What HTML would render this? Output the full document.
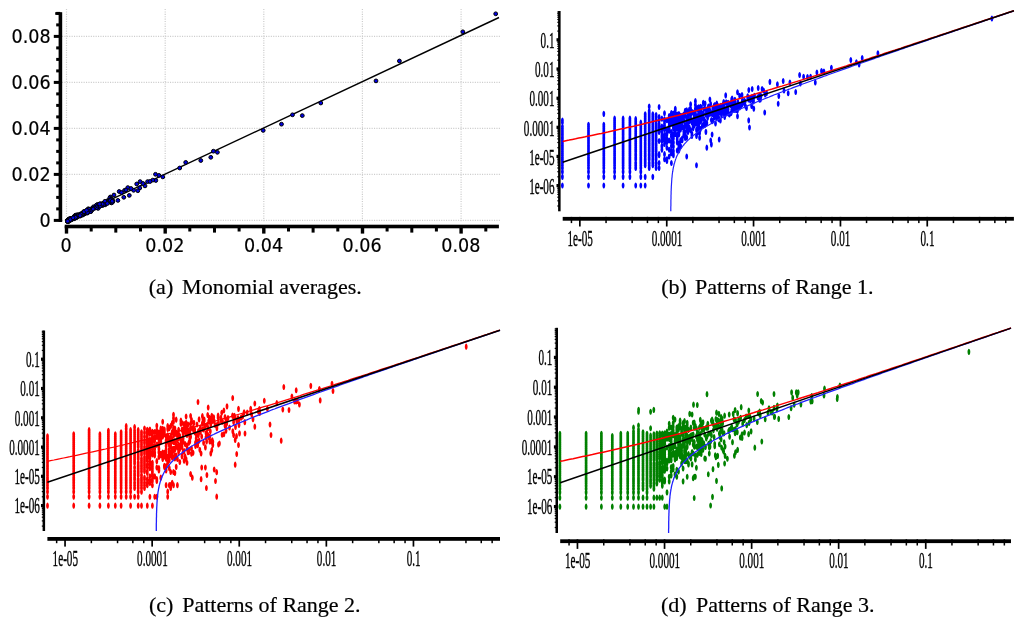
<!DOCTYPE html>
<html lang="en"><head><meta charset="utf-8"><title>Monomial averages and patterns</title>
<style>html,body{margin:0;padding:0;background:#fff}body{width:1024px;height:626px;overflow:hidden}svg{display:block}</style>
</head><body>
<svg width="1024" height="626" viewBox="0 0 1024 626" role="img" aria-label="Four scatter plots">
<rect width="1024" height="626" fill="#fff"/>
<g id="plot-a">
<g stroke="#cdcdcd" stroke-width="1.2" stroke-dasharray="1.1 1.3" fill="none">
<path d="M62 220.4 H500"/>
<path d="M62 174.4 H500"/>
<path d="M62 128.4 H500"/>
<path d="M62 82.4 H500"/>
<path d="M62 36.4 H500"/>
<path d="M66.5 9 V222"/>
<path d="M165.2 9 V222"/>
<path d="M263.8 9 V222"/>
<path d="M362.4 9 V222"/>
<path d="M461.1 9 V222"/>
</g>
<path d="M66.5 220.4 L499 17.5" stroke="#000" stroke-width="1.4" fill="none"/>
<g fill="#0000e0" stroke="#000" stroke-width="1">
<circle cx="495.7" cy="13.8" r="1.9"/>
<circle cx="462.8" cy="31.8" r="1.9"/>
<circle cx="399.4" cy="61" r="1.9"/>
<circle cx="376" cy="80.9" r="1.9"/>
<circle cx="320.8" cy="103" r="1.9"/>
<circle cx="302.3" cy="115.6" r="1.9"/>
<circle cx="292.5" cy="114.8" r="1.9"/>
<circle cx="281.5" cy="124.2" r="1.9"/>
<circle cx="263.2" cy="130.4" r="1.9"/>
<circle cx="213.4" cy="151.2" r="1.9"/>
<circle cx="217.4" cy="152.3" r="1.9"/>
<circle cx="210.8" cy="157.3" r="1.9"/>
<circle cx="200.8" cy="160.5" r="1.9"/>
<circle cx="185.7" cy="162.4" r="1.9"/>
<circle cx="179.7" cy="168" r="1.9"/>
<circle cx="162.8" cy="176.9" r="1.9"/>
<circle cx="158.9" cy="175.4" r="1.9"/>
<circle cx="155.5" cy="174.3" r="1.9"/>
<circle cx="155.8" cy="180.5" r="1.9"/>
<circle cx="152.8" cy="180.1" r="1.9"/>
<circle cx="147.6" cy="181.6" r="1.9"/>
<circle cx="145" cy="185.9" r="1.9"/>
<circle cx="140.1" cy="181.6" r="1.9"/>
<circle cx="136.7" cy="184" r="1.9"/>
<circle cx="139.8" cy="187.9" r="1.9"/>
<circle cx="137.8" cy="190.7" r="1.9"/>
<circle cx="133.6" cy="190.3" r="1.9"/>
<circle cx="127.8" cy="187.6" r="1.9"/>
<circle cx="124.6" cy="190.3" r="1.9"/>
<circle cx="129.3" cy="195.4" r="1.9"/>
<circle cx="123.8" cy="197.3" r="1.9"/>
<circle cx="117.9" cy="200.4" r="1.9"/>
<circle cx="119.2" cy="191.5" r="1.9"/>
<circle cx="114" cy="195" r="1.9"/>
<circle cx="110.4" cy="197" r="1.9"/>
<circle cx="131" cy="188.5" r="1.9"/>
<circle cx="143" cy="183.5" r="1.9"/>
<circle cx="150" cy="181.5" r="1.9"/>
<circle cx="121.5" cy="192.5" r="1.9"/>
<circle cx="126" cy="190" r="1.9"/>
<circle cx="72.9" cy="218.7" r="1.9"/>
<circle cx="67.8" cy="221.2" r="1.9"/>
<circle cx="81.6" cy="214" r="1.9"/>
<circle cx="80.2" cy="215" r="1.9"/>
<circle cx="67.6" cy="220.6" r="1.9"/>
<circle cx="68" cy="220.6" r="1.9"/>
<circle cx="76.5" cy="216.7" r="1.9"/>
<circle cx="70.2" cy="219.3" r="1.9"/>
<circle cx="86.5" cy="213" r="1.9"/>
<circle cx="75.4" cy="216.8" r="1.9"/>
<circle cx="111.4" cy="202.9" r="1.9"/>
<circle cx="71.9" cy="219.1" r="1.9"/>
<circle cx="68.7" cy="220.6" r="1.9"/>
<circle cx="98.8" cy="206.8" r="1.9"/>
<circle cx="69.3" cy="219.4" r="1.9"/>
<circle cx="74.5" cy="217.1" r="1.9"/>
<circle cx="82.2" cy="214.2" r="1.9"/>
<circle cx="69.8" cy="219.8" r="1.9"/>
<circle cx="89.6" cy="209.7" r="1.9"/>
<circle cx="84.1" cy="213.3" r="1.9"/>
<circle cx="77.7" cy="215.6" r="1.9"/>
<circle cx="90.8" cy="211.5" r="1.9"/>
<circle cx="70.7" cy="218.8" r="1.9"/>
<circle cx="103.2" cy="203.4" r="1.9"/>
<circle cx="92.8" cy="208.3" r="1.9"/>
<circle cx="68.3" cy="221.7" r="1.9"/>
<circle cx="76.3" cy="216.7" r="1.9"/>
<circle cx="79.3" cy="214.8" r="1.9"/>
<circle cx="67.6" cy="220.4" r="1.9"/>
<circle cx="83.5" cy="212.1" r="1.9"/>
<circle cx="103.2" cy="203.3" r="1.9"/>
<circle cx="84.6" cy="213.9" r="1.9"/>
<circle cx="83.8" cy="211.6" r="1.9"/>
<circle cx="108.8" cy="202.1" r="1.9"/>
<circle cx="78.6" cy="215.4" r="1.9"/>
<circle cx="91" cy="209.5" r="1.9"/>
<circle cx="87.6" cy="213" r="1.9"/>
<circle cx="71.7" cy="218.8" r="1.9"/>
<circle cx="75" cy="217.2" r="1.9"/>
<circle cx="78.1" cy="215.7" r="1.9"/>
<circle cx="69.1" cy="220.2" r="1.9"/>
<circle cx="95.4" cy="208" r="1.9"/>
<circle cx="68.4" cy="220.4" r="1.9"/>
<circle cx="102.9" cy="205.4" r="1.9"/>
<circle cx="67.9" cy="220.1" r="1.9"/>
<circle cx="103.8" cy="204.2" r="1.9"/>
<circle cx="99" cy="206.6" r="1.9"/>
<circle cx="76.2" cy="216.3" r="1.9"/>
<circle cx="74.1" cy="218.8" r="1.9"/>
<circle cx="68.8" cy="219.4" r="1.9"/>
<circle cx="69.2" cy="220" r="1.9"/>
<circle cx="79.1" cy="215.9" r="1.9"/>
<circle cx="84.3" cy="212.9" r="1.9"/>
<circle cx="76.3" cy="216.7" r="1.9"/>
<circle cx="74.4" cy="216.2" r="1.9"/>
<circle cx="90.3" cy="209.2" r="1.9"/>
<circle cx="80.6" cy="213.9" r="1.9"/>
<circle cx="67.7" cy="220.3" r="1.9"/>
<circle cx="105.1" cy="203.6" r="1.9"/>
<circle cx="97.5" cy="204.5" r="1.9"/>
<circle cx="75.3" cy="216.9" r="1.9"/>
<circle cx="86.9" cy="212" r="1.9"/>
<circle cx="67.7" cy="221" r="1.9"/>
<circle cx="69" cy="220.3" r="1.9"/>
<circle cx="73.4" cy="218" r="1.9"/>
<circle cx="68.8" cy="220.2" r="1.9"/>
<circle cx="68.1" cy="220.5" r="1.9"/>
<circle cx="103.1" cy="204.3" r="1.9"/>
<circle cx="85.7" cy="212.6" r="1.9"/>
<circle cx="73.7" cy="218.3" r="1.9"/>
<circle cx="74.2" cy="218.5" r="1.9"/>
<circle cx="112.9" cy="201.5" r="1.9"/>
<circle cx="78.3" cy="215.4" r="1.9"/>
<circle cx="68.1" cy="220.5" r="1.9"/>
<circle cx="73.5" cy="217.9" r="1.9"/>
<circle cx="68.9" cy="221" r="1.9"/>
<circle cx="67.5" cy="221.3" r="1.9"/>
<circle cx="68.7" cy="220.1" r="1.9"/>
<circle cx="81.9" cy="215" r="1.9"/>
<circle cx="111.6" cy="200.4" r="1.9"/>
<circle cx="102.3" cy="204.2" r="1.9"/>
<circle cx="74.3" cy="217.1" r="1.9"/>
<circle cx="69" cy="220.2" r="1.9"/>
<circle cx="96.1" cy="206" r="1.9"/>
<circle cx="73.1" cy="218.4" r="1.9"/>
<circle cx="112.2" cy="202.4" r="1.9"/>
<circle cx="101.5" cy="205.6" r="1.9"/>
<circle cx="93.5" cy="206.8" r="1.9"/>
<circle cx="70.2" cy="219" r="1.9"/>
<circle cx="67.6" cy="220.7" r="1.9"/>
<circle cx="67.6" cy="220.7" r="1.9"/>
<circle cx="90.4" cy="210.8" r="1.9"/>
<circle cx="109.8" cy="197.9" r="1.9"/>
<circle cx="112.5" cy="200.8" r="1.9"/>
<circle cx="109.6" cy="200.4" r="1.9"/>
<circle cx="70.2" cy="219.8" r="1.9"/>
<circle cx="69.6" cy="220" r="1.9"/>
<circle cx="105.2" cy="204.8" r="1.9"/>
<circle cx="100.6" cy="203.6" r="1.9"/>
<circle cx="97.6" cy="206.9" r="1.9"/>
<circle cx="67.9" cy="220.1" r="1.9"/>
<circle cx="96.4" cy="205.2" r="1.9"/>
<circle cx="94.1" cy="207.7" r="1.9"/>
<circle cx="96.8" cy="207.1" r="1.9"/>
<circle cx="73.2" cy="218.6" r="1.9"/>
<circle cx="75.4" cy="215.5" r="1.9"/>
<circle cx="75.6" cy="217.9" r="1.9"/>
<circle cx="69.1" cy="219.8" r="1.9"/>
<circle cx="68.4" cy="221" r="1.9"/>
<circle cx="98.1" cy="208.4" r="1.9"/>
<circle cx="68.7" cy="220.9" r="1.9"/>
<circle cx="88.2" cy="208.8" r="1.9"/>
<circle cx="73.8" cy="217.6" r="1.9"/>
<circle cx="67.5" cy="220.7" r="1.9"/>
<circle cx="111" cy="199.4" r="1.9"/>
<circle cx="107.9" cy="200.5" r="1.9"/>
<circle cx="76.9" cy="217.2" r="1.9"/>
<circle cx="69.9" cy="219" r="1.9"/>
<circle cx="70.8" cy="219.1" r="1.9"/>
<circle cx="84.2" cy="213.6" r="1.9"/>
<circle cx="71" cy="218.9" r="1.9"/>
<circle cx="106" cy="203.1" r="1.9"/>
<circle cx="73.9" cy="217" r="1.9"/>
<circle cx="105.5" cy="203.4" r="1.9"/>
<circle cx="76.4" cy="217.3" r="1.9"/>
<circle cx="81.4" cy="213.9" r="1.9"/>
<circle cx="80.9" cy="215.3" r="1.9"/>
<circle cx="69.3" cy="220" r="1.9"/>
<circle cx="67.5" cy="220.9" r="1.9"/>
<circle cx="78.6" cy="215.2" r="1.9"/>
<circle cx="92.5" cy="208.2" r="1.9"/>
<circle cx="80.7" cy="214.4" r="1.9"/>
<circle cx="82.6" cy="213.8" r="1.9"/>
<circle cx="82.8" cy="213.3" r="1.9"/>
<circle cx="70.8" cy="219.1" r="1.9"/>
<circle cx="80.2" cy="216.1" r="1.9"/>
<circle cx="82.9" cy="213.7" r="1.9"/>
<circle cx="77.3" cy="214.7" r="1.9"/>
<circle cx="85.6" cy="211.3" r="1.9"/>
<circle cx="90.4" cy="210" r="1.9"/>
<circle cx="77.7" cy="215.3" r="1.9"/>
<circle cx="108.5" cy="201.2" r="1.9"/>
<circle cx="90.8" cy="211.5" r="1.9"/>
<circle cx="71" cy="218.3" r="1.9"/>
<circle cx="82.8" cy="215" r="1.9"/>
<circle cx="68.6" cy="220" r="1.9"/>
<circle cx="68.3" cy="220.2" r="1.9"/>
<circle cx="70.6" cy="219.4" r="1.9"/>
<circle cx="67.8" cy="220.3" r="1.9"/>
<circle cx="104.9" cy="201.3" r="1.9"/>
<circle cx="68.8" cy="220" r="1.9"/>
<circle cx="68.6" cy="219.6" r="1.9"/>
<circle cx="103.8" cy="204.6" r="1.9"/>
<circle cx="109.4" cy="200.9" r="1.9"/>
<circle cx="75.5" cy="215.2" r="1.9"/>
<circle cx="100" cy="205.8" r="1.9"/>
<circle cx="68.9" cy="219.6" r="1.9"/>
<circle cx="73.4" cy="218.3" r="1.9"/>
<circle cx="69.6" cy="219.5" r="1.9"/>
<circle cx="67.5" cy="221.4" r="1.9"/>
<circle cx="82.5" cy="213.6" r="1.9"/>
<circle cx="73.1" cy="218.2" r="1.9"/>
<circle cx="86.3" cy="211.7" r="1.9"/>
<circle cx="112.2" cy="199.8" r="1.9"/>
<circle cx="96.8" cy="207.6" r="1.9"/>
<circle cx="71.2" cy="219" r="1.9"/>
<circle cx="67.6" cy="220.8" r="1.9"/>
<circle cx="68.4" cy="220" r="1.9"/>
<circle cx="76.4" cy="217.6" r="1.9"/>
<circle cx="71" cy="218.6" r="1.9"/>
<circle cx="68.7" cy="220.8" r="1.9"/>
<circle cx="90.9" cy="209.2" r="1.9"/>
<circle cx="68" cy="221.2" r="1.9"/>
<circle cx="76.6" cy="216.9" r="1.9"/>
<circle cx="67.8" cy="221.3" r="1.9"/>
<circle cx="97.7" cy="206" r="1.9"/>
<circle cx="67.9" cy="220.7" r="1.9"/>
<circle cx="102.3" cy="204.1" r="1.9"/>
<circle cx="77.8" cy="215.5" r="1.9"/>
<circle cx="107.3" cy="203.5" r="1.9"/>
<circle cx="71.3" cy="219.5" r="1.9"/>
<circle cx="70.5" cy="219.8" r="1.9"/>
<circle cx="68.2" cy="220.6" r="1.9"/>
<circle cx="69.7" cy="219.9" r="1.9"/>
<circle cx="72.5" cy="218.1" r="1.9"/>
<circle cx="71.9" cy="219.6" r="1.9"/>
<circle cx="79.8" cy="215.3" r="1.9"/>
<circle cx="67.5" cy="221.2" r="1.9"/>
<circle cx="70.8" cy="220.1" r="1.9"/>
<circle cx="82.3" cy="214" r="1.9"/>
<circle cx="69.4" cy="218.7" r="1.9"/>
<circle cx="68.2" cy="220.7" r="1.9"/>
<circle cx="99" cy="204.8" r="1.9"/>
<circle cx="100.1" cy="206.1" r="1.9"/>
<circle cx="75.3" cy="216.2" r="1.9"/>
<circle cx="112" cy="199.8" r="1.9"/>
<circle cx="73.5" cy="218.4" r="1.9"/>
<circle cx="87" cy="210.5" r="1.9"/>
<circle cx="75.7" cy="216.8" r="1.9"/>
<circle cx="68.5" cy="220.5" r="1.9"/>
<circle cx="67.8" cy="220.6" r="1.9"/>
<circle cx="69" cy="219.7" r="1.9"/>
<circle cx="67.9" cy="221.1" r="1.9"/>
<circle cx="89" cy="209.1" r="1.9"/>
<circle cx="71.6" cy="218.9" r="1.9"/>
<circle cx="78" cy="216.4" r="1.9"/>
<circle cx="68.9" cy="219.8" r="1.9"/>
<circle cx="110.2" cy="201.1" r="1.9"/>
<circle cx="111.1" cy="199.3" r="1.9"/>
<circle cx="110.5" cy="200.3" r="1.9"/>
<circle cx="72.5" cy="218.5" r="1.9"/>
<circle cx="74.9" cy="217.4" r="1.9"/>
<circle cx="78.7" cy="215.1" r="1.9"/>
<circle cx="80" cy="214.9" r="1.9"/>
<circle cx="67.5" cy="220.8" r="1.9"/>
<circle cx="75.5" cy="217.3" r="1.9"/>
<circle cx="67.6" cy="221.1" r="1.9"/>
<circle cx="70.4" cy="219.5" r="1.9"/>
<circle cx="84.1" cy="211.7" r="1.9"/>
<circle cx="88.2" cy="210.8" r="1.9"/>
<circle cx="91.9" cy="210.1" r="1.9"/>
<circle cx="73" cy="217.8" r="1.9"/>
<circle cx="112.2" cy="201.2" r="1.9"/>
<circle cx="87.4" cy="212.6" r="1.9"/>
<circle cx="67.6" cy="221.2" r="1.9"/>
<circle cx="86.5" cy="210.3" r="1.9"/>
<circle cx="93.1" cy="209" r="1.9"/>
<circle cx="81" cy="214.1" r="1.9"/>
<circle cx="80" cy="215.6" r="1.9"/>
<circle cx="99.5" cy="204" r="1.9"/>
</g>
<g fill="#000">
<rect x="58.6" y="12.2" width="3.6" height="209.8"/>
<rect x="64.7" y="224.7" width="434.2" height="3.6"/>
<rect x="53.8" y="218.9" width="6" height="3"/>
<rect x="56.2" y="207.4" width="4" height="3"/>
<rect x="56.2" y="195.9" width="4" height="3"/>
<rect x="56.2" y="184.4" width="4" height="3"/>
<rect x="53.8" y="172.9" width="6" height="3"/>
<rect x="56.2" y="161.4" width="4" height="3"/>
<rect x="56.2" y="149.9" width="4" height="3"/>
<rect x="56.2" y="138.4" width="4" height="3"/>
<rect x="53.8" y="126.9" width="6" height="3"/>
<rect x="56.2" y="115.4" width="4" height="3"/>
<rect x="56.2" y="103.9" width="4" height="3"/>
<rect x="56.2" y="92.4" width="4" height="3"/>
<rect x="53.8" y="80.9" width="6" height="3"/>
<rect x="56.2" y="69.4" width="4" height="3"/>
<rect x="56.2" y="57.9" width="4" height="3"/>
<rect x="56.2" y="46.4" width="4" height="3"/>
<rect x="53.8" y="34.9" width="6" height="3"/>
<rect x="56.2" y="23.4" width="4" height="3"/>
<rect x="56.2" y="11.9" width="4" height="3"/>
<rect x="55.2" y="12.2" width="5" height="2.6"/>
<rect x="64.8" y="226" width="3.4" height="7.6"/>
<rect x="89.7" y="226" width="3" height="5.5"/>
<rect x="114.3" y="226" width="3" height="6.6"/>
<rect x="139" y="226" width="3" height="5.5"/>
<rect x="163.5" y="226" width="3.4" height="7.6"/>
<rect x="188.3" y="226" width="3" height="5.5"/>
<rect x="213" y="226" width="3" height="6.6"/>
<rect x="237.6" y="226" width="3" height="5.5"/>
<rect x="262.1" y="226" width="3.4" height="7.6"/>
<rect x="287" y="226" width="3" height="5.5"/>
<rect x="311.6" y="226" width="3" height="6.6"/>
<rect x="336.3" y="226" width="3" height="5.5"/>
<rect x="360.8" y="226" width="3.4" height="7.6"/>
<rect x="385.6" y="226" width="3" height="5.5"/>
<rect x="410.3" y="226" width="3" height="6.6"/>
<rect x="434.9" y="226" width="3" height="5.5"/>
<rect x="459.4" y="226" width="3.4" height="7.6"/>
<rect x="484.3" y="226" width="3" height="5.5"/>
</g>
<g font-family="'DejaVu Sans', 'Liberation Sans', sans-serif" font-size="18.6" fill="#000" stroke="#000" stroke-width="0.2">
<text transform="translate(50.6 226.9) scale(0.945 1)" text-anchor="end">0</text>
<text transform="translate(50.6 180.9) scale(0.945 1)" text-anchor="end">0.02</text>
<text transform="translate(50.6 134.9) scale(0.945 1)" text-anchor="end">0.04</text>
<text transform="translate(50.6 88.9) scale(0.945 1)" text-anchor="end">0.06</text>
<text transform="translate(50.6 42.9) scale(0.945 1)" text-anchor="end">0.08</text>
<text transform="translate(66.2 251.7) scale(0.945 1)" text-anchor="middle">0</text>
<text transform="translate(164.8 251.7) scale(0.945 1)" text-anchor="middle">0.02</text>
<text transform="translate(263.5 251.7) scale(0.945 1)" text-anchor="middle">0.04</text>
<text transform="translate(362.1 251.7) scale(0.945 1)" text-anchor="middle">0.06</text>
<text transform="translate(460.8 251.7) scale(0.945 1)" text-anchor="middle">0.08</text>
</g>
</g>
<g id="plot-b">
<path d="M769.9 78.8a1.38 3.05 0 1 0 .01 0zM777.4 81.2a1.38 3.05 0 1 0 .01 0zM783.2 78a1.38 3.05 0 1 0 .01 0zM789.9 79.5a1.38 3.05 0 1 0 .01 0zM799.6 72a1.38 3.05 0 1 0 .01 0zM803.6 73.7a1.38 3.05 0 1 0 .01 0zM807.5 74a1.38 3.05 0 1 0 .01 0zM810.6 73.7a1.38 3.05 0 1 0 .01 0zM816.9 69.4a1.38 3.05 0 1 0 .01 0zM821.5 67.9a1.38 3.05 0 1 0 .01 0zM823.9 68.5a1.38 3.05 0 1 0 .01 0zM831.4 64.7a1.38 3.05 0 1 0 .01 0zM815.3 79.5a1.38 3.05 0 1 0 .01 0zM795.7 89a1.38 3.05 0 1 0 .01 0zM788.2 90.2a1.38 3.05 0 1 0 .01 0zM784 87.4a1.38 3.05 0 1 0 .01 0zM778.8 92.9a1.38 3.05 0 1 0 .01 0zM778.2 100.7a1.38 3.05 0 1 0 .01 0zM764.7 109.5a1.38 3.05 0 1 0 .01 0zM850.8 56.9a1.38 3.05 0 1 0 .01 0zM862.2 55a1.38 3.05 0 1 0 .01 0zM859.1 61.5a1.38 3.05 0 1 0 .01 0zM856.4 59.2a1.38 3.05 0 1 0 .01 0zM877.9 50.2a1.38 3.05 0 1 0 .01 0zM800.4 80.4a1.38 3.05 0 1 0 .01 0zM748.8 87a1.38 3.05 0 1 0 .01 0zM752.2 85.9a1.38 3.05 0 1 0 .01 0zM758.2 85a1.38 3.05 0 1 0 .01 0zM762.1 85.9a1.38 3.05 0 1 0 .01 0zM763.6 87.4a1.38 3.05 0 1 0 .01 0zM991.9 15.4a1.38 3.05 0 1 0 .01 0zM562.4 182.5a1.38 3.05 0 1 0 .01 0zM562.4 173.8a1.38 3.05 0 1 0 .01 0zM562.4 168.6a1.38 3.05 0 1 0 .01 0zM562.4 165a1.38 3.05 0 1 0 .01 0zM562.4 165a1.38 3.05 0 1 0 .01 0zM562.4 162.2a1.38 3.05 0 1 0 .01 0zM562.4 159.9a1.38 3.05 0 1 0 .01 0zM562.4 157.9a1.38 3.05 0 1 0 .01 0zM562.4 156.2a1.38 3.05 0 1 0 .01 0zM562.4 154.7a1.38 3.05 0 1 0 .01 0zM562.4 152.2a1.38 3.05 0 1 0 .01 0zM562.4 150.1a1.38 3.05 0 1 0 .01 0zM562.4 148.3a1.38 3.05 0 1 0 .01 0zM562.4 146a1.38 3.05 0 1 0 .01 0zM562.4 144a1.38 3.05 0 1 0 .01 0zM562.4 142.3a1.38 3.05 0 1 0 .01 0zM562.4 139.9a1.38 3.05 0 1 0 .01 0zM562.4 137.9a1.38 3.05 0 1 0 .01 0zM562.4 135.8a1.38 3.05 0 1 0 .01 0zM562.4 134.1a1.38 3.05 0 1 0 .01 0zM562.4 131.8a1.38 3.05 0 1 0 .01 0zM562.4 129.9a1.38 3.05 0 1 0 .01 0zM562.4 127.9a1.38 3.05 0 1 0 .01 0zM562.4 125.7a1.38 3.05 0 1 0 .01 0zM562.4 123.8a1.38 3.05 0 1 0 .01 0zM562.4 119.1a1.38 3.05 0 1 0 .01 0zM562.4 117.5a1.38 3.05 0 1 0 .01 0zM588.5 182.5a1.38 3.05 0 1 0 .01 0zM588.5 173.8a1.38 3.05 0 1 0 .01 0zM588.5 168.6a1.38 3.05 0 1 0 .01 0zM588.5 165a1.38 3.05 0 1 0 .01 0zM588.5 165a1.38 3.05 0 1 0 .01 0zM588.5 162.2a1.38 3.05 0 1 0 .01 0zM588.5 159.9a1.38 3.05 0 1 0 .01 0zM588.5 157.9a1.38 3.05 0 1 0 .01 0zM588.5 156.2a1.38 3.05 0 1 0 .01 0zM588.5 154.7a1.38 3.05 0 1 0 .01 0zM588.5 152.2a1.38 3.05 0 1 0 .01 0zM588.5 150.1a1.38 3.05 0 1 0 .01 0zM588.5 148.3a1.38 3.05 0 1 0 .01 0zM588.5 146a1.38 3.05 0 1 0 .01 0zM588.5 144a1.38 3.05 0 1 0 .01 0zM588.5 142.3a1.38 3.05 0 1 0 .01 0zM588.5 139.9a1.38 3.05 0 1 0 .01 0zM588.5 137.9a1.38 3.05 0 1 0 .01 0zM588.5 135.8a1.38 3.05 0 1 0 .01 0zM588.5 134.1a1.38 3.05 0 1 0 .01 0zM588.5 131.8a1.38 3.05 0 1 0 .01 0zM588.5 129.9a1.38 3.05 0 1 0 .01 0zM588.5 127.9a1.38 3.05 0 1 0 .01 0zM588.5 125.7a1.38 3.05 0 1 0 .01 0zM588.5 123.8a1.38 3.05 0 1 0 .01 0zM588.5 121.7a1.38 3.05 0 1 0 .01 0zM603.8 182.5a1.38 3.05 0 1 0 .01 0zM603.8 173.8a1.38 3.05 0 1 0 .01 0zM603.8 168.6a1.38 3.05 0 1 0 .01 0zM603.8 165a1.38 3.05 0 1 0 .01 0zM603.8 165a1.38 3.05 0 1 0 .01 0zM603.8 162.2a1.38 3.05 0 1 0 .01 0zM603.8 159.9a1.38 3.05 0 1 0 .01 0zM603.8 157.9a1.38 3.05 0 1 0 .01 0zM603.8 156.2a1.38 3.05 0 1 0 .01 0zM603.8 154.7a1.38 3.05 0 1 0 .01 0zM603.8 152.2a1.38 3.05 0 1 0 .01 0zM603.8 150.1a1.38 3.05 0 1 0 .01 0zM603.8 148.3a1.38 3.05 0 1 0 .01 0zM603.8 146a1.38 3.05 0 1 0 .01 0zM603.8 144a1.38 3.05 0 1 0 .01 0zM603.8 142.3a1.38 3.05 0 1 0 .01 0zM603.8 139.9a1.38 3.05 0 1 0 .01 0zM603.8 137.9a1.38 3.05 0 1 0 .01 0zM603.8 135.8a1.38 3.05 0 1 0 .01 0zM603.8 134.1a1.38 3.05 0 1 0 .01 0zM603.8 131.8a1.38 3.05 0 1 0 .01 0zM603.8 129.9a1.38 3.05 0 1 0 .01 0zM603.8 127.9a1.38 3.05 0 1 0 .01 0zM603.8 125.7a1.38 3.05 0 1 0 .01 0zM603.8 123.8a1.38 3.05 0 1 0 .01 0zM603.8 121.7a1.38 3.05 0 1 0 .01 0zM603.8 110.8a1.38 3.05 0 1 0 .01 0zM614.6 173.8a1.38 3.05 0 1 0 .01 0zM614.6 168.6a1.38 3.05 0 1 0 .01 0zM614.6 165a1.38 3.05 0 1 0 .01 0zM614.6 165a1.38 3.05 0 1 0 .01 0zM614.6 162.2a1.38 3.05 0 1 0 .01 0zM614.6 159.9a1.38 3.05 0 1 0 .01 0zM614.6 157.9a1.38 3.05 0 1 0 .01 0zM614.6 156.2a1.38 3.05 0 1 0 .01 0zM614.6 154.7a1.38 3.05 0 1 0 .01 0zM614.6 152.2a1.38 3.05 0 1 0 .01 0zM614.6 150.1a1.38 3.05 0 1 0 .01 0zM614.6 148.3a1.38 3.05 0 1 0 .01 0zM614.6 146a1.38 3.05 0 1 0 .01 0zM614.6 144a1.38 3.05 0 1 0 .01 0zM614.6 142.3a1.38 3.05 0 1 0 .01 0zM614.6 139.9a1.38 3.05 0 1 0 .01 0zM614.6 137.9a1.38 3.05 0 1 0 .01 0zM614.6 135.8a1.38 3.05 0 1 0 .01 0zM614.6 134.1a1.38 3.05 0 1 0 .01 0zM614.6 131.8a1.38 3.05 0 1 0 .01 0zM614.6 129.9a1.38 3.05 0 1 0 .01 0zM614.6 127.9a1.38 3.05 0 1 0 .01 0zM614.6 125.7a1.38 3.05 0 1 0 .01 0zM614.6 123.8a1.38 3.05 0 1 0 .01 0zM614.6 121.7a1.38 3.05 0 1 0 .01 0zM614.6 119.6a1.38 3.05 0 1 0 .01 0zM614.6 117.6a1.38 3.05 0 1 0 .01 0zM614.6 115.6a1.38 3.05 0 1 0 .01 0zM623.1 182.5a1.38 3.05 0 1 0 .01 0zM623.1 173.8a1.38 3.05 0 1 0 .01 0zM623.1 168.6a1.38 3.05 0 1 0 .01 0zM623.1 165a1.38 3.05 0 1 0 .01 0zM623.1 165a1.38 3.05 0 1 0 .01 0zM623.1 162.2a1.38 3.05 0 1 0 .01 0zM623.1 159.9a1.38 3.05 0 1 0 .01 0zM623.1 157.9a1.38 3.05 0 1 0 .01 0zM623.1 156.2a1.38 3.05 0 1 0 .01 0zM623.1 154.7a1.38 3.05 0 1 0 .01 0zM623.1 152.2a1.38 3.05 0 1 0 .01 0zM623.1 150.1a1.38 3.05 0 1 0 .01 0zM623.1 148.3a1.38 3.05 0 1 0 .01 0zM623.1 146a1.38 3.05 0 1 0 .01 0zM623.1 144a1.38 3.05 0 1 0 .01 0zM623.1 142.3a1.38 3.05 0 1 0 .01 0zM623.1 139.9a1.38 3.05 0 1 0 .01 0zM623.1 137.9a1.38 3.05 0 1 0 .01 0zM623.1 135.8a1.38 3.05 0 1 0 .01 0zM623.1 134.1a1.38 3.05 0 1 0 .01 0zM623.1 131.8a1.38 3.05 0 1 0 .01 0zM623.1 129.9a1.38 3.05 0 1 0 .01 0zM623.1 127.9a1.38 3.05 0 1 0 .01 0zM623.1 125.7a1.38 3.05 0 1 0 .01 0zM623.1 123.8a1.38 3.05 0 1 0 .01 0zM623.1 121.7a1.38 3.05 0 1 0 .01 0zM623.1 119.6a1.38 3.05 0 1 0 .01 0zM623.1 117.6a1.38 3.05 0 1 0 .01 0zM623.1 115.6a1.38 3.05 0 1 0 .01 0zM629.9 173.8a1.38 3.05 0 1 0 .01 0zM629.9 168.6a1.38 3.05 0 1 0 .01 0zM629.9 165a1.38 3.05 0 1 0 .01 0zM629.9 165a1.38 3.05 0 1 0 .01 0zM629.9 162.2a1.38 3.05 0 1 0 .01 0zM629.9 159.9a1.38 3.05 0 1 0 .01 0zM629.9 157.9a1.38 3.05 0 1 0 .01 0zM629.9 156.2a1.38 3.05 0 1 0 .01 0zM629.9 154.7a1.38 3.05 0 1 0 .01 0zM629.9 152.2a1.38 3.05 0 1 0 .01 0zM629.9 150.1a1.38 3.05 0 1 0 .01 0zM629.9 148.3a1.38 3.05 0 1 0 .01 0zM629.9 146a1.38 3.05 0 1 0 .01 0zM629.9 144a1.38 3.05 0 1 0 .01 0zM629.9 142.3a1.38 3.05 0 1 0 .01 0zM629.9 139.9a1.38 3.05 0 1 0 .01 0zM629.9 137.9a1.38 3.05 0 1 0 .01 0zM629.9 135.8a1.38 3.05 0 1 0 .01 0zM629.9 134.1a1.38 3.05 0 1 0 .01 0zM629.9 131.8a1.38 3.05 0 1 0 .01 0zM629.9 129.9a1.38 3.05 0 1 0 .01 0zM629.9 127.9a1.38 3.05 0 1 0 .01 0zM629.9 125.7a1.38 3.05 0 1 0 .01 0zM629.9 123.8a1.38 3.05 0 1 0 .01 0zM629.9 121.7a1.38 3.05 0 1 0 .01 0zM629.9 119.6a1.38 3.05 0 1 0 .01 0zM629.9 117.6a1.38 3.05 0 1 0 .01 0zM629.9 115.6a1.38 3.05 0 1 0 .01 0zM635.7 182.5a1.38 3.05 0 1 0 .01 0zM635.7 165a1.38 3.05 0 1 0 .01 0zM635.7 162.2a1.38 3.05 0 1 0 .01 0zM635.7 159.9a1.38 3.05 0 1 0 .01 0zM635.7 159.9a1.38 3.05 0 1 0 .01 0zM635.7 156.2a1.38 3.05 0 1 0 .01 0zM635.7 154.7a1.38 3.05 0 1 0 .01 0zM635.7 152.2a1.38 3.05 0 1 0 .01 0zM635.7 151.1a1.38 3.05 0 1 0 .01 0zM635.7 148.3a1.38 3.05 0 1 0 .01 0zM635.7 146.7a1.38 3.05 0 1 0 .01 0zM635.7 144.6a1.38 3.05 0 1 0 .01 0zM635.7 142.3a1.38 3.05 0 1 0 .01 0zM635.7 140.4a1.38 3.05 0 1 0 .01 0zM635.7 138.3a1.38 3.05 0 1 0 .01 0zM635.7 136.5a1.38 3.05 0 1 0 .01 0zM635.7 134.4a1.38 3.05 0 1 0 .01 0zM635.7 132.3a1.38 3.05 0 1 0 .01 0zM635.7 130.3a1.38 3.05 0 1 0 .01 0zM635.7 128.2a1.38 3.05 0 1 0 .01 0zM635.7 126.2a1.38 3.05 0 1 0 .01 0zM635.7 124.2a1.38 3.05 0 1 0 .01 0zM635.7 122.2a1.38 3.05 0 1 0 .01 0zM635.7 120.1a1.38 3.05 0 1 0 .01 0zM635.7 118.1a1.38 3.05 0 1 0 .01 0zM635.7 116.1a1.38 3.05 0 1 0 .01 0zM640.8 182.5a1.38 3.05 0 1 0 .01 0zM640.8 173.8a1.38 3.05 0 1 0 .01 0zM640.8 168.6a1.38 3.05 0 1 0 .01 0zM640.8 165a1.38 3.05 0 1 0 .01 0zM640.8 165a1.38 3.05 0 1 0 .01 0zM640.8 162.2a1.38 3.05 0 1 0 .01 0zM640.8 159.9a1.38 3.05 0 1 0 .01 0zM640.8 157.9a1.38 3.05 0 1 0 .01 0zM640.8 156.2a1.38 3.05 0 1 0 .01 0zM640.8 154.7a1.38 3.05 0 1 0 .01 0zM640.8 152.2a1.38 3.05 0 1 0 .01 0zM640.8 150.1a1.38 3.05 0 1 0 .01 0zM640.8 148.3a1.38 3.05 0 1 0 .01 0zM640.8 146a1.38 3.05 0 1 0 .01 0zM640.8 144a1.38 3.05 0 1 0 .01 0zM640.8 142.3a1.38 3.05 0 1 0 .01 0zM640.8 139.9a1.38 3.05 0 1 0 .01 0zM640.8 137.9a1.38 3.05 0 1 0 .01 0zM640.8 135.8a1.38 3.05 0 1 0 .01 0zM640.8 134.1a1.38 3.05 0 1 0 .01 0zM640.8 131.8a1.38 3.05 0 1 0 .01 0zM640.8 129.9a1.38 3.05 0 1 0 .01 0zM640.8 127.9a1.38 3.05 0 1 0 .01 0zM640.8 125.7a1.38 3.05 0 1 0 .01 0zM640.8 123.8a1.38 3.05 0 1 0 .01 0zM640.8 121.7a1.38 3.05 0 1 0 .01 0zM640.8 119.6a1.38 3.05 0 1 0 .01 0zM645.2 182.5a1.38 3.05 0 1 0 .01 0zM645.2 173.8a1.38 3.05 0 1 0 .01 0zM645.2 162.2a1.38 3.05 0 1 0 .01 0zM645.2 159.9a1.38 3.05 0 1 0 .01 0zM645.2 157.9a1.38 3.05 0 1 0 .01 0zM645.2 156.2a1.38 3.05 0 1 0 .01 0zM645.2 153.4a1.38 3.05 0 1 0 .01 0zM645.2 152.2a1.38 3.05 0 1 0 .01 0zM645.2 150.1a1.38 3.05 0 1 0 .01 0zM645.2 148.3a1.38 3.05 0 1 0 .01 0zM645.2 146a1.38 3.05 0 1 0 .01 0zM645.2 144a1.38 3.05 0 1 0 .01 0zM645.2 141.8a1.38 3.05 0 1 0 .01 0zM645.2 139.9a1.38 3.05 0 1 0 .01 0zM645.2 137.5a1.38 3.05 0 1 0 .01 0zM645.2 135.5a1.38 3.05 0 1 0 .01 0zM645.2 133.5a1.38 3.05 0 1 0 .01 0zM645.2 131.6a1.38 3.05 0 1 0 .01 0zM645.2 129.5a1.38 3.05 0 1 0 .01 0zM645.2 127.6a1.38 3.05 0 1 0 .01 0zM645.2 125.4a1.38 3.05 0 1 0 .01 0zM645.2 123.4a1.38 3.05 0 1 0 .01 0zM645.2 121.3a1.38 3.05 0 1 0 .01 0zM645.2 119.3a1.38 3.05 0 1 0 .01 0zM645.2 117.3a1.38 3.05 0 1 0 .01 0zM645.2 115.2a1.38 3.05 0 1 0 .01 0zM645.2 113.2a1.38 3.05 0 1 0 .01 0zM645.2 111.2a1.38 3.05 0 1 0 .01 0zM649.2 165a1.38 3.05 0 1 0 .01 0zM649.2 162.2a1.38 3.05 0 1 0 .01 0zM649.2 159.9a1.38 3.05 0 1 0 .01 0zM649.2 159.9a1.38 3.05 0 1 0 .01 0zM649.2 156.2a1.38 3.05 0 1 0 .01 0zM649.2 154.7a1.38 3.05 0 1 0 .01 0zM649.2 152.2a1.38 3.05 0 1 0 .01 0zM649.2 151.1a1.38 3.05 0 1 0 .01 0zM649.2 148.3a1.38 3.05 0 1 0 .01 0zM649.2 146.7a1.38 3.05 0 1 0 .01 0zM649.2 144.6a1.38 3.05 0 1 0 .01 0zM649.2 142.3a1.38 3.05 0 1 0 .01 0zM649.2 140.4a1.38 3.05 0 1 0 .01 0zM649.2 138.3a1.38 3.05 0 1 0 .01 0zM649.2 136.5a1.38 3.05 0 1 0 .01 0zM649.2 134.4a1.38 3.05 0 1 0 .01 0zM649.2 132.3a1.38 3.05 0 1 0 .01 0zM649.2 130.3a1.38 3.05 0 1 0 .01 0zM649.2 128.2a1.38 3.05 0 1 0 .01 0zM649.2 126.2a1.38 3.05 0 1 0 .01 0zM649.2 124.2a1.38 3.05 0 1 0 .01 0zM649.2 122.2a1.38 3.05 0 1 0 .01 0zM649.2 120.1a1.38 3.05 0 1 0 .01 0zM649.2 118.1a1.38 3.05 0 1 0 .01 0zM649.2 116.1a1.38 3.05 0 1 0 .01 0zM649.2 114a1.38 3.05 0 1 0 .01 0zM649.2 112a1.38 3.05 0 1 0 .01 0zM649.2 109.9a1.38 3.05 0 1 0 .01 0zM649.2 107.9a1.38 3.05 0 1 0 .01 0zM649.2 103.4a1.38 3.05 0 1 0 .01 0zM652.8 173.8a1.38 3.05 0 1 0 .01 0zM652.8 162.2a1.38 3.05 0 1 0 .01 0zM652.8 159.9a1.38 3.05 0 1 0 .01 0zM652.8 157.9a1.38 3.05 0 1 0 .01 0zM652.8 156.2a1.38 3.05 0 1 0 .01 0zM652.8 153.4a1.38 3.05 0 1 0 .01 0zM652.8 152.2a1.38 3.05 0 1 0 .01 0zM652.8 150.1a1.38 3.05 0 1 0 .01 0zM652.8 148.3a1.38 3.05 0 1 0 .01 0zM652.8 146a1.38 3.05 0 1 0 .01 0zM652.8 144a1.38 3.05 0 1 0 .01 0zM652.8 141.8a1.38 3.05 0 1 0 .01 0zM652.8 139.9a1.38 3.05 0 1 0 .01 0zM652.8 137.5a1.38 3.05 0 1 0 .01 0zM652.8 135.5a1.38 3.05 0 1 0 .01 0zM652.8 133.5a1.38 3.05 0 1 0 .01 0zM652.8 131.6a1.38 3.05 0 1 0 .01 0zM652.8 129.5a1.38 3.05 0 1 0 .01 0zM652.8 127.6a1.38 3.05 0 1 0 .01 0zM652.8 125.4a1.38 3.05 0 1 0 .01 0zM652.8 123.4a1.38 3.05 0 1 0 .01 0zM652.8 121.3a1.38 3.05 0 1 0 .01 0zM652.8 119.3a1.38 3.05 0 1 0 .01 0zM652.8 117.3a1.38 3.05 0 1 0 .01 0zM652.8 115.2a1.38 3.05 0 1 0 .01 0zM652.8 113.2a1.38 3.05 0 1 0 .01 0zM652.8 111.2a1.38 3.05 0 1 0 .01 0zM656.1 165a1.38 3.05 0 1 0 .01 0zM656.1 162.2a1.38 3.05 0 1 0 .01 0zM656.1 159.9a1.38 3.05 0 1 0 .01 0zM656.1 159.9a1.38 3.05 0 1 0 .01 0zM656.1 156.2a1.38 3.05 0 1 0 .01 0zM656.1 154.7a1.38 3.05 0 1 0 .01 0zM656.1 152.2a1.38 3.05 0 1 0 .01 0zM656.1 151.1a1.38 3.05 0 1 0 .01 0zM656.1 148.3a1.38 3.05 0 1 0 .01 0zM656.1 146.7a1.38 3.05 0 1 0 .01 0zM656.1 144.6a1.38 3.05 0 1 0 .01 0zM656.1 142.3a1.38 3.05 0 1 0 .01 0zM656.1 140.4a1.38 3.05 0 1 0 .01 0zM656.1 138.3a1.38 3.05 0 1 0 .01 0zM656.1 136.5a1.38 3.05 0 1 0 .01 0zM656.1 134.4a1.38 3.05 0 1 0 .01 0zM656.1 132.3a1.38 3.05 0 1 0 .01 0zM656.1 130.3a1.38 3.05 0 1 0 .01 0zM656.1 128.2a1.38 3.05 0 1 0 .01 0zM656.1 126.2a1.38 3.05 0 1 0 .01 0zM656.1 124.2a1.38 3.05 0 1 0 .01 0zM656.1 122.2a1.38 3.05 0 1 0 .01 0zM656.1 120.1a1.38 3.05 0 1 0 .01 0zM656.1 118.1a1.38 3.05 0 1 0 .01 0zM656.1 116.1a1.38 3.05 0 1 0 .01 0zM656.1 114a1.38 3.05 0 1 0 .01 0zM656.1 112a1.38 3.05 0 1 0 .01 0zM659.1 152.2a1.38 3.05 0 1 0 .01 0zM659.1 128.8a1.38 3.05 0 1 0 .01 0zM659.1 124.2a1.38 3.05 0 1 0 .01 0zM659.1 121.1a1.38 3.05 0 1 0 .01 0zM659.1 114a1.38 3.05 0 1 0 .01 0zM659.1 159.9a1.38 3.05 0 1 0 .01 0zM659.1 123.3a1.38 3.05 0 1 0 .01 0zM659.1 125.6a1.38 3.05 0 1 0 .01 0zM659.1 151.1a1.38 3.05 0 1 0 .01 0zM659.1 103.9a1.38 3.05 0 1 0 .01 0zM659.1 137.9a1.38 3.05 0 1 0 .01 0zM659.1 128.4a1.38 3.05 0 1 0 .01 0zM659.1 117.3a1.38 3.05 0 1 0 .01 0zM659.1 152.2a1.38 3.05 0 1 0 .01 0zM659.1 165a1.38 3.05 0 1 0 .01 0zM661.9 132.1a1.38 3.05 0 1 0 .01 0zM661.9 128.4a1.38 3.05 0 1 0 .01 0zM661.9 128.1a1.38 3.05 0 1 0 .01 0zM661.9 143.4a1.38 3.05 0 1 0 .01 0zM661.9 115.6a1.38 3.05 0 1 0 .01 0zM661.9 126a1.38 3.05 0 1 0 .01 0zM661.9 137.9a1.38 3.05 0 1 0 .01 0zM661.9 134.9a1.38 3.05 0 1 0 .01 0zM661.9 123.8a1.38 3.05 0 1 0 .01 0zM661.9 133.3a1.38 3.05 0 1 0 .01 0zM661.9 142.9a1.38 3.05 0 1 0 .01 0zM661.9 123.5a1.38 3.05 0 1 0 .01 0zM661.9 136.2a1.38 3.05 0 1 0 .01 0zM661.9 128.1a1.38 3.05 0 1 0 .01 0zM661.9 146.7a1.38 3.05 0 1 0 .01 0zM664.5 135.2a1.38 3.05 0 1 0 .01 0zM664.5 110.2a1.38 3.05 0 1 0 .01 0zM664.5 137.5a1.38 3.05 0 1 0 .01 0zM664.5 126.2a1.38 3.05 0 1 0 .01 0zM664.5 151.1a1.38 3.05 0 1 0 .01 0zM664.5 122.7a1.38 3.05 0 1 0 .01 0zM664.5 124.1a1.38 3.05 0 1 0 .01 0zM664.5 133a1.38 3.05 0 1 0 .01 0zM664.5 156.2a1.38 3.05 0 1 0 .01 0zM664.5 131.4a1.38 3.05 0 1 0 .01 0zM664.5 120.7a1.38 3.05 0 1 0 .01 0zM664.5 116.2a1.38 3.05 0 1 0 .01 0zM664.5 140.8a1.38 3.05 0 1 0 .01 0zM664.5 135.8a1.38 3.05 0 1 0 .01 0zM664.5 118.3a1.38 3.05 0 1 0 .01 0zM666.9 144.6a1.38 3.05 0 1 0 .01 0zM666.9 126.9a1.38 3.05 0 1 0 .01 0zM666.9 131.1a1.38 3.05 0 1 0 .01 0zM666.9 157.9a1.38 3.05 0 1 0 .01 0zM666.9 136.5a1.38 3.05 0 1 0 .01 0zM666.9 139.1a1.38 3.05 0 1 0 .01 0zM666.9 138.3a1.38 3.05 0 1 0 .01 0zM666.9 126.8a1.38 3.05 0 1 0 .01 0zM666.9 156.2a1.38 3.05 0 1 0 .01 0zM666.9 137.2a1.38 3.05 0 1 0 .01 0zM666.9 117.2a1.38 3.05 0 1 0 .01 0zM666.9 136.8a1.38 3.05 0 1 0 .01 0zM666.9 129.9a1.38 3.05 0 1 0 .01 0zM666.9 127.1a1.38 3.05 0 1 0 .01 0zM666.9 135.5a1.38 3.05 0 1 0 .01 0zM669.2 119.3a1.38 3.05 0 1 0 .01 0zM669.2 122.6a1.38 3.05 0 1 0 .01 0zM669.2 126.3a1.38 3.05 0 1 0 .01 0zM669.2 127.6a1.38 3.05 0 1 0 .01 0zM669.2 118.5a1.38 3.05 0 1 0 .01 0zM669.2 125a1.38 3.05 0 1 0 .01 0zM669.2 113a1.38 3.05 0 1 0 .01 0zM669.2 116.7a1.38 3.05 0 1 0 .01 0zM669.2 153.4a1.38 3.05 0 1 0 .01 0zM669.2 113.6a1.38 3.05 0 1 0 .01 0zM669.2 125.7a1.38 3.05 0 1 0 .01 0zM669.2 137.5a1.38 3.05 0 1 0 .01 0zM669.2 153.4a1.38 3.05 0 1 0 .01 0zM669.2 146.7a1.38 3.05 0 1 0 .01 0zM669.2 118.8a1.38 3.05 0 1 0 .01 0zM671.4 131.8a1.38 3.05 0 1 0 .01 0zM671.4 114.7a1.38 3.05 0 1 0 .01 0zM671.4 159.9a1.38 3.05 0 1 0 .01 0zM671.4 139.1a1.38 3.05 0 1 0 .01 0zM671.4 119.5a1.38 3.05 0 1 0 .01 0zM671.4 120.3a1.38 3.05 0 1 0 .01 0zM671.4 138.7a1.38 3.05 0 1 0 .01 0zM671.4 113a1.38 3.05 0 1 0 .01 0zM671.4 133.5a1.38 3.05 0 1 0 .01 0zM671.4 148.3a1.38 3.05 0 1 0 .01 0zM671.4 150.1a1.38 3.05 0 1 0 .01 0zM671.4 110.8a1.38 3.05 0 1 0 .01 0zM671.4 110a1.38 3.05 0 1 0 .01 0zM671.4 142.9a1.38 3.05 0 1 0 .01 0zM671.4 128.9a1.38 3.05 0 1 0 .01 0zM673.4 143.4a1.38 3.05 0 1 0 .01 0zM673.4 135.2a1.38 3.05 0 1 0 .01 0zM673.4 119.5a1.38 3.05 0 1 0 .01 0zM673.4 122.8a1.38 3.05 0 1 0 .01 0zM673.4 151.1a1.38 3.05 0 1 0 .01 0zM673.4 148.3a1.38 3.05 0 1 0 .01 0zM673.4 125a1.38 3.05 0 1 0 .01 0zM673.4 110.6a1.38 3.05 0 1 0 .01 0zM673.4 116.1a1.38 3.05 0 1 0 .01 0zM673.4 118a1.38 3.05 0 1 0 .01 0zM673.4 152.2a1.38 3.05 0 1 0 .01 0zM673.4 115.5a1.38 3.05 0 1 0 .01 0zM673.4 114.6a1.38 3.05 0 1 0 .01 0zM673.4 139.5a1.38 3.05 0 1 0 .01 0zM673.4 131.1a1.38 3.05 0 1 0 .01 0zM675.3 105.8a1.38 3.05 0 1 0 .01 0zM675.3 119.3a1.38 3.05 0 1 0 .01 0zM675.3 110.2a1.38 3.05 0 1 0 .01 0zM675.3 117a1.38 3.05 0 1 0 .01 0zM675.3 122.8a1.38 3.05 0 1 0 .01 0zM675.3 124.2a1.38 3.05 0 1 0 .01 0zM675.3 127.2a1.38 3.05 0 1 0 .01 0zM675.3 116.1a1.38 3.05 0 1 0 .01 0zM675.3 121.1a1.38 3.05 0 1 0 .01 0zM675.3 118.4a1.38 3.05 0 1 0 .01 0zM675.3 106.8a1.38 3.05 0 1 0 .01 0zM675.3 117.8a1.38 3.05 0 1 0 .01 0zM675.3 130.9a1.38 3.05 0 1 0 .01 0zM675.3 120.9a1.38 3.05 0 1 0 .01 0zM675.3 124.4a1.38 3.05 0 1 0 .01 0zM677.2 123.8a1.38 3.05 0 1 0 .01 0zM677.2 136.2a1.38 3.05 0 1 0 .01 0zM677.2 111.4a1.38 3.05 0 1 0 .01 0zM677.2 114.9a1.38 3.05 0 1 0 .01 0zM677.2 114.2a1.38 3.05 0 1 0 .01 0zM677.2 133.5a1.38 3.05 0 1 0 .01 0zM677.2 116.3a1.38 3.05 0 1 0 .01 0zM677.2 120.5a1.38 3.05 0 1 0 .01 0zM677.2 121.7a1.38 3.05 0 1 0 .01 0zM677.2 131.8a1.38 3.05 0 1 0 .01 0zM677.2 147.4a1.38 3.05 0 1 0 .01 0zM677.2 139.5a1.38 3.05 0 1 0 .01 0zM677.2 125.3a1.38 3.05 0 1 0 .01 0zM677.2 133a1.38 3.05 0 1 0 .01 0zM677.2 113a1.38 3.05 0 1 0 .01 0zM678.9 128.8a1.38 3.05 0 1 0 .01 0zM678.9 117.5a1.38 3.05 0 1 0 .01 0zM678.9 128.9a1.38 3.05 0 1 0 .01 0zM678.9 147.4a1.38 3.05 0 1 0 .01 0zM678.9 144a1.38 3.05 0 1 0 .01 0zM678.9 117.5a1.38 3.05 0 1 0 .01 0zM678.9 131.1a1.38 3.05 0 1 0 .01 0zM678.9 110.9a1.38 3.05 0 1 0 .01 0zM678.9 118.1a1.38 3.05 0 1 0 .01 0zM678.9 127.6a1.38 3.05 0 1 0 .01 0zM678.9 121.7a1.38 3.05 0 1 0 .01 0zM678.9 131.4a1.38 3.05 0 1 0 .01 0zM678.9 140.4a1.38 3.05 0 1 0 .01 0zM678.9 116.1a1.38 3.05 0 1 0 .01 0zM678.9 127.4a1.38 3.05 0 1 0 .01 0zM680.6 120.5a1.38 3.05 0 1 0 .01 0zM680.6 119.7a1.38 3.05 0 1 0 .01 0zM680.6 117.1a1.38 3.05 0 1 0 .01 0zM680.6 126.3a1.38 3.05 0 1 0 .01 0zM680.6 122.6a1.38 3.05 0 1 0 .01 0zM680.6 114.9a1.38 3.05 0 1 0 .01 0zM680.6 142.9a1.38 3.05 0 1 0 .01 0zM680.6 112.7a1.38 3.05 0 1 0 .01 0zM680.6 121.8a1.38 3.05 0 1 0 .01 0zM680.6 114.2a1.38 3.05 0 1 0 .01 0zM680.6 118.7a1.38 3.05 0 1 0 .01 0zM680.6 137.2a1.38 3.05 0 1 0 .01 0zM680.6 115a1.38 3.05 0 1 0 .01 0zM680.6 119.7a1.38 3.05 0 1 0 .01 0zM680.6 117a1.38 3.05 0 1 0 .01 0zM682.2 115.3a1.38 3.05 0 1 0 .01 0zM682.2 115.8a1.38 3.05 0 1 0 .01 0zM682.2 122a1.38 3.05 0 1 0 .01 0zM682.2 123.9a1.38 3.05 0 1 0 .01 0zM682.2 135.5a1.38 3.05 0 1 0 .01 0zM682.2 112.8a1.38 3.05 0 1 0 .01 0zM682.2 137.2a1.38 3.05 0 1 0 .01 0zM683.8 117.4a1.38 3.05 0 1 0 .01 0zM683.8 112.2a1.38 3.05 0 1 0 .01 0zM683.8 128.1a1.38 3.05 0 1 0 .01 0zM683.8 131.6a1.38 3.05 0 1 0 .01 0zM683.8 125a1.38 3.05 0 1 0 .01 0zM683.8 131.8a1.38 3.05 0 1 0 .01 0zM683.8 111.5a1.38 3.05 0 1 0 .01 0zM685.2 129.7a1.38 3.05 0 1 0 .01 0zM685.2 107.7a1.38 3.05 0 1 0 .01 0zM685.2 112.5a1.38 3.05 0 1 0 .01 0zM685.2 122.2a1.38 3.05 0 1 0 .01 0zM685.2 122.7a1.38 3.05 0 1 0 .01 0zM685.2 134.9a1.38 3.05 0 1 0 .01 0zM685.2 131.1a1.38 3.05 0 1 0 .01 0zM686.7 107.3a1.38 3.05 0 1 0 .01 0zM686.7 134.4a1.38 3.05 0 1 0 .01 0zM686.7 123.6a1.38 3.05 0 1 0 .01 0zM686.7 118.9a1.38 3.05 0 1 0 .01 0zM686.7 153.4a1.38 3.05 0 1 0 .01 0zM686.7 126.5a1.38 3.05 0 1 0 .01 0zM686.7 115.1a1.38 3.05 0 1 0 .01 0zM688 109.7a1.38 3.05 0 1 0 .01 0zM688 128.8a1.38 3.05 0 1 0 .01 0zM688 117.2a1.38 3.05 0 1 0 .01 0zM688 119.4a1.38 3.05 0 1 0 .01 0zM688 123.2a1.38 3.05 0 1 0 .01 0zM688 110.4a1.38 3.05 0 1 0 .01 0zM688 112.6a1.38 3.05 0 1 0 .01 0zM689.4 109.6a1.38 3.05 0 1 0 .01 0zM689.4 117.3a1.38 3.05 0 1 0 .01 0zM689.4 124.6a1.38 3.05 0 1 0 .01 0zM689.4 107.5a1.38 3.05 0 1 0 .01 0zM689.4 118.2a1.38 3.05 0 1 0 .01 0zM689.4 106.5a1.38 3.05 0 1 0 .01 0zM689.4 107.2a1.38 3.05 0 1 0 .01 0zM690.6 116.5a1.38 3.05 0 1 0 .01 0zM690.6 127.1a1.38 3.05 0 1 0 .01 0zM690.6 101.3a1.38 3.05 0 1 0 .01 0zM690.6 105.8a1.38 3.05 0 1 0 .01 0zM690.6 109.8a1.38 3.05 0 1 0 .01 0zM690.6 115a1.38 3.05 0 1 0 .01 0zM690.6 112.2a1.38 3.05 0 1 0 .01 0zM691.9 119.3a1.38 3.05 0 1 0 .01 0zM691.9 109.3a1.38 3.05 0 1 0 .01 0zM691.9 108.7a1.38 3.05 0 1 0 .01 0zM691.9 119.3a1.38 3.05 0 1 0 .01 0zM691.9 118.5a1.38 3.05 0 1 0 .01 0zM691.9 130.7a1.38 3.05 0 1 0 .01 0zM691.9 132.8a1.38 3.05 0 1 0 .01 0zM693.1 109.4a1.38 3.05 0 1 0 .01 0zM693.1 123.9a1.38 3.05 0 1 0 .01 0zM693.1 125.2a1.38 3.05 0 1 0 .01 0zM693.1 117.2a1.38 3.05 0 1 0 .01 0zM693.1 121.5a1.38 3.05 0 1 0 .01 0zM693.1 117.9a1.38 3.05 0 1 0 .01 0zM693.1 117.2a1.38 3.05 0 1 0 .01 0zM694.2 121.2a1.38 3.05 0 1 0 .01 0zM694.2 114.2a1.38 3.05 0 1 0 .01 0zM694.2 114.3a1.38 3.05 0 1 0 .01 0zM694.2 116.3a1.38 3.05 0 1 0 .01 0zM694.2 116.3a1.38 3.05 0 1 0 .01 0zM694.2 122.3a1.38 3.05 0 1 0 .01 0zM694.2 117.5a1.38 3.05 0 1 0 .01 0zM695.4 105.6a1.38 3.05 0 1 0 .01 0zM695.4 110.4a1.38 3.05 0 1 0 .01 0zM695.4 111.3a1.38 3.05 0 1 0 .01 0zM695.4 120.3a1.38 3.05 0 1 0 .01 0zM695.4 101.8a1.38 3.05 0 1 0 .01 0zM695.4 98.1a1.38 3.05 0 1 0 .01 0zM695.4 105.9a1.38 3.05 0 1 0 .01 0zM696.5 120.2a1.38 3.05 0 1 0 .01 0zM696.5 118.2a1.38 3.05 0 1 0 .01 0zM696.5 132.8a1.38 3.05 0 1 0 .01 0zM696.5 162.2a1.38 3.05 0 1 0 .01 0zM696.5 105.5a1.38 3.05 0 1 0 .01 0zM696.5 126.8a1.38 3.05 0 1 0 .01 0zM696.5 113.3a1.38 3.05 0 1 0 .01 0zM697.5 112.9a1.38 3.05 0 1 0 .01 0zM697.5 126.5a1.38 3.05 0 1 0 .01 0zM697.5 105a1.38 3.05 0 1 0 .01 0zM697.5 106a1.38 3.05 0 1 0 .01 0zM697.5 122.2a1.38 3.05 0 1 0 .01 0zM697.5 129.3a1.38 3.05 0 1 0 .01 0zM697.5 113.5a1.38 3.05 0 1 0 .01 0zM698.6 119.1a1.38 3.05 0 1 0 .01 0zM698.6 121.8a1.38 3.05 0 1 0 .01 0zM698.6 115.3a1.38 3.05 0 1 0 .01 0zM698.6 112.1a1.38 3.05 0 1 0 .01 0zM698.6 124a1.38 3.05 0 1 0 .01 0zM698.6 108.6a1.38 3.05 0 1 0 .01 0zM698.6 104.2a1.38 3.05 0 1 0 .01 0zM699.6 129.9a1.38 3.05 0 1 0 .01 0zM699.6 112a1.38 3.05 0 1 0 .01 0zM699.6 134.6a1.38 3.05 0 1 0 .01 0zM699.6 114.8a1.38 3.05 0 1 0 .01 0zM699.6 125.2a1.38 3.05 0 1 0 .01 0zM699.6 119a1.38 3.05 0 1 0 .01 0zM699.6 114.2a1.38 3.05 0 1 0 .01 0zM700.5 109.6a1.38 3.05 0 1 0 .01 0zM700.5 125.9a1.38 3.05 0 1 0 .01 0zM700.5 118.5a1.38 3.05 0 1 0 .01 0zM700.5 116.1a1.38 3.05 0 1 0 .01 0zM700.5 103.7a1.38 3.05 0 1 0 .01 0zM700.5 107.7a1.38 3.05 0 1 0 .01 0zM700.5 112a1.38 3.05 0 1 0 .01 0zM701.5 104.4a1.38 3.05 0 1 0 .01 0zM701.5 116.9a1.38 3.05 0 1 0 .01 0zM701.5 109.4a1.38 3.05 0 1 0 .01 0zM702.4 114.7a1.38 3.05 0 1 0 .01 0zM702.4 122.7a1.38 3.05 0 1 0 .01 0zM702.4 113.7a1.38 3.05 0 1 0 .01 0zM703.3 110.3a1.38 3.05 0 1 0 .01 0zM703.3 121.9a1.38 3.05 0 1 0 .01 0zM703.3 99.8a1.38 3.05 0 1 0 .01 0zM704.2 116.3a1.38 3.05 0 1 0 .01 0zM704.2 105.7a1.38 3.05 0 1 0 .01 0zM704.2 120.4a1.38 3.05 0 1 0 .01 0zM705.1 121.7a1.38 3.05 0 1 0 .01 0zM705.1 118.5a1.38 3.05 0 1 0 .01 0zM705.1 100.5a1.38 3.05 0 1 0 .01 0zM705.9 111.4a1.38 3.05 0 1 0 .01 0zM705.9 128.8a1.38 3.05 0 1 0 .01 0zM705.9 106.2a1.38 3.05 0 1 0 .01 0zM706.8 144.6a1.38 3.05 0 1 0 .01 0zM706.8 119.9a1.38 3.05 0 1 0 .01 0zM706.8 107.2a1.38 3.05 0 1 0 .01 0zM707.6 111.4a1.38 3.05 0 1 0 .01 0zM707.6 106.6a1.38 3.05 0 1 0 .01 0zM707.6 114.7a1.38 3.05 0 1 0 .01 0zM708.4 104.2a1.38 3.05 0 1 0 .01 0zM708.4 103.4a1.38 3.05 0 1 0 .01 0zM708.4 112a1.38 3.05 0 1 0 .01 0zM709.1 104.8a1.38 3.05 0 1 0 .01 0zM709.1 108.3a1.38 3.05 0 1 0 .01 0zM709.1 110.8a1.38 3.05 0 1 0 .01 0zM709.9 107.6a1.38 3.05 0 1 0 .01 0zM709.9 96.5a1.38 3.05 0 1 0 .01 0zM709.9 110.6a1.38 3.05 0 1 0 .01 0zM710.7 110.3a1.38 3.05 0 1 0 .01 0zM710.7 101a1.38 3.05 0 1 0 .01 0zM710.7 137.5a1.38 3.05 0 1 0 .01 0zM711.4 117a1.38 3.05 0 1 0 .01 0zM711.4 141.3a1.38 3.05 0 1 0 .01 0zM711.4 110.3a1.38 3.05 0 1 0 .01 0zM712.1 118.1a1.38 3.05 0 1 0 .01 0zM712.1 131.4a1.38 3.05 0 1 0 .01 0zM712.1 111a1.38 3.05 0 1 0 .01 0zM712.8 105.6a1.38 3.05 0 1 0 .01 0zM712.8 109.4a1.38 3.05 0 1 0 .01 0zM712.8 117.7a1.38 3.05 0 1 0 .01 0zM713.5 106.4a1.38 3.05 0 1 0 .01 0zM713.5 110.1a1.38 3.05 0 1 0 .01 0zM713.5 111a1.38 3.05 0 1 0 .01 0zM714.2 106.6a1.38 3.05 0 1 0 .01 0zM714.2 114.5a1.38 3.05 0 1 0 .01 0zM714.2 102.6a1.38 3.05 0 1 0 .01 0zM714.9 110.6a1.38 3.05 0 1 0 .01 0zM714.9 102a1.38 3.05 0 1 0 .01 0zM714.9 111.9a1.38 3.05 0 1 0 .01 0zM715.5 106a1.38 3.05 0 1 0 .01 0zM715.5 120.5a1.38 3.05 0 1 0 .01 0zM715.5 112.8a1.38 3.05 0 1 0 .01 0zM716.2 111.3a1.38 3.05 0 1 0 .01 0zM716.2 105.3a1.38 3.05 0 1 0 .01 0zM716.2 114.4a1.38 3.05 0 1 0 .01 0zM716.8 103.7a1.38 3.05 0 1 0 .01 0zM716.8 114.2a1.38 3.05 0 1 0 .01 0zM716.8 100.6a1.38 3.05 0 1 0 .01 0zM717.4 110.7a1.38 3.05 0 1 0 .01 0zM717.4 107.1a1.38 3.05 0 1 0 .01 0zM717.4 105.8a1.38 3.05 0 1 0 .01 0zM718 111.2a1.38 3.05 0 1 0 .01 0zM718 108.6a1.38 3.05 0 1 0 .01 0zM718 106.1a1.38 3.05 0 1 0 .01 0zM718.6 116.1a1.38 3.05 0 1 0 .01 0zM718.6 114.4a1.38 3.05 0 1 0 .01 0zM718.6 103.4a1.38 3.05 0 1 0 .01 0zM719.2 107.1a1.38 3.05 0 1 0 .01 0zM719.2 136.5a1.38 3.05 0 1 0 .01 0zM719.2 109.3a1.38 3.05 0 1 0 .01 0zM719.8 109.1a1.38 3.05 0 1 0 .01 0zM719.8 105.2a1.38 3.05 0 1 0 .01 0zM719.8 107.2a1.38 3.05 0 1 0 .01 0zM720.4 108.2a1.38 3.05 0 1 0 .01 0zM720.4 117.5a1.38 3.05 0 1 0 .01 0zM720.4 105.8a1.38 3.05 0 1 0 .01 0zM720.9 109.4a1.38 3.05 0 1 0 .01 0zM720.9 107.7a1.38 3.05 0 1 0 .01 0zM720.9 102.8a1.38 3.05 0 1 0 .01 0zM721.5 112.1a1.38 3.05 0 1 0 .01 0zM721.5 110.1a1.38 3.05 0 1 0 .01 0zM721.5 108.9a1.38 3.05 0 1 0 .01 0zM722.1 107.3a1.38 3.05 0 1 0 .01 0zM722.1 106.1a1.38 3.05 0 1 0 .01 0zM722.1 107.2a1.38 3.05 0 1 0 .01 0zM728.6 110.7a1.38 3.05 0 1 0 .01 0zM723.1 102.9a1.38 3.05 0 1 0 .01 0zM741 102.4a1.38 3.05 0 1 0 .01 0zM751.8 95.1a1.38 3.05 0 1 0 .01 0zM752.8 97.9a1.38 3.05 0 1 0 .01 0zM726.7 108.5a1.38 3.05 0 1 0 .01 0zM744.2 99.6a1.38 3.05 0 1 0 .01 0zM735.7 102.3a1.38 3.05 0 1 0 .01 0zM742.3 97.7a1.38 3.05 0 1 0 .01 0zM734.9 99.2a1.38 3.05 0 1 0 .01 0zM751.6 103a1.38 3.05 0 1 0 .01 0zM753.5 97.1a1.38 3.05 0 1 0 .01 0zM724.2 101a1.38 3.05 0 1 0 .01 0zM744.8 101.4a1.38 3.05 0 1 0 .01 0zM726.2 109a1.38 3.05 0 1 0 .01 0zM723.7 100.8a1.38 3.05 0 1 0 .01 0zM731.7 96.2a1.38 3.05 0 1 0 .01 0zM745.4 103a1.38 3.05 0 1 0 .01 0zM753.5 98.4a1.38 3.05 0 1 0 .01 0zM726.2 110.4a1.38 3.05 0 1 0 .01 0zM732.9 99.8a1.38 3.05 0 1 0 .01 0zM723.7 107.7a1.38 3.05 0 1 0 .01 0zM739.6 104.3a1.38 3.05 0 1 0 .01 0zM737.5 113.2a1.38 3.05 0 1 0 .01 0zM734.1 104.1a1.38 3.05 0 1 0 .01 0zM732.1 95.4a1.38 3.05 0 1 0 .01 0zM747.7 94.2a1.38 3.05 0 1 0 .01 0zM748.7 117.3a1.38 3.05 0 1 0 .01 0zM731.7 107.3a1.38 3.05 0 1 0 .01 0zM734.9 107a1.38 3.05 0 1 0 .01 0zM742 100.4a1.38 3.05 0 1 0 .01 0zM746.5 104.9a1.38 3.05 0 1 0 .01 0zM753.3 95.8a1.38 3.05 0 1 0 .01 0zM734.9 96.7a1.38 3.05 0 1 0 .01 0zM744.2 97.7a1.38 3.05 0 1 0 .01 0zM739.6 92.7a1.38 3.05 0 1 0 .01 0zM747.7 94.8a1.38 3.05 0 1 0 .01 0zM727.2 109.7a1.38 3.05 0 1 0 .01 0zM728.1 101.9a1.38 3.05 0 1 0 .01 0zM725.7 92.3a1.38 3.05 0 1 0 .01 0zM751.6 94.5a1.38 3.05 0 1 0 .01 0zM730.4 101.8a1.38 3.05 0 1 0 .01 0zM737.9 99.1a1.38 3.05 0 1 0 .01 0zM726.2 107.9a1.38 3.05 0 1 0 .01 0zM732.5 104.2a1.38 3.05 0 1 0 .01 0zM723.1 101.1a1.38 3.05 0 1 0 .01 0zM740.3 101.9a1.38 3.05 0 1 0 .01 0zM727.2 104.3a1.38 3.05 0 1 0 .01 0zM742 91.9a1.38 3.05 0 1 0 .01 0zM731.2 110a1.38 3.05 0 1 0 .01 0zM729.5 111.5a1.38 3.05 0 1 0 .01 0zM737.5 107.5a1.38 3.05 0 1 0 .01 0zM734.1 99.5a1.38 3.05 0 1 0 .01 0zM730.8 100.2a1.38 3.05 0 1 0 .01 0zM724.2 101.4a1.38 3.05 0 1 0 .01 0zM724.7 113.8a1.38 3.05 0 1 0 .01 0zM750.3 97.4a1.38 3.05 0 1 0 .01 0zM732.1 106.9a1.38 3.05 0 1 0 .01 0zM725.2 106.1a1.38 3.05 0 1 0 .01 0zM728.1 106.1a1.38 3.05 0 1 0 .01 0zM737.5 104.7a1.38 3.05 0 1 0 .01 0zM753.8 105.6a1.38 3.05 0 1 0 .01 0zM729 111a1.38 3.05 0 1 0 .01 0zM749.5 124.5a1.38 3.05 0 1 0 .01 0zM737.5 89.2a1.38 3.05 0 1 0 .01 0zM735.7 104.9a1.38 3.05 0 1 0 .01 0zM747.7 93.3a1.38 3.05 0 1 0 .01 0zM734.9 104.2a1.38 3.05 0 1 0 .01 0zM724.2 110.8a1.38 3.05 0 1 0 .01 0zM739.6 103.6a1.38 3.05 0 1 0 .01 0zM742.9 98.9a1.38 3.05 0 1 0 .01 0zM742 101.4a1.38 3.05 0 1 0 .01 0zM731.2 102.4a1.38 3.05 0 1 0 .01 0zM751.8 94.3a1.38 3.05 0 1 0 .01 0zM749.5 95.4a1.38 3.05 0 1 0 .01 0zM753.5 94a1.38 3.05 0 1 0 .01 0zM736.4 106.9a1.38 3.05 0 1 0 .01 0zM748.5 96.4a1.38 3.05 0 1 0 .01 0zM745.1 98.5a1.38 3.05 0 1 0 .01 0zM728.1 99.7a1.38 3.05 0 1 0 .01 0zM723.7 99a1.38 3.05 0 1 0 .01 0zM727.6 102.2a1.38 3.05 0 1 0 .01 0zM726.2 99.2a1.38 3.05 0 1 0 .01 0zM724.7 106.5a1.38 3.05 0 1 0 .01 0zM733.7 106.3a1.38 3.05 0 1 0 .01 0zM765.1 91.4a1.38 3.05 0 1 0 .01 0zM757.8 94.2a1.38 3.05 0 1 0 .01 0zM759.5 96.6a1.38 3.05 0 1 0 .01 0zM760.3 92.8a1.38 3.05 0 1 0 .01 0zM761 92.9a1.38 3.05 0 1 0 .01 0zM759.3 92.6a1.38 3.05 0 1 0 .01 0zM760.5 96.3a1.38 3.05 0 1 0 .01 0zM760.7 93.9a1.38 3.05 0 1 0 .01 0zM754.5 92.7a1.38 3.05 0 1 0 .01 0zM766.6 90.1a1.38 3.05 0 1 0 .01 0z" fill="#0000ff"/>
<path d="M670.8 211.3 L670.8 211.3 L670.8 210.5 L670.8 209.8 L670.8 209 L670.8 208.2 L670.8 207.4 L670.8 206.7 L670.9 205.9 L670.9 205.1 L670.9 204.4 L670.9 203.6 L670.9 202.8 L670.9 202 L670.9 201.3 L670.9 200.5 L670.9 199.7 L671 199 L671 198.2 L671 197.4 L671 196.6 L671 195.9 L671 195.1 L671.1 194.3 L671.1 193.6 L671.1 192.8 L671.1 192 L671.1 191.2 L671.2 190.5 L671.2 189.7 L671.2 188.9 L671.3 188.2 L671.3 187.4 L671.3 186.6 L671.4 185.8 L671.4 185.1 L671.5 184.3 L671.5 183.5 L671.6 182.8 L671.6 182 L671.7 181.2 L671.7 180.5 L671.8 179.7 L671.8 178.9 L671.9 178.1 L672 177.4 L672.1 176.6 L672.1 175.8 L672.2 175.1 L672.3 174.3 L672.4 173.5 L672.5 172.7 L672.6 172 L672.8 171.2 L672.9 170.4 L673 169.7 L673.1 168.9 L673.3 168.1 L673.4 167.3 L673.6 166.6 L673.8 165.8 L674 165 L674.1 164.3 L674.3 163.5 L674.6 162.7 L674.8 161.9 L675 161.2 L675.3 160.4 L675.5 159.6 L675.8 158.9 L676.1 158.1 L676.4 157.3 L676.7 156.5 L677 155.8 L677.4 155 L677.8 154.2 L678.1 153.5 L678.5 152.7 L679 151.9 L679.4 151.1 L679.9 150.4 L680.3 149.6 L680.8 148.8 L681.4 148.1 L681.9 147.3 L682.5 146.5 L683.1 145.7 L683.7 145 L684.3 144.2 L685 143.4 L685.7 142.7 L686.4 141.9 L687.1 141.1 L687.9 140.3 L688.7 139.6 L689.5 138.8 L690.3 138 L691.2 137.3 L692.1 136.5 L693 135.7 L694 134.9 L695 134.2 L696 133.4 L697 132.6 L698.1 131.9 L699.1 131.1 L700.3 130.3 L701.4 129.6 L702.6 128.8 L703.7 128 L705 127.2 L706.2 126.5 L707.5 125.7 L708.8 124.9 L710.1 124.2 L711.4 123.4 L712.8 122.6 L714.2 121.8 L715.6 121.1 L717 120.3 L718.5 119.5 L719.9 118.8 L721.4 118 L723 117.2 L724.5 116.4 L726.1 115.7 L727.7 114.9 L729.3 114.1 L730.9 113.4 L732.5 112.6 L734.2 111.8 L735.8 111 L737.5 110.3 L739.3 109.5 L741 108.7 L742.7 108 L744.5 107.2 L746.2 106.4 L748 105.6 L749.8 104.9 L751.7 104.1 L753.5 103.3 L755.3 102.6 L757.2 101.8 L759.1 101 L760.9 100.2 L762.8 99.5 L764.7 98.7 L766.7 97.9 L768.6 97.2 L770.5 96.4 L772.5 95.6 L774.4 94.8 L776.4 94.1 L778.4 93.3 L780.4 92.5 L782.4 91.8 L784.4 91 L786.4 90.2 L788.4 89.4 L790.5 88.7 L792.5 87.9 L794.5 87.1 L796.6 86.4 L798.7 85.6 L800.7 84.8 L802.8 84 L804.9 83.3 L807 82.5 L809.1 81.7 L811.2 81 L813.3 80.2 L815.4 79.4 L817.5 78.7 L819.6 77.9 L821.8 77.1 L823.9 76.3 L826 75.6 L828.2 74.8 L830.3 74 L832.5 73.3 L834.6 72.5 L836.8 71.7 L839 70.9 L841.1 70.2 L843.3 69.4 L845.5 68.6 L847.7 67.9 L849.8 67.1 L852 66.3 L854.2 65.5 L856.4 64.8 L858.6 64 L860.8 63.2 L863 62.5 L865.2 61.7 L867.4 60.9 L869.6 60.1 L871.9 59.4 L874.1 58.6 L876.3 57.8 L878.5 57.1 L880.7 56.3 L883 55.5 L885.2 54.7 L887.4 54 L889.7 53.2 L891.9 52.4 L894.1 51.7 L896.4 50.9 L898.6 50.1 L900.8 49.3 L903.1 48.6 L905.3 47.8 L907.6 47 L909.8 46.3 L912.1 45.5 L914.3 44.7 L916.6 43.9 L918.8 43.2 L921.1 42.4 L923.3 41.6 L925.6 40.9 L927.9 40.1 L930.1 39.3 L932.4 38.5 L934.6 37.8 L936.9 37 L939.2 36.2 L941.4 35.5 L943.7 34.7 L946 33.9 L948.2 33.1 L950.5 32.4 L952.8 31.6 L955 30.8 L957.3 30.1 L959.6 29.3 L961.9 28.5 L964.1 27.8 L966.4 27 L968.7 26.2 L971 25.4 L973.2 24.7 L975.5 23.9 L977.8 23.1 L980.1 22.4 L982.3 21.6 L984.6 20.8 L986.9 20 L989.2 19.3 L991.5 18.5 L993.7 17.7 L996 17 L998.3 16.2 L1000.6 15.4 L1002.9 14.6 L1005.2 13.9 L1007.4 13.1 L1009.7 12.3 L1012 11.6 L1013.9 10.9" stroke="#2020ff" stroke-width="1.2" fill="none"/>
<path d="M562.7 141.4 L565.9 140.7 L569.1 140.1 L572.4 139.4 L575.6 138.8 L578.8 138.1 L582 137.4 L585.3 136.8 L588.5 136.1 L591.7 135.4 L594.9 134.7 L598.2 134 L601.4 133.4 L604.6 132.7 L607.8 132 L611 131.2 L614.3 130.5 L617.5 129.8 L620.7 129.1 L623.9 128.4 L627.2 127.6 L630.4 126.9 L633.6 126.2 L636.8 125.4 L640 124.7 L643.3 123.9 L646.5 123.1 L649.7 122.4 L652.9 121.6 L656.2 120.8 L659.4 120 L662.6 119.2 L665.8 118.4 L669.1 117.6 L672.3 116.8 L675.5 116 L678.7 115.2 L681.9 114.3 L685.2 113.5 L688.4 112.7 L691.6 111.8 L694.8 111 L698.1 110.1 L701.3 109.2 L704.5 108.4 L707.7 107.5 L711 106.6 L714.2 105.7 L717.4 104.8 L720.6 104 L723.8 103.1 L727.1 102.1 L730.3 101.2 L733.5 100.3 L736.7 99.4 L740 98.5 L743.2 97.5 L746.4 96.6 L749.6 95.7 L752.8 94.7 L756.1 93.8 L759.3 92.8 L762.5 91.9 L765.7 90.9 L769 89.9 L772.2 89 L775.4 88 L778.6 87 L781.9 86.1 L785.1 85.1 L788.3 84.1 L791.5 83.1 L794.7 82.1 L798 81.1 L801.2 80.1 L804.4 79.1 L807.6 78.1 L810.9 77.1 L814.1 76.1 L817.3 75.1 L820.5 74.1 L823.8 73 L827 72 L830.2 71 L833.4 70 L836.6 68.9 L839.9 67.9 L843.1 66.9 L846.3 65.9 L849.5 64.8 L852.8 63.8 L856 62.7 L859.2 61.7 L862.4 60.7 L865.6 59.6 L868.9 58.6 L872.1 57.5 L875.3 56.5 L878.5 55.4 L881.8 54.4 L885 53.3 L888.2 52.3 L891.4 51.2 L894.7 50.2 L897.9 49.1 L901.1 48.1 L904.3 47 L907.5 45.9 L910.8 44.9 L914 43.8 L917.2 42.8 L920.4 41.7 L923.7 40.6 L926.9 39.6 L930.1 38.5 L933.3 37.4 L936.6 36.4 L939.8 35.3 L943 34.2 L946.2 33.2 L949.4 32.1 L952.7 31 L955.9 30 L959.1 28.9 L962.3 27.8 L965.6 26.8 L968.8 25.7 L972 24.6 L975.2 23.5 L978.4 22.5 L981.7 21.4 L984.9 20.3 L988.1 19.3 L991.3 18.2 L994.6 17.1 L997.8 16 L1001 15 L1004.2 13.9 L1007.5 12.8 L1010.7 11.7 L1013.9 10.7" stroke="#ff0000" stroke-width="1.5" fill="none"/>
<path d="M562.7 162.2 L1013.9 10.8" stroke="#000" stroke-width="1.5" fill="none"/>
<g fill="#000">
<rect x="558.1" y="11" width="2.5" height="200.3"/>
<rect x="562.7" y="216.9" width="451.2" height="3.8"/>
<rect x="557.3" y="205.4" width="2" height="1.2"/>
<rect x="557.3" y="200.2" width="2" height="1.2"/>
<rect x="557.3" y="196.6" width="2" height="1.2"/>
<rect x="557.3" y="193.8" width="2" height="1.2"/>
<rect x="557.3" y="191.5" width="2" height="1.2"/>
<rect x="557.3" y="189.5" width="2" height="1.2"/>
<rect x="557.3" y="187.8" width="2" height="1.2"/>
<rect x="557.3" y="186.3" width="2" height="1.2"/>
<rect x="556.5" y="184" width="2.6" height="3.2"/>
<rect x="557.3" y="176.2" width="2" height="1.2"/>
<rect x="557.3" y="171.1" width="2" height="1.2"/>
<rect x="557.3" y="167.4" width="2" height="1.2"/>
<rect x="557.3" y="164.6" width="2" height="1.2"/>
<rect x="557.3" y="162.3" width="2" height="1.2"/>
<rect x="557.3" y="160.4" width="2" height="1.2"/>
<rect x="557.3" y="158.7" width="2" height="1.2"/>
<rect x="557.3" y="157.2" width="2" height="1.2"/>
<rect x="556.5" y="154.8" width="2.6" height="3.2"/>
<rect x="557.3" y="147.1" width="2" height="1.2"/>
<rect x="557.3" y="141.9" width="2" height="1.2"/>
<rect x="557.3" y="138.3" width="2" height="1.2"/>
<rect x="557.3" y="135.5" width="2" height="1.2"/>
<rect x="557.3" y="133.2" width="2" height="1.2"/>
<rect x="557.3" y="131.2" width="2" height="1.2"/>
<rect x="557.3" y="129.5" width="2" height="1.2"/>
<rect x="557.3" y="128" width="2" height="1.2"/>
<rect x="556.5" y="125.7" width="2.6" height="3.2"/>
<rect x="557.3" y="117.9" width="2" height="1.2"/>
<rect x="557.3" y="112.8" width="2" height="1.2"/>
<rect x="557.3" y="109.1" width="2" height="1.2"/>
<rect x="557.3" y="106.3" width="2" height="1.2"/>
<rect x="557.3" y="104" width="2" height="1.2"/>
<rect x="557.3" y="102.1" width="2" height="1.2"/>
<rect x="557.3" y="100.4" width="2" height="1.2"/>
<rect x="557.3" y="98.9" width="2" height="1.2"/>
<rect x="556.5" y="96.6" width="2.6" height="3.2"/>
<rect x="557.3" y="88.8" width="2" height="1.2"/>
<rect x="557.3" y="83.6" width="2" height="1.2"/>
<rect x="557.3" y="80" width="2" height="1.2"/>
<rect x="557.3" y="77.2" width="2" height="1.2"/>
<rect x="557.3" y="74.9" width="2" height="1.2"/>
<rect x="557.3" y="72.9" width="2" height="1.2"/>
<rect x="557.3" y="71.2" width="2" height="1.2"/>
<rect x="557.3" y="69.7" width="2" height="1.2"/>
<rect x="556.5" y="67.4" width="2.6" height="3.2"/>
<rect x="557.3" y="59.6" width="2" height="1.2"/>
<rect x="557.3" y="54.5" width="2" height="1.2"/>
<rect x="557.3" y="50.8" width="2" height="1.2"/>
<rect x="557.3" y="48" width="2" height="1.2"/>
<rect x="557.3" y="45.7" width="2" height="1.2"/>
<rect x="557.3" y="43.8" width="2" height="1.2"/>
<rect x="557.3" y="42.1" width="2" height="1.2"/>
<rect x="557.3" y="40.6" width="2" height="1.2"/>
<rect x="556.5" y="38.2" width="2.6" height="3.2"/>
<rect x="557.3" y="30.5" width="2" height="1.2"/>
<rect x="557.3" y="25.3" width="2" height="1.2"/>
<rect x="557.3" y="21.7" width="2" height="1.2"/>
<rect x="557.3" y="18.9" width="2" height="1.2"/>
<rect x="557.3" y="16.6" width="2" height="1.2"/>
<rect x="557.3" y="14.6" width="2" height="1.2"/>
<rect x="557.3" y="12.9" width="2" height="1.2"/>
<rect x="557.3" y="11.4" width="2" height="1.2"/>
<rect x="570.7" y="216.9" width="1.5" height="6.2"/>
<rect x="579" y="216.9" width="1.7" height="9.6"/>
<rect x="605.3" y="216.9" width="1.5" height="6.2"/>
<rect x="631.4" y="216.9" width="1.5" height="6.2"/>
<rect x="646.7" y="216.9" width="1.5" height="6.2"/>
<rect x="657.6" y="216.9" width="1.5" height="6.2"/>
<rect x="665.9" y="216.9" width="1.7" height="9.6"/>
<rect x="692.1" y="216.9" width="1.5" height="6.2"/>
<rect x="718.3" y="216.9" width="1.5" height="6.2"/>
<rect x="733.6" y="216.9" width="1.5" height="6.2"/>
<rect x="744.4" y="216.9" width="1.5" height="6.2"/>
<rect x="752.7" y="216.9" width="1.7" height="9.6"/>
<rect x="779" y="216.9" width="1.5" height="6.2"/>
<rect x="805.1" y="216.9" width="1.5" height="6.2"/>
<rect x="820.4" y="216.9" width="1.5" height="6.2"/>
<rect x="831.3" y="216.9" width="1.5" height="6.2"/>
<rect x="839.6" y="216.9" width="1.7" height="9.6"/>
<rect x="865.8" y="216.9" width="1.5" height="6.2"/>
<rect x="892" y="216.9" width="1.5" height="6.2"/>
<rect x="907.3" y="216.9" width="1.5" height="6.2"/>
<rect x="918.1" y="216.9" width="1.5" height="6.2"/>
<rect x="926.4" y="216.9" width="1.7" height="9.6"/>
<rect x="952.7" y="216.9" width="1.5" height="6.2"/>
<rect x="978.8" y="216.9" width="1.5" height="6.2"/>
<rect x="994.1" y="216.9" width="1.5" height="6.2"/>
<rect x="1005" y="216.9" width="1.5" height="6.2"/>
</g>
<g font-family="'Liberation Serif', serif" font-size="22.3" fill="#000" stroke="#000" stroke-width="0.4">
<text transform="translate(554.5 48) scale(0.5 1)" text-anchor="end">0.1</text>
<text transform="translate(554.5 77.2) scale(0.5 1)" text-anchor="end">0.01</text>
<text transform="translate(554.5 106.4) scale(0.5 1)" text-anchor="end">0.001</text>
<text transform="translate(554.5 135.5) scale(0.5 1)" text-anchor="end">0.0001</text>
<text transform="translate(554.5 164.6) scale(0.5 1)" text-anchor="end">1e-05</text>
<text transform="translate(554.5 193.8) scale(0.5 1)" text-anchor="end">1e-06</text>
<text transform="translate(580.1 245.5) scale(0.5 1)" text-anchor="middle">1e-05</text>
<text transform="translate(667 245.5) scale(0.5 1)" text-anchor="middle">0.0001</text>
<text transform="translate(753.8 245.5) scale(0.5 1)" text-anchor="middle">0.001</text>
<text transform="translate(840.6 245.5) scale(0.5 1)" text-anchor="middle">0.01</text>
<text transform="translate(927.5 245.5) scale(0.5 1)" text-anchor="middle">0.1</text>
</g>
</g>
<g id="plot-c">
<path d="M216.7 493.6a1.38 3.05 0 1 0 .01 0zM206.4 484.9a1.38 3.05 0 1 0 .01 0zM215.5 477.9a1.38 3.05 0 1 0 .01 0zM216.7 469.1a1.38 3.05 0 1 0 .01 0zM206.9 471.9a1.38 3.05 0 1 0 .01 0zM236.7 450.9a1.38 3.05 0 1 0 .01 0zM238.5 441.9a1.38 3.05 0 1 0 .01 0zM271 431.9a1.38 3.05 0 1 0 .01 0zM270 421.4a1.38 3.05 0 1 0 .01 0zM198 398.9a1.38 3.05 0 1 0 .01 0zM232.7 394.9a1.38 3.05 0 1 0 .01 0zM283.8 383.9a1.38 3.05 0 1 0 .01 0zM310.8 382.8a1.38 3.05 0 1 0 .01 0zM333 387.9a1.38 3.05 0 1 0 .01 0zM289 406.9a1.38 3.05 0 1 0 .01 0zM466.2 343.6a1.38 3.05 0 1 0 .01 0zM47.5 502.6a1.38 3.05 0 1 0 .01 0zM47.5 493.7a1.38 3.05 0 1 0 .01 0zM47.5 488.6a1.38 3.05 0 1 0 .01 0zM47.5 484.9a1.38 3.05 0 1 0 .01 0zM47.5 484.9a1.38 3.05 0 1 0 .01 0zM47.5 482.1a1.38 3.05 0 1 0 .01 0zM47.5 479.8a1.38 3.05 0 1 0 .01 0zM47.5 477.8a1.38 3.05 0 1 0 .01 0zM47.5 476.1a1.38 3.05 0 1 0 .01 0zM47.5 474.6a1.38 3.05 0 1 0 .01 0zM47.5 472.1a1.38 3.05 0 1 0 .01 0zM47.5 469.9a1.38 3.05 0 1 0 .01 0zM47.5 468.1a1.38 3.05 0 1 0 .01 0zM47.5 465.8a1.38 3.05 0 1 0 .01 0zM47.5 463.8a1.38 3.05 0 1 0 .01 0zM47.5 462.2a1.38 3.05 0 1 0 .01 0zM47.5 459.7a1.38 3.05 0 1 0 .01 0zM47.5 457.7a1.38 3.05 0 1 0 .01 0zM47.5 455.7a1.38 3.05 0 1 0 .01 0zM47.5 453.9a1.38 3.05 0 1 0 .01 0zM47.5 451.6a1.38 3.05 0 1 0 .01 0zM47.5 449.7a1.38 3.05 0 1 0 .01 0zM47.5 447.7a1.38 3.05 0 1 0 .01 0zM47.5 445.5a1.38 3.05 0 1 0 .01 0zM47.5 443.5a1.38 3.05 0 1 0 .01 0zM47.5 441.5a1.38 3.05 0 1 0 .01 0zM47.5 439.4a1.38 3.05 0 1 0 .01 0zM47.5 437.3a1.38 3.05 0 1 0 .01 0zM47.5 435.3a1.38 3.05 0 1 0 .01 0zM47.5 433.3a1.38 3.05 0 1 0 .01 0zM73.7 502.6a1.38 3.05 0 1 0 .01 0zM73.7 493.7a1.38 3.05 0 1 0 .01 0zM73.7 488.6a1.38 3.05 0 1 0 .01 0zM73.7 484.9a1.38 3.05 0 1 0 .01 0zM73.7 484.9a1.38 3.05 0 1 0 .01 0zM73.7 482.1a1.38 3.05 0 1 0 .01 0zM73.7 479.8a1.38 3.05 0 1 0 .01 0zM73.7 477.8a1.38 3.05 0 1 0 .01 0zM73.7 476.1a1.38 3.05 0 1 0 .01 0zM73.7 474.6a1.38 3.05 0 1 0 .01 0zM73.7 472.1a1.38 3.05 0 1 0 .01 0zM73.7 469.9a1.38 3.05 0 1 0 .01 0zM73.7 468.1a1.38 3.05 0 1 0 .01 0zM73.7 465.8a1.38 3.05 0 1 0 .01 0zM73.7 463.8a1.38 3.05 0 1 0 .01 0zM73.7 462.2a1.38 3.05 0 1 0 .01 0zM73.7 459.7a1.38 3.05 0 1 0 .01 0zM73.7 457.7a1.38 3.05 0 1 0 .01 0zM73.7 455.7a1.38 3.05 0 1 0 .01 0zM73.7 453.9a1.38 3.05 0 1 0 .01 0zM73.7 451.6a1.38 3.05 0 1 0 .01 0zM73.7 449.7a1.38 3.05 0 1 0 .01 0zM73.7 447.7a1.38 3.05 0 1 0 .01 0zM73.7 445.5a1.38 3.05 0 1 0 .01 0zM73.7 443.5a1.38 3.05 0 1 0 .01 0zM73.7 441.5a1.38 3.05 0 1 0 .01 0zM73.7 439.4a1.38 3.05 0 1 0 .01 0zM73.7 437.3a1.38 3.05 0 1 0 .01 0zM73.7 435.3a1.38 3.05 0 1 0 .01 0zM73.7 433.3a1.38 3.05 0 1 0 .01 0zM73.7 431.2a1.38 3.05 0 1 0 .01 0zM89.1 502.6a1.38 3.05 0 1 0 .01 0zM89.1 493.7a1.38 3.05 0 1 0 .01 0zM89.1 488.6a1.38 3.05 0 1 0 .01 0zM89.1 484.9a1.38 3.05 0 1 0 .01 0zM89.1 484.9a1.38 3.05 0 1 0 .01 0zM89.1 482.1a1.38 3.05 0 1 0 .01 0zM89.1 479.8a1.38 3.05 0 1 0 .01 0zM89.1 477.8a1.38 3.05 0 1 0 .01 0zM89.1 476.1a1.38 3.05 0 1 0 .01 0zM89.1 474.6a1.38 3.05 0 1 0 .01 0zM89.1 472.1a1.38 3.05 0 1 0 .01 0zM89.1 469.9a1.38 3.05 0 1 0 .01 0zM89.1 468.1a1.38 3.05 0 1 0 .01 0zM89.1 465.8a1.38 3.05 0 1 0 .01 0zM89.1 463.8a1.38 3.05 0 1 0 .01 0zM89.1 462.2a1.38 3.05 0 1 0 .01 0zM89.1 459.7a1.38 3.05 0 1 0 .01 0zM89.1 457.7a1.38 3.05 0 1 0 .01 0zM89.1 455.7a1.38 3.05 0 1 0 .01 0zM89.1 453.9a1.38 3.05 0 1 0 .01 0zM89.1 451.6a1.38 3.05 0 1 0 .01 0zM89.1 449.7a1.38 3.05 0 1 0 .01 0zM89.1 447.7a1.38 3.05 0 1 0 .01 0zM89.1 445.5a1.38 3.05 0 1 0 .01 0zM89.1 443.5a1.38 3.05 0 1 0 .01 0zM89.1 441.5a1.38 3.05 0 1 0 .01 0zM89.1 439.4a1.38 3.05 0 1 0 .01 0zM89.1 437.3a1.38 3.05 0 1 0 .01 0zM89.1 435.3a1.38 3.05 0 1 0 .01 0zM89.1 433.3a1.38 3.05 0 1 0 .01 0zM89.1 431.2a1.38 3.05 0 1 0 .01 0zM89.1 429.2a1.38 3.05 0 1 0 .01 0zM89.1 427.1a1.38 3.05 0 1 0 .01 0zM99.9 502.6a1.38 3.05 0 1 0 .01 0zM99.9 493.7a1.38 3.05 0 1 0 .01 0zM99.9 488.6a1.38 3.05 0 1 0 .01 0zM99.9 484.9a1.38 3.05 0 1 0 .01 0zM99.9 484.9a1.38 3.05 0 1 0 .01 0zM99.9 482.1a1.38 3.05 0 1 0 .01 0zM99.9 479.8a1.38 3.05 0 1 0 .01 0zM99.9 477.8a1.38 3.05 0 1 0 .01 0zM99.9 476.1a1.38 3.05 0 1 0 .01 0zM99.9 474.6a1.38 3.05 0 1 0 .01 0zM99.9 472.1a1.38 3.05 0 1 0 .01 0zM99.9 469.9a1.38 3.05 0 1 0 .01 0zM99.9 468.1a1.38 3.05 0 1 0 .01 0zM99.9 465.8a1.38 3.05 0 1 0 .01 0zM99.9 463.8a1.38 3.05 0 1 0 .01 0zM99.9 462.2a1.38 3.05 0 1 0 .01 0zM99.9 459.7a1.38 3.05 0 1 0 .01 0zM99.9 457.7a1.38 3.05 0 1 0 .01 0zM99.9 455.7a1.38 3.05 0 1 0 .01 0zM99.9 453.9a1.38 3.05 0 1 0 .01 0zM99.9 451.6a1.38 3.05 0 1 0 .01 0zM99.9 449.7a1.38 3.05 0 1 0 .01 0zM99.9 447.7a1.38 3.05 0 1 0 .01 0zM99.9 445.5a1.38 3.05 0 1 0 .01 0zM99.9 443.5a1.38 3.05 0 1 0 .01 0zM99.9 441.5a1.38 3.05 0 1 0 .01 0zM99.9 439.4a1.38 3.05 0 1 0 .01 0zM99.9 437.3a1.38 3.05 0 1 0 .01 0zM99.9 435.3a1.38 3.05 0 1 0 .01 0zM99.9 433.3a1.38 3.05 0 1 0 .01 0zM99.9 431.2a1.38 3.05 0 1 0 .01 0zM108.4 502.6a1.38 3.05 0 1 0 .01 0zM108.4 493.7a1.38 3.05 0 1 0 .01 0zM108.4 488.6a1.38 3.05 0 1 0 .01 0zM108.4 484.9a1.38 3.05 0 1 0 .01 0zM108.4 484.9a1.38 3.05 0 1 0 .01 0zM108.4 482.1a1.38 3.05 0 1 0 .01 0zM108.4 479.8a1.38 3.05 0 1 0 .01 0zM108.4 477.8a1.38 3.05 0 1 0 .01 0zM108.4 476.1a1.38 3.05 0 1 0 .01 0zM108.4 474.6a1.38 3.05 0 1 0 .01 0zM108.4 472.1a1.38 3.05 0 1 0 .01 0zM108.4 469.9a1.38 3.05 0 1 0 .01 0zM108.4 468.1a1.38 3.05 0 1 0 .01 0zM108.4 465.8a1.38 3.05 0 1 0 .01 0zM108.4 463.8a1.38 3.05 0 1 0 .01 0zM108.4 462.2a1.38 3.05 0 1 0 .01 0zM108.4 459.7a1.38 3.05 0 1 0 .01 0zM108.4 457.7a1.38 3.05 0 1 0 .01 0zM108.4 455.7a1.38 3.05 0 1 0 .01 0zM108.4 453.9a1.38 3.05 0 1 0 .01 0zM108.4 451.6a1.38 3.05 0 1 0 .01 0zM108.4 449.7a1.38 3.05 0 1 0 .01 0zM108.4 447.7a1.38 3.05 0 1 0 .01 0zM108.4 445.5a1.38 3.05 0 1 0 .01 0zM108.4 443.5a1.38 3.05 0 1 0 .01 0zM108.4 441.5a1.38 3.05 0 1 0 .01 0zM108.4 439.4a1.38 3.05 0 1 0 .01 0zM108.4 437.3a1.38 3.05 0 1 0 .01 0zM108.4 435.3a1.38 3.05 0 1 0 .01 0zM108.4 433.3a1.38 3.05 0 1 0 .01 0zM108.4 431.2a1.38 3.05 0 1 0 .01 0zM108.4 429.2a1.38 3.05 0 1 0 .01 0zM108.4 427.7a1.38 3.05 0 1 0 .01 0zM115.3 502.6a1.38 3.05 0 1 0 .01 0zM115.3 493.7a1.38 3.05 0 1 0 .01 0zM115.3 488.6a1.38 3.05 0 1 0 .01 0zM115.3 484.9a1.38 3.05 0 1 0 .01 0zM115.3 484.9a1.38 3.05 0 1 0 .01 0zM115.3 482.1a1.38 3.05 0 1 0 .01 0zM115.3 479.8a1.38 3.05 0 1 0 .01 0zM115.3 477.8a1.38 3.05 0 1 0 .01 0zM115.3 476.1a1.38 3.05 0 1 0 .01 0zM115.3 474.6a1.38 3.05 0 1 0 .01 0zM115.3 472.1a1.38 3.05 0 1 0 .01 0zM115.3 469.9a1.38 3.05 0 1 0 .01 0zM115.3 468.1a1.38 3.05 0 1 0 .01 0zM115.3 465.8a1.38 3.05 0 1 0 .01 0zM115.3 463.8a1.38 3.05 0 1 0 .01 0zM115.3 462.2a1.38 3.05 0 1 0 .01 0zM115.3 459.7a1.38 3.05 0 1 0 .01 0zM115.3 457.7a1.38 3.05 0 1 0 .01 0zM115.3 455.7a1.38 3.05 0 1 0 .01 0zM115.3 453.9a1.38 3.05 0 1 0 .01 0zM115.3 451.6a1.38 3.05 0 1 0 .01 0zM115.3 449.7a1.38 3.05 0 1 0 .01 0zM115.3 447.7a1.38 3.05 0 1 0 .01 0zM115.3 445.5a1.38 3.05 0 1 0 .01 0zM115.3 443.5a1.38 3.05 0 1 0 .01 0zM115.3 441.5a1.38 3.05 0 1 0 .01 0zM115.3 439.4a1.38 3.05 0 1 0 .01 0zM115.3 437.3a1.38 3.05 0 1 0 .01 0zM115.3 435.3a1.38 3.05 0 1 0 .01 0zM115.3 433.3a1.38 3.05 0 1 0 .01 0zM115.3 431.2a1.38 3.05 0 1 0 .01 0zM121.1 502.6a1.38 3.05 0 1 0 .01 0zM121.1 493.7a1.38 3.05 0 1 0 .01 0zM121.1 488.6a1.38 3.05 0 1 0 .01 0zM121.1 484.9a1.38 3.05 0 1 0 .01 0zM121.1 484.9a1.38 3.05 0 1 0 .01 0zM121.1 482.1a1.38 3.05 0 1 0 .01 0zM121.1 479.8a1.38 3.05 0 1 0 .01 0zM121.1 477.8a1.38 3.05 0 1 0 .01 0zM121.1 476.1a1.38 3.05 0 1 0 .01 0zM121.1 474.6a1.38 3.05 0 1 0 .01 0zM121.1 472.1a1.38 3.05 0 1 0 .01 0zM121.1 469.9a1.38 3.05 0 1 0 .01 0zM121.1 468.1a1.38 3.05 0 1 0 .01 0zM121.1 465.8a1.38 3.05 0 1 0 .01 0zM121.1 463.8a1.38 3.05 0 1 0 .01 0zM121.1 462.2a1.38 3.05 0 1 0 .01 0zM121.1 459.7a1.38 3.05 0 1 0 .01 0zM121.1 457.7a1.38 3.05 0 1 0 .01 0zM121.1 455.7a1.38 3.05 0 1 0 .01 0zM121.1 453.9a1.38 3.05 0 1 0 .01 0zM121.1 451.6a1.38 3.05 0 1 0 .01 0zM121.1 449.7a1.38 3.05 0 1 0 .01 0zM121.1 447.7a1.38 3.05 0 1 0 .01 0zM121.1 445.5a1.38 3.05 0 1 0 .01 0zM121.1 443.5a1.38 3.05 0 1 0 .01 0zM121.1 441.5a1.38 3.05 0 1 0 .01 0zM121.1 439.4a1.38 3.05 0 1 0 .01 0zM121.1 437.3a1.38 3.05 0 1 0 .01 0zM121.1 435.3a1.38 3.05 0 1 0 .01 0zM121.1 433.3a1.38 3.05 0 1 0 .01 0zM121.1 431.2a1.38 3.05 0 1 0 .01 0zM121.1 429.2a1.38 3.05 0 1 0 .01 0zM126.2 493.7a1.38 3.05 0 1 0 .01 0zM126.2 488.6a1.38 3.05 0 1 0 .01 0zM126.2 484.9a1.38 3.05 0 1 0 .01 0zM126.2 484.9a1.38 3.05 0 1 0 .01 0zM126.2 482.1a1.38 3.05 0 1 0 .01 0zM126.2 479.8a1.38 3.05 0 1 0 .01 0zM126.2 477.8a1.38 3.05 0 1 0 .01 0zM126.2 476.1a1.38 3.05 0 1 0 .01 0zM126.2 474.6a1.38 3.05 0 1 0 .01 0zM126.2 472.1a1.38 3.05 0 1 0 .01 0zM126.2 469.9a1.38 3.05 0 1 0 .01 0zM126.2 468.1a1.38 3.05 0 1 0 .01 0zM126.2 465.8a1.38 3.05 0 1 0 .01 0zM126.2 463.8a1.38 3.05 0 1 0 .01 0zM126.2 462.2a1.38 3.05 0 1 0 .01 0zM126.2 459.7a1.38 3.05 0 1 0 .01 0zM126.2 457.7a1.38 3.05 0 1 0 .01 0zM126.2 455.7a1.38 3.05 0 1 0 .01 0zM126.2 453.9a1.38 3.05 0 1 0 .01 0zM126.2 451.6a1.38 3.05 0 1 0 .01 0zM126.2 449.7a1.38 3.05 0 1 0 .01 0zM126.2 447.7a1.38 3.05 0 1 0 .01 0zM126.2 445.5a1.38 3.05 0 1 0 .01 0zM126.2 443.5a1.38 3.05 0 1 0 .01 0zM126.2 441.5a1.38 3.05 0 1 0 .01 0zM126.2 439.4a1.38 3.05 0 1 0 .01 0zM126.2 437.3a1.38 3.05 0 1 0 .01 0zM126.2 435.3a1.38 3.05 0 1 0 .01 0zM126.2 433.3a1.38 3.05 0 1 0 .01 0zM126.2 431.2a1.38 3.05 0 1 0 .01 0zM126.2 429.2a1.38 3.05 0 1 0 .01 0zM126.2 425.8a1.38 3.05 0 1 0 .01 0zM126.2 423.1a1.38 3.05 0 1 0 .01 0zM130.6 502.6a1.38 3.05 0 1 0 .01 0zM130.6 493.7a1.38 3.05 0 1 0 .01 0zM130.6 488.6a1.38 3.05 0 1 0 .01 0zM130.6 484.9a1.38 3.05 0 1 0 .01 0zM130.6 482.1a1.38 3.05 0 1 0 .01 0zM130.6 479.8a1.38 3.05 0 1 0 .01 0zM130.6 477.8a1.38 3.05 0 1 0 .01 0zM130.6 476.1a1.38 3.05 0 1 0 .01 0zM130.6 474.6a1.38 3.05 0 1 0 .01 0zM130.6 472.1a1.38 3.05 0 1 0 .01 0zM130.6 469.9a1.38 3.05 0 1 0 .01 0zM130.6 468.1a1.38 3.05 0 1 0 .01 0zM130.6 465.8a1.38 3.05 0 1 0 .01 0zM130.6 463.8a1.38 3.05 0 1 0 .01 0zM130.6 462.2a1.38 3.05 0 1 0 .01 0zM130.6 459.7a1.38 3.05 0 1 0 .01 0zM130.6 457.7a1.38 3.05 0 1 0 .01 0zM130.6 455.7a1.38 3.05 0 1 0 .01 0zM130.6 453.9a1.38 3.05 0 1 0 .01 0zM130.6 451.6a1.38 3.05 0 1 0 .01 0zM130.6 449.7a1.38 3.05 0 1 0 .01 0zM130.6 447.7a1.38 3.05 0 1 0 .01 0zM130.6 445.5a1.38 3.05 0 1 0 .01 0zM130.6 443.5a1.38 3.05 0 1 0 .01 0zM130.6 441.5a1.38 3.05 0 1 0 .01 0zM130.6 439.4a1.38 3.05 0 1 0 .01 0zM130.6 437.3a1.38 3.05 0 1 0 .01 0zM130.6 435.3a1.38 3.05 0 1 0 .01 0zM130.6 433.3a1.38 3.05 0 1 0 .01 0zM130.6 431.2a1.38 3.05 0 1 0 .01 0zM130.6 429.2a1.38 3.05 0 1 0 .01 0zM130.6 427.1a1.38 3.05 0 1 0 .01 0zM134.6 493.7a1.38 3.05 0 1 0 .01 0zM134.6 484.9a1.38 3.05 0 1 0 .01 0zM134.6 482.1a1.38 3.05 0 1 0 .01 0zM134.6 479.8a1.38 3.05 0 1 0 .01 0zM134.6 479.8a1.38 3.05 0 1 0 .01 0zM134.6 476.1a1.38 3.05 0 1 0 .01 0zM134.6 474.6a1.38 3.05 0 1 0 .01 0zM134.6 472.1a1.38 3.05 0 1 0 .01 0zM134.6 471a1.38 3.05 0 1 0 .01 0zM134.6 468.1a1.38 3.05 0 1 0 .01 0zM134.6 464.5a1.38 3.05 0 1 0 .01 0zM134.6 460.2a1.38 3.05 0 1 0 .01 0zM134.6 458.1a1.38 3.05 0 1 0 .01 0zM134.6 456.3a1.38 3.05 0 1 0 .01 0zM134.6 454.2a1.38 3.05 0 1 0 .01 0zM134.6 452.1a1.38 3.05 0 1 0 .01 0zM134.6 450.1a1.38 3.05 0 1 0 .01 0zM134.6 448a1.38 3.05 0 1 0 .01 0zM134.6 445.9a1.38 3.05 0 1 0 .01 0zM134.6 444a1.38 3.05 0 1 0 .01 0zM134.6 441.9a1.38 3.05 0 1 0 .01 0zM134.6 439.8a1.38 3.05 0 1 0 .01 0zM134.6 437.8a1.38 3.05 0 1 0 .01 0zM134.6 435.8a1.38 3.05 0 1 0 .01 0zM134.6 433.7a1.38 3.05 0 1 0 .01 0zM134.6 431.7a1.38 3.05 0 1 0 .01 0zM134.6 429.6a1.38 3.05 0 1 0 .01 0zM134.6 427.6a1.38 3.05 0 1 0 .01 0zM134.6 424.1a1.38 3.05 0 1 0 .01 0zM138.2 502.6a1.38 3.05 0 1 0 .01 0zM138.2 493.7a1.38 3.05 0 1 0 .01 0zM138.2 488.6a1.38 3.05 0 1 0 .01 0zM138.2 484.9a1.38 3.05 0 1 0 .01 0zM138.2 484.9a1.38 3.05 0 1 0 .01 0zM138.2 482.1a1.38 3.05 0 1 0 .01 0zM138.2 479.8a1.38 3.05 0 1 0 .01 0zM138.2 477.8a1.38 3.05 0 1 0 .01 0zM138.2 476.1a1.38 3.05 0 1 0 .01 0zM138.2 472.1a1.38 3.05 0 1 0 .01 0zM138.2 469.9a1.38 3.05 0 1 0 .01 0zM138.2 468.1a1.38 3.05 0 1 0 .01 0zM138.2 465.8a1.38 3.05 0 1 0 .01 0zM138.2 463.8a1.38 3.05 0 1 0 .01 0zM138.2 462.2a1.38 3.05 0 1 0 .01 0zM138.2 459.7a1.38 3.05 0 1 0 .01 0zM138.2 455.7a1.38 3.05 0 1 0 .01 0zM138.2 453.9a1.38 3.05 0 1 0 .01 0zM138.2 451.6a1.38 3.05 0 1 0 .01 0zM138.2 449.7a1.38 3.05 0 1 0 .01 0zM138.2 447.7a1.38 3.05 0 1 0 .01 0zM138.2 443.5a1.38 3.05 0 1 0 .01 0zM138.2 441.5a1.38 3.05 0 1 0 .01 0zM138.2 439.4a1.38 3.05 0 1 0 .01 0zM138.2 437.3a1.38 3.05 0 1 0 .01 0zM138.2 435.3a1.38 3.05 0 1 0 .01 0zM138.2 433.3a1.38 3.05 0 1 0 .01 0zM138.2 431.2a1.38 3.05 0 1 0 .01 0zM138.2 429.2a1.38 3.05 0 1 0 .01 0zM138.2 427.1a1.38 3.05 0 1 0 .01 0zM141.5 502.6a1.38 3.05 0 1 0 .01 0zM141.5 488.6a1.38 3.05 0 1 0 .01 0zM141.5 484.9a1.38 3.05 0 1 0 .01 0zM141.5 484.9a1.38 3.05 0 1 0 .01 0zM141.5 482.1a1.38 3.05 0 1 0 .01 0zM141.5 479.8a1.38 3.05 0 1 0 .01 0zM141.5 477.8a1.38 3.05 0 1 0 .01 0zM141.5 476.1a1.38 3.05 0 1 0 .01 0zM141.5 474.6a1.38 3.05 0 1 0 .01 0zM141.5 472.1a1.38 3.05 0 1 0 .01 0zM141.5 468.1a1.38 3.05 0 1 0 .01 0zM141.5 465.8a1.38 3.05 0 1 0 .01 0zM141.5 463.8a1.38 3.05 0 1 0 .01 0zM141.5 462.2a1.38 3.05 0 1 0 .01 0zM141.5 459.7a1.38 3.05 0 1 0 .01 0zM141.5 457.7a1.38 3.05 0 1 0 .01 0zM141.5 455.7a1.38 3.05 0 1 0 .01 0zM141.5 451.6a1.38 3.05 0 1 0 .01 0zM141.5 449.7a1.38 3.05 0 1 0 .01 0zM141.5 447.7a1.38 3.05 0 1 0 .01 0zM141.5 445.5a1.38 3.05 0 1 0 .01 0zM141.5 443.5a1.38 3.05 0 1 0 .01 0zM141.5 441.5a1.38 3.05 0 1 0 .01 0zM141.5 439.4a1.38 3.05 0 1 0 .01 0zM141.5 437.3a1.38 3.05 0 1 0 .01 0zM141.5 435.3a1.38 3.05 0 1 0 .01 0zM141.5 433.3a1.38 3.05 0 1 0 .01 0zM141.5 431.2a1.38 3.05 0 1 0 .01 0zM141.5 429.2a1.38 3.05 0 1 0 .01 0zM144.5 484.9a1.38 3.05 0 1 0 .01 0zM144.5 482.1a1.38 3.05 0 1 0 .01 0zM144.5 479.8a1.38 3.05 0 1 0 .01 0zM144.5 476.1a1.38 3.05 0 1 0 .01 0zM144.5 474.6a1.38 3.05 0 1 0 .01 0zM144.5 468.1a1.38 3.05 0 1 0 .01 0zM144.5 466.5a1.38 3.05 0 1 0 .01 0zM144.5 464.5a1.38 3.05 0 1 0 .01 0zM144.5 462.2a1.38 3.05 0 1 0 .01 0zM144.5 460.2a1.38 3.05 0 1 0 .01 0zM144.5 458.1a1.38 3.05 0 1 0 .01 0zM144.5 456.3a1.38 3.05 0 1 0 .01 0zM144.5 454.2a1.38 3.05 0 1 0 .01 0zM144.5 450.1a1.38 3.05 0 1 0 .01 0zM144.5 448a1.38 3.05 0 1 0 .01 0zM144.5 445.9a1.38 3.05 0 1 0 .01 0zM144.5 444a1.38 3.05 0 1 0 .01 0zM144.5 439.8a1.38 3.05 0 1 0 .01 0zM144.5 437.8a1.38 3.05 0 1 0 .01 0zM144.5 433.7a1.38 3.05 0 1 0 .01 0zM144.5 429.6a1.38 3.05 0 1 0 .01 0zM144.5 425.5a1.38 3.05 0 1 0 .01 0zM147.3 502.6a1.38 3.05 0 1 0 .01 0zM147.3 482.1a1.38 3.05 0 1 0 .01 0zM147.3 479.8a1.38 3.05 0 1 0 .01 0zM147.3 476.1a1.38 3.05 0 1 0 .01 0zM147.3 469.9a1.38 3.05 0 1 0 .01 0zM147.3 468.1a1.38 3.05 0 1 0 .01 0zM147.3 463.8a1.38 3.05 0 1 0 .01 0zM147.3 461.6a1.38 3.05 0 1 0 .01 0zM147.3 457.4a1.38 3.05 0 1 0 .01 0zM147.3 455.3a1.38 3.05 0 1 0 .01 0zM147.3 453.3a1.38 3.05 0 1 0 .01 0zM147.3 451.4a1.38 3.05 0 1 0 .01 0zM147.3 449.3a1.38 3.05 0 1 0 .01 0zM147.3 447.3a1.38 3.05 0 1 0 .01 0zM147.3 445.2a1.38 3.05 0 1 0 .01 0zM147.3 443.1a1.38 3.05 0 1 0 .01 0zM147.3 441.1a1.38 3.05 0 1 0 .01 0zM147.3 439a1.38 3.05 0 1 0 .01 0zM147.3 437a1.38 3.05 0 1 0 .01 0zM147.3 434.9a1.38 3.05 0 1 0 .01 0zM147.3 432.9a1.38 3.05 0 1 0 .01 0zM147.3 430.9a1.38 3.05 0 1 0 .01 0zM147.3 428.8a1.38 3.05 0 1 0 .01 0zM147.3 426.8a1.38 3.05 0 1 0 .01 0zM149.9 493.7a1.38 3.05 0 1 0 .01 0zM149.9 479.8a1.38 3.05 0 1 0 .01 0zM149.9 477.8a1.38 3.05 0 1 0 .01 0zM149.9 473.3a1.38 3.05 0 1 0 .01 0zM149.9 465.1a1.38 3.05 0 1 0 .01 0zM149.9 461.1a1.38 3.05 0 1 0 .01 0zM149.9 459.3a1.38 3.05 0 1 0 .01 0zM149.9 455a1.38 3.05 0 1 0 .01 0zM149.9 453.1a1.38 3.05 0 1 0 .01 0zM149.9 451.2a1.38 3.05 0 1 0 .01 0zM149.9 449.1a1.38 3.05 0 1 0 .01 0zM149.9 447a1.38 3.05 0 1 0 .01 0zM149.9 442.9a1.38 3.05 0 1 0 .01 0zM149.9 440.9a1.38 3.05 0 1 0 .01 0zM149.9 438.8a1.38 3.05 0 1 0 .01 0zM149.9 436.8a1.38 3.05 0 1 0 .01 0zM149.9 430.6a1.38 3.05 0 1 0 .01 0zM149.9 428.6a1.38 3.05 0 1 0 .01 0zM149.9 426.5a1.38 3.05 0 1 0 .01 0zM152.4 502.6a1.38 3.05 0 1 0 .01 0zM152.4 482.1a1.38 3.05 0 1 0 .01 0zM152.4 477.8a1.38 3.05 0 1 0 .01 0zM152.4 476.1a1.38 3.05 0 1 0 .01 0zM152.4 472.1a1.38 3.05 0 1 0 .01 0zM152.4 469.9a1.38 3.05 0 1 0 .01 0zM152.4 468.1a1.38 3.05 0 1 0 .01 0zM152.4 465.8a1.38 3.05 0 1 0 .01 0zM152.4 463.8a1.38 3.05 0 1 0 .01 0zM152.4 461.6a1.38 3.05 0 1 0 .01 0zM152.4 459.7a1.38 3.05 0 1 0 .01 0zM152.4 451.4a1.38 3.05 0 1 0 .01 0zM152.4 449.3a1.38 3.05 0 1 0 .01 0zM152.4 445.2a1.38 3.05 0 1 0 .01 0zM152.4 441.1a1.38 3.05 0 1 0 .01 0zM152.4 439a1.38 3.05 0 1 0 .01 0zM152.4 437a1.38 3.05 0 1 0 .01 0zM152.4 434.9a1.38 3.05 0 1 0 .01 0zM152.4 432.9a1.38 3.05 0 1 0 .01 0zM152.4 430.9a1.38 3.05 0 1 0 .01 0zM152.4 428.8a1.38 3.05 0 1 0 .01 0zM154.7 452.3a1.38 3.05 0 1 0 .01 0zM154.7 444.5a1.38 3.05 0 1 0 .01 0zM154.7 445.8a1.38 3.05 0 1 0 .01 0zM154.7 428.9a1.38 3.05 0 1 0 .01 0zM154.7 449.7a1.38 3.05 0 1 0 .01 0zM154.7 442.9a1.38 3.05 0 1 0 .01 0zM154.7 473.3a1.38 3.05 0 1 0 .01 0zM154.7 436.9a1.38 3.05 0 1 0 .01 0zM154.7 437.3a1.38 3.05 0 1 0 .01 0zM154.7 436.1a1.38 3.05 0 1 0 .01 0zM154.7 434.5a1.38 3.05 0 1 0 .01 0zM154.7 493.7a1.38 3.05 0 1 0 .01 0zM156.8 430.3a1.38 3.05 0 1 0 .01 0zM156.8 441.6a1.38 3.05 0 1 0 .01 0zM156.8 493.7a1.38 3.05 0 1 0 .01 0zM156.8 427.3a1.38 3.05 0 1 0 .01 0zM156.8 464.5a1.38 3.05 0 1 0 .01 0zM156.8 433.9a1.38 3.05 0 1 0 .01 0zM156.8 476.1a1.38 3.05 0 1 0 .01 0zM156.8 458.1a1.38 3.05 0 1 0 .01 0zM156.8 422.7a1.38 3.05 0 1 0 .01 0zM156.8 432.5a1.38 3.05 0 1 0 .01 0zM156.8 429.4a1.38 3.05 0 1 0 .01 0zM156.8 477.8a1.38 3.05 0 1 0 .01 0zM158.9 431.2a1.38 3.05 0 1 0 .01 0zM158.9 465.1a1.38 3.05 0 1 0 .01 0zM158.9 467.3a1.38 3.05 0 1 0 .01 0zM158.9 445.6a1.38 3.05 0 1 0 .01 0zM158.9 449.1a1.38 3.05 0 1 0 .01 0zM158.9 439.8a1.38 3.05 0 1 0 .01 0zM158.9 430.3a1.38 3.05 0 1 0 .01 0zM158.9 436.1a1.38 3.05 0 1 0 .01 0zM158.9 435.2a1.38 3.05 0 1 0 .01 0zM158.9 441.7a1.38 3.05 0 1 0 .01 0zM158.9 429.5a1.38 3.05 0 1 0 .01 0zM158.9 453.9a1.38 3.05 0 1 0 .01 0zM160.8 425.6a1.38 3.05 0 1 0 .01 0zM160.8 436.3a1.38 3.05 0 1 0 .01 0zM160.8 435.1a1.38 3.05 0 1 0 .01 0zM160.8 431.4a1.38 3.05 0 1 0 .01 0zM160.8 474.6a1.38 3.05 0 1 0 .01 0zM160.8 450.7a1.38 3.05 0 1 0 .01 0zM160.8 438.4a1.38 3.05 0 1 0 .01 0zM160.8 432.8a1.38 3.05 0 1 0 .01 0zM160.8 430a1.38 3.05 0 1 0 .01 0zM160.8 433.8a1.38 3.05 0 1 0 .01 0zM160.8 429.1a1.38 3.05 0 1 0 .01 0zM160.8 452.1a1.38 3.05 0 1 0 .01 0zM162.7 449.7a1.38 3.05 0 1 0 .01 0zM162.7 427.1a1.38 3.05 0 1 0 .01 0zM162.7 453.6a1.38 3.05 0 1 0 .01 0zM162.7 426a1.38 3.05 0 1 0 .01 0zM162.7 449.5a1.38 3.05 0 1 0 .01 0zM162.7 430.4a1.38 3.05 0 1 0 .01 0zM162.7 433.4a1.38 3.05 0 1 0 .01 0zM162.7 418.7a1.38 3.05 0 1 0 .01 0zM162.7 451.6a1.38 3.05 0 1 0 .01 0zM162.7 425.8a1.38 3.05 0 1 0 .01 0zM162.7 427.8a1.38 3.05 0 1 0 .01 0zM162.7 456a1.38 3.05 0 1 0 .01 0zM164.4 453.3a1.38 3.05 0 1 0 .01 0zM164.4 449.7a1.38 3.05 0 1 0 .01 0zM164.4 453.1a1.38 3.05 0 1 0 .01 0zM164.4 429.8a1.38 3.05 0 1 0 .01 0zM164.4 428a1.38 3.05 0 1 0 .01 0zM164.4 426.5a1.38 3.05 0 1 0 .01 0zM164.4 431.2a1.38 3.05 0 1 0 .01 0zM164.4 450.1a1.38 3.05 0 1 0 .01 0zM164.4 450.3a1.38 3.05 0 1 0 .01 0zM164.4 462.7a1.38 3.05 0 1 0 .01 0zM164.4 463.3a1.38 3.05 0 1 0 .01 0zM164.4 463.8a1.38 3.05 0 1 0 .01 0zM166.1 463.3a1.38 3.05 0 1 0 .01 0zM166.1 446.5a1.38 3.05 0 1 0 .01 0zM166.1 437.7a1.38 3.05 0 1 0 .01 0zM166.1 482.1a1.38 3.05 0 1 0 .01 0zM166.1 448.7a1.38 3.05 0 1 0 .01 0zM166.1 454.4a1.38 3.05 0 1 0 .01 0zM166.1 467.3a1.38 3.05 0 1 0 .01 0zM166.1 454.7a1.38 3.05 0 1 0 .01 0zM166.1 443a1.38 3.05 0 1 0 .01 0zM166.1 455.7a1.38 3.05 0 1 0 .01 0zM166.1 439.1a1.38 3.05 0 1 0 .01 0zM166.1 433.5a1.38 3.05 0 1 0 .01 0zM167.7 432.3a1.38 3.05 0 1 0 .01 0zM167.7 438.3a1.38 3.05 0 1 0 .01 0zM167.7 493.7a1.38 3.05 0 1 0 .01 0zM167.7 488.6a1.38 3.05 0 1 0 .01 0zM167.7 425.9a1.38 3.05 0 1 0 .01 0zM167.7 453.6a1.38 3.05 0 1 0 .01 0zM167.7 423.1a1.38 3.05 0 1 0 .01 0zM167.7 425.8a1.38 3.05 0 1 0 .01 0zM167.7 437.8a1.38 3.05 0 1 0 .01 0zM167.7 433.6a1.38 3.05 0 1 0 .01 0zM167.7 459.7a1.38 3.05 0 1 0 .01 0zM167.7 432.4a1.38 3.05 0 1 0 .01 0zM169.3 449.1a1.38 3.05 0 1 0 .01 0zM169.3 482.1a1.38 3.05 0 1 0 .01 0zM169.3 452.8a1.38 3.05 0 1 0 .01 0zM169.3 439.5a1.38 3.05 0 1 0 .01 0zM169.3 457a1.38 3.05 0 1 0 .01 0zM169.3 442.2a1.38 3.05 0 1 0 .01 0zM169.3 435.4a1.38 3.05 0 1 0 .01 0zM169.3 436.9a1.38 3.05 0 1 0 .01 0zM169.3 425.1a1.38 3.05 0 1 0 .01 0zM169.3 465.1a1.38 3.05 0 1 0 .01 0zM169.3 446.5a1.38 3.05 0 1 0 .01 0zM169.3 453.3a1.38 3.05 0 1 0 .01 0zM170.7 433.4a1.38 3.05 0 1 0 .01 0zM170.7 440.4a1.38 3.05 0 1 0 .01 0zM170.7 484.9a1.38 3.05 0 1 0 .01 0zM170.7 435.2a1.38 3.05 0 1 0 .01 0zM170.7 482.1a1.38 3.05 0 1 0 .01 0zM170.7 443.4a1.38 3.05 0 1 0 .01 0zM170.7 469a1.38 3.05 0 1 0 .01 0zM170.7 449.9a1.38 3.05 0 1 0 .01 0zM170.7 423.1a1.38 3.05 0 1 0 .01 0zM170.7 452.1a1.38 3.05 0 1 0 .01 0zM170.7 423.2a1.38 3.05 0 1 0 .01 0zM170.7 452.1a1.38 3.05 0 1 0 .01 0zM172.2 452.8a1.38 3.05 0 1 0 .01 0zM172.2 450.3a1.38 3.05 0 1 0 .01 0zM172.2 420.1a1.38 3.05 0 1 0 .01 0zM172.2 437.1a1.38 3.05 0 1 0 .01 0zM172.2 436.7a1.38 3.05 0 1 0 .01 0zM172.2 448.2a1.38 3.05 0 1 0 .01 0zM172.2 438.2a1.38 3.05 0 1 0 .01 0zM172.2 479.8a1.38 3.05 0 1 0 .01 0zM172.2 454.4a1.38 3.05 0 1 0 .01 0zM172.2 436.8a1.38 3.05 0 1 0 .01 0zM172.2 446.1a1.38 3.05 0 1 0 .01 0zM172.2 429a1.38 3.05 0 1 0 .01 0zM173.5 432.5a1.38 3.05 0 1 0 .01 0zM173.5 447.5a1.38 3.05 0 1 0 .01 0zM173.5 418.7a1.38 3.05 0 1 0 .01 0zM173.5 425a1.38 3.05 0 1 0 .01 0zM173.5 415.2a1.38 3.05 0 1 0 .01 0zM173.5 469a1.38 3.05 0 1 0 .01 0zM173.5 428.8a1.38 3.05 0 1 0 .01 0zM173.5 445.8a1.38 3.05 0 1 0 .01 0zM173.5 482.1a1.38 3.05 0 1 0 .01 0zM173.5 430.2a1.38 3.05 0 1 0 .01 0zM173.5 438.9a1.38 3.05 0 1 0 .01 0zM173.5 411.8a1.38 3.05 0 1 0 .01 0zM174.9 425.5a1.38 3.05 0 1 0 .01 0zM174.9 452.8a1.38 3.05 0 1 0 .01 0zM174.9 438a1.38 3.05 0 1 0 .01 0zM174.9 439.2a1.38 3.05 0 1 0 .01 0zM174.9 453.9a1.38 3.05 0 1 0 .01 0zM174.9 452.8a1.38 3.05 0 1 0 .01 0zM174.9 446.2a1.38 3.05 0 1 0 .01 0zM174.9 445.6a1.38 3.05 0 1 0 .01 0zM174.9 431.1a1.38 3.05 0 1 0 .01 0zM174.9 469.9a1.38 3.05 0 1 0 .01 0zM174.9 455.3a1.38 3.05 0 1 0 .01 0zM174.9 446.7a1.38 3.05 0 1 0 .01 0zM176.2 429.4a1.38 3.05 0 1 0 .01 0zM176.2 463.8a1.38 3.05 0 1 0 .01 0zM176.2 452.6a1.38 3.05 0 1 0 .01 0zM176.2 416.6a1.38 3.05 0 1 0 .01 0zM176.2 442.1a1.38 3.05 0 1 0 .01 0zM177.4 437a1.38 3.05 0 1 0 .01 0zM177.4 444.4a1.38 3.05 0 1 0 .01 0zM177.4 456a1.38 3.05 0 1 0 .01 0zM177.4 482.1a1.38 3.05 0 1 0 .01 0zM177.4 432.9a1.38 3.05 0 1 0 .01 0zM178.6 448.9a1.38 3.05 0 1 0 .01 0zM178.6 426.7a1.38 3.05 0 1 0 .01 0zM178.6 434.8a1.38 3.05 0 1 0 .01 0zM178.6 441.7a1.38 3.05 0 1 0 .01 0zM178.6 430.9a1.38 3.05 0 1 0 .01 0zM179.8 432.9a1.38 3.05 0 1 0 .01 0zM179.8 445.8a1.38 3.05 0 1 0 .01 0zM179.8 443.6a1.38 3.05 0 1 0 .01 0zM179.8 444.5a1.38 3.05 0 1 0 .01 0zM179.8 458.9a1.38 3.05 0 1 0 .01 0zM180.9 443.4a1.38 3.05 0 1 0 .01 0zM180.9 441.7a1.38 3.05 0 1 0 .01 0zM180.9 437.3a1.38 3.05 0 1 0 .01 0zM180.9 417.6a1.38 3.05 0 1 0 .01 0zM180.9 420.7a1.38 3.05 0 1 0 .01 0zM182 440.8a1.38 3.05 0 1 0 .01 0zM182 426.6a1.38 3.05 0 1 0 .01 0zM182 419.9a1.38 3.05 0 1 0 .01 0zM182 443.9a1.38 3.05 0 1 0 .01 0zM182 453.3a1.38 3.05 0 1 0 .01 0zM183.1 435.2a1.38 3.05 0 1 0 .01 0zM183.1 438.3a1.38 3.05 0 1 0 .01 0zM183.1 430.6a1.38 3.05 0 1 0 .01 0zM183.1 448.7a1.38 3.05 0 1 0 .01 0zM183.1 426.6a1.38 3.05 0 1 0 .01 0zM184.1 457.7a1.38 3.05 0 1 0 .01 0zM184.1 425.6a1.38 3.05 0 1 0 .01 0zM184.1 428.4a1.38 3.05 0 1 0 .01 0zM184.1 421a1.38 3.05 0 1 0 .01 0zM184.1 448a1.38 3.05 0 1 0 .01 0zM185.1 427a1.38 3.05 0 1 0 .01 0zM185.1 453.3a1.38 3.05 0 1 0 .01 0zM185.1 453.9a1.38 3.05 0 1 0 .01 0zM185.1 423.8a1.38 3.05 0 1 0 .01 0zM185.1 441a1.38 3.05 0 1 0 .01 0zM186.1 429.8a1.38 3.05 0 1 0 .01 0zM186.1 456a1.38 3.05 0 1 0 .01 0zM186.1 430.9a1.38 3.05 0 1 0 .01 0zM186.1 419.7a1.38 3.05 0 1 0 .01 0zM186.1 413.4a1.38 3.05 0 1 0 .01 0zM187 442.5a1.38 3.05 0 1 0 .01 0zM187 445.6a1.38 3.05 0 1 0 .01 0zM187 431.9a1.38 3.05 0 1 0 .01 0zM187 424.5a1.38 3.05 0 1 0 .01 0zM187 459.7a1.38 3.05 0 1 0 .01 0zM188 421.5a1.38 3.05 0 1 0 .01 0zM188 448.4a1.38 3.05 0 1 0 .01 0zM188 427.2a1.38 3.05 0 1 0 .01 0zM188 448.9a1.38 3.05 0 1 0 .01 0zM188 449.1a1.38 3.05 0 1 0 .01 0zM188.9 447.3a1.38 3.05 0 1 0 .01 0zM188.9 428.9a1.38 3.05 0 1 0 .01 0zM188.9 439.6a1.38 3.05 0 1 0 .01 0zM188.9 448.9a1.38 3.05 0 1 0 .01 0zM188.9 430.5a1.38 3.05 0 1 0 .01 0zM189.8 433.5a1.38 3.05 0 1 0 .01 0zM189.8 428.9a1.38 3.05 0 1 0 .01 0zM189.8 436.3a1.38 3.05 0 1 0 .01 0zM189.8 435.8a1.38 3.05 0 1 0 .01 0zM189.8 438.4a1.38 3.05 0 1 0 .01 0zM190.6 433.6a1.38 3.05 0 1 0 .01 0zM190.6 420.7a1.38 3.05 0 1 0 .01 0zM190.6 424.8a1.38 3.05 0 1 0 .01 0zM190.6 412.9a1.38 3.05 0 1 0 .01 0zM190.6 471a1.38 3.05 0 1 0 .01 0zM191.5 450.7a1.38 3.05 0 1 0 .01 0zM191.5 418a1.38 3.05 0 1 0 .01 0zM191.5 445.5a1.38 3.05 0 1 0 .01 0zM191.5 419.1a1.38 3.05 0 1 0 .01 0zM191.5 416.7a1.38 3.05 0 1 0 .01 0zM192.3 474.6a1.38 3.05 0 1 0 .01 0zM192.3 425.5a1.38 3.05 0 1 0 .01 0zM193.1 449.7a1.38 3.05 0 1 0 .01 0zM193.1 424.8a1.38 3.05 0 1 0 .01 0zM193.9 419.8a1.38 3.05 0 1 0 .01 0zM193.9 428a1.38 3.05 0 1 0 .01 0zM194.7 429.2a1.38 3.05 0 1 0 .01 0zM194.7 426.6a1.38 3.05 0 1 0 .01 0zM195.5 442.8a1.38 3.05 0 1 0 .01 0zM195.5 439.8a1.38 3.05 0 1 0 .01 0zM196.2 431.8a1.38 3.05 0 1 0 .01 0zM196.2 435.5a1.38 3.05 0 1 0 .01 0zM197 421.4a1.38 3.05 0 1 0 .01 0zM197 438.3a1.38 3.05 0 1 0 .01 0zM197.7 430.8a1.38 3.05 0 1 0 .01 0zM197.7 442.1a1.38 3.05 0 1 0 .01 0zM198.4 432a1.38 3.05 0 1 0 .01 0zM198.4 428.3a1.38 3.05 0 1 0 .01 0zM199.1 416.3a1.38 3.05 0 1 0 .01 0zM199.1 437.6a1.38 3.05 0 1 0 .01 0zM199.8 426.7a1.38 3.05 0 1 0 .01 0zM199.8 446.7a1.38 3.05 0 1 0 .01 0zM200.4 428.6a1.38 3.05 0 1 0 .01 0zM200.4 424.6a1.38 3.05 0 1 0 .01 0zM201.1 450.5a1.38 3.05 0 1 0 .01 0zM201.1 476.1a1.38 3.05 0 1 0 .01 0zM201.7 433.5a1.38 3.05 0 1 0 .01 0zM201.7 464.5a1.38 3.05 0 1 0 .01 0zM202.4 420.3a1.38 3.05 0 1 0 .01 0zM202.4 413.1a1.38 3.05 0 1 0 .01 0zM203 426.2a1.38 3.05 0 1 0 .01 0zM203 416.3a1.38 3.05 0 1 0 .01 0zM203.6 426.4a1.38 3.05 0 1 0 .01 0zM203.6 439.7a1.38 3.05 0 1 0 .01 0zM204.2 417.5a1.38 3.05 0 1 0 .01 0zM204.2 416.5a1.38 3.05 0 1 0 .01 0zM204.8 422.8a1.38 3.05 0 1 0 .01 0zM204.8 423.6a1.38 3.05 0 1 0 .01 0zM205.4 444.3a1.38 3.05 0 1 0 .01 0zM205.4 464.5a1.38 3.05 0 1 0 .01 0zM206 429.9a1.38 3.05 0 1 0 .01 0zM206 434.5a1.38 3.05 0 1 0 .01 0zM206.6 429.3a1.38 3.05 0 1 0 .01 0zM206.6 438.3a1.38 3.05 0 1 0 .01 0zM207.1 430.9a1.38 3.05 0 1 0 .01 0zM207.1 421.9a1.38 3.05 0 1 0 .01 0zM207.7 431.4a1.38 3.05 0 1 0 .01 0zM207.7 411.9a1.38 3.05 0 1 0 .01 0zM208.2 404.4a1.38 3.05 0 1 0 .01 0zM208.2 424.9a1.38 3.05 0 1 0 .01 0zM208.7 433.8a1.38 3.05 0 1 0 .01 0zM208.7 418.3a1.38 3.05 0 1 0 .01 0zM209.3 415.3a1.38 3.05 0 1 0 .01 0zM209.3 414.7a1.38 3.05 0 1 0 .01 0zM209.8 438.3a1.38 3.05 0 1 0 .01 0zM209.8 433.5a1.38 3.05 0 1 0 .01 0zM210.3 428.2a1.38 3.05 0 1 0 .01 0zM210.3 417.5a1.38 3.05 0 1 0 .01 0zM210.8 450.3a1.38 3.05 0 1 0 .01 0zM210.8 421.5a1.38 3.05 0 1 0 .01 0zM211.3 416.9a1.38 3.05 0 1 0 .01 0zM211.3 438.4a1.38 3.05 0 1 0 .01 0zM211.8 412.8a1.38 3.05 0 1 0 .01 0zM211.8 447a1.38 3.05 0 1 0 .01 0zM212.3 417.8a1.38 3.05 0 1 0 .01 0zM212.3 437.3a1.38 3.05 0 1 0 .01 0zM212.8 438.7a1.38 3.05 0 1 0 .01 0zM212.8 441.9a1.38 3.05 0 1 0 .01 0zM232.8 428.3a1.38 3.05 0 1 0 .01 0zM235 414.5a1.38 3.05 0 1 0 .01 0zM238.8 417a1.38 3.05 0 1 0 .01 0zM217.3 421.5a1.38 3.05 0 1 0 .01 0zM226 427.7a1.38 3.05 0 1 0 .01 0zM236.5 433.1a1.38 3.05 0 1 0 .01 0zM221.7 409.7a1.38 3.05 0 1 0 .01 0zM226.7 420.5a1.38 3.05 0 1 0 .01 0zM218.1 414.5a1.38 3.05 0 1 0 .01 0zM215.1 422a1.38 3.05 0 1 0 .01 0zM237 417.5a1.38 3.05 0 1 0 .01 0zM232.5 412.6a1.38 3.05 0 1 0 .01 0zM233.6 418.9a1.38 3.05 0 1 0 .01 0zM236.8 418a1.38 3.05 0 1 0 .01 0zM228 414.9a1.38 3.05 0 1 0 .01 0zM235.2 437a1.38 3.05 0 1 0 .01 0zM233.6 432a1.38 3.05 0 1 0 .01 0zM225.3 420a1.38 3.05 0 1 0 .01 0zM225.6 423.7a1.38 3.05 0 1 0 .01 0zM218.5 441.4a1.38 3.05 0 1 0 .01 0zM225 413.9a1.38 3.05 0 1 0 .01 0zM235.5 423.8a1.38 3.05 0 1 0 .01 0zM214.2 466.5a1.38 3.05 0 1 0 .01 0zM238 414.9a1.38 3.05 0 1 0 .01 0zM218.5 420a1.38 3.05 0 1 0 .01 0zM226.7 417.5a1.38 3.05 0 1 0 .01 0zM220.9 414.8a1.38 3.05 0 1 0 .01 0zM214.2 418.1a1.38 3.05 0 1 0 .01 0zM229.5 424.4a1.38 3.05 0 1 0 .01 0zM218.1 412.6a1.38 3.05 0 1 0 .01 0zM223.9 407.5a1.38 3.05 0 1 0 .01 0zM235.2 461.6a1.38 3.05 0 1 0 .01 0zM225 422.6a1.38 3.05 0 1 0 .01 0zM222.5 418.6a1.38 3.05 0 1 0 .01 0zM216.9 425.2a1.38 3.05 0 1 0 .01 0zM213.7 414.2a1.38 3.05 0 1 0 .01 0zM234.4 412.7a1.38 3.05 0 1 0 .01 0zM226 419.6a1.38 3.05 0 1 0 .01 0zM221.3 418.2a1.38 3.05 0 1 0 .01 0zM233.1 413.5a1.38 3.05 0 1 0 .01 0zM227 403.3a1.38 3.05 0 1 0 .01 0zM219.4 440.5a1.38 3.05 0 1 0 .01 0zM238.5 405.8a1.38 3.05 0 1 0 .01 0zM223.9 431.2a1.38 3.05 0 1 0 .01 0zM222.1 431.7a1.38 3.05 0 1 0 .01 0zM239 422a1.38 3.05 0 1 0 .01 0zM251.7 411.5a1.38 3.05 0 1 0 .01 0zM241.1 414.6a1.38 3.05 0 1 0 .01 0zM251 409.9a1.38 3.05 0 1 0 .01 0zM239.5 430.3a1.38 3.05 0 1 0 .01 0zM259.1 407.4a1.38 3.05 0 1 0 .01 0zM253 416.2a1.38 3.05 0 1 0 .01 0zM244.1 409.3a1.38 3.05 0 1 0 .01 0zM245 430.4a1.38 3.05 0 1 0 .01 0zM254.8 400.4a1.38 3.05 0 1 0 .01 0zM247.2 409.6a1.38 3.05 0 1 0 .01 0zM259.4 405.9a1.38 3.05 0 1 0 .01 0zM254.8 423.6a1.38 3.05 0 1 0 .01 0zM259.7 409.8a1.38 3.05 0 1 0 .01 0zM242.7 413.3a1.38 3.05 0 1 0 .01 0zM244.8 419.1a1.38 3.05 0 1 0 .01 0zM264.3 397.7a1.38 3.05 0 1 0 .01 0zM258.4 408.4a1.38 3.05 0 1 0 .01 0zM250.7 405.7a1.38 3.05 0 1 0 .01 0zM296.2 398.4a1.38 3.05 0 1 0 .01 0zM282.8 406.4a1.38 3.05 0 1 0 .01 0zM281.2 437.6a1.38 3.05 0 1 0 .01 0zM296.2 387.2a1.38 3.05 0 1 0 .01 0zM294.5 398.3a1.38 3.05 0 1 0 .01 0zM267.4 405.7a1.38 3.05 0 1 0 .01 0zM297.4 397.9a1.38 3.05 0 1 0 .01 0zM299.4 401.5a1.38 3.05 0 1 0 .01 0zM276.8 400.1a1.38 3.05 0 1 0 .01 0zM291.9 393.5a1.38 3.05 0 1 0 .01 0zM332 380.8a1.38 3.05 0 1 0 .01 0zM319.4 386a1.38 3.05 0 1 0 .01 0zM320.2 397.3a1.38 3.05 0 1 0 .01 0z" fill="#ff0000"/>
<path d="M156.3 531 L156.3 531 L156.3 530.2 L156.3 529.5 L156.3 528.7 L156.3 527.9 L156.3 527.1 L156.3 526.4 L156.3 525.6 L156.3 524.8 L156.3 524 L156.3 523.3 L156.4 522.5 L156.4 521.7 L156.4 521 L156.4 520.2 L156.4 519.4 L156.4 518.6 L156.4 517.9 L156.5 517.1 L156.5 516.3 L156.5 515.6 L156.5 514.8 L156.5 514 L156.5 513.2 L156.6 512.5 L156.6 511.7 L156.6 510.9 L156.7 510.1 L156.7 509.4 L156.7 508.6 L156.7 507.8 L156.8 507.1 L156.8 506.3 L156.9 505.5 L156.9 504.7 L156.9 504 L157 503.2 L157 502.4 L157.1 501.6 L157.1 500.9 L157.2 500.1 L157.3 499.3 L157.3 498.6 L157.4 497.8 L157.5 497 L157.6 496.2 L157.6 495.5 L157.7 494.7 L157.8 493.9 L157.9 493.2 L158 492.4 L158.1 491.6 L158.3 490.8 L158.4 490.1 L158.5 489.3 L158.7 488.5 L158.8 487.7 L159 487 L159.1 486.2 L159.3 485.4 L159.5 484.7 L159.7 483.9 L159.9 483.1 L160.1 482.3 L160.3 481.6 L160.6 480.8 L160.8 480 L161.1 479.3 L161.4 478.5 L161.7 477.7 L162 476.9 L162.3 476.2 L162.6 475.4 L163 474.6 L163.4 473.8 L163.7 473.1 L164.2 472.3 L164.6 471.5 L165 470.8 L165.5 470 L166 469.2 L166.5 468.4 L167 467.7 L167.6 466.9 L168.2 466.1 L168.8 465.3 L169.4 464.6 L170 463.8 L170.7 463 L171.4 462.3 L172.1 461.5 L172.9 460.7 L173.6 459.9 L174.4 459.2 L175.3 458.4 L176.1 457.6 L177 456.9 L177.9 456.1 L178.8 455.3 L179.8 454.5 L180.8 453.8 L181.8 453 L182.8 452.2 L183.9 451.4 L185 450.7 L186.1 449.9 L187.2 449.1 L188.4 448.4 L189.6 447.6 L190.8 446.8 L192.1 446 L193.3 445.3 L194.6 444.5 L196 443.7 L197.3 442.9 L198.7 442.2 L200.1 441.4 L201.5 440.6 L202.9 439.9 L204.4 439.1 L205.9 438.3 L207.4 437.5 L208.9 436.8 L210.4 436 L212 435.2 L213.6 434.5 L215.2 433.7 L216.8 432.9 L218.5 432.1 L220.1 431.4 L221.8 430.6 L223.5 429.8 L225.2 429 L227 428.3 L228.7 427.5 L230.5 426.7 L232.2 426 L234 425.2 L235.8 424.4 L237.6 423.6 L239.5 422.9 L241.3 422.1 L243.2 421.3 L245.1 420.5 L246.9 419.8 L248.8 419 L250.8 418.2 L252.7 417.5 L254.6 416.7 L256.5 415.9 L258.5 415.1 L260.5 414.4 L262.4 413.6 L264.4 412.8 L266.4 412.1 L268.4 411.3 L270.4 410.5 L272.4 409.7 L274.5 409 L276.5 408.2 L278.5 407.4 L280.6 406.6 L282.6 405.9 L284.7 405.1 L286.8 404.3 L288.8 403.6 L290.9 402.8 L293 402 L295.1 401.2 L297.2 400.5 L299.3 399.7 L301.4 398.9 L303.6 398.2 L305.7 397.4 L307.8 396.6 L309.9 395.8 L312.1 395.1 L314.2 394.3 L316.4 393.5 L318.5 392.7 L320.7 392 L322.9 391.2 L325 390.4 L327.2 389.7 L329.4 388.9 L331.5 388.1 L333.7 387.3 L335.9 386.6 L338.1 385.8 L340.3 385 L342.5 384.2 L344.7 383.5 L346.9 382.7 L349.1 381.9 L351.3 381.2 L353.5 380.4 L355.7 379.6 L357.9 378.8 L360.1 378.1 L362.4 377.3 L364.6 376.5 L366.8 375.8 L369 375 L371.3 374.2 L373.5 373.4 L375.7 372.7 L378 371.9 L380.2 371.1 L382.4 370.3 L384.7 369.6 L386.9 368.8 L389.2 368 L391.4 367.3 L393.7 366.5 L395.9 365.7 L398.1 364.9 L400.4 364.2 L402.7 363.4 L404.9 362.6 L407.2 361.8 L409.4 361.1 L411.7 360.3 L413.9 359.5 L416.2 358.8 L418.5 358 L420.7 357.2 L423 356.4 L425.2 355.7 L427.5 354.9 L429.8 354.1 L432 353.4 L434.3 352.6 L436.6 351.8 L438.9 351 L441.1 350.3 L443.4 349.5 L445.7 348.7 L447.9 347.9 L450.2 347.2 L452.5 346.4 L454.8 345.6 L457 344.9 L459.3 344.1 L461.6 343.3 L463.9 342.5 L466.2 341.8 L468.4 341 L470.7 340.2 L473 339.5 L475.3 338.7 L477.6 337.9 L479.8 337.1 L482.1 336.4 L484.4 335.6 L486.7 334.8 L489 334 L491.3 333.3 L493.5 332.5 L495.8 331.7 L498.1 331 L500 330.3" stroke="#2020ff" stroke-width="1.3" fill="none"/>
<path d="M47.4 461.3 L50.6 460.6 L53.9 460 L57.1 459.3 L60.3 458.7 L63.6 458 L66.8 457.3 L70 456.7 L73.3 456 L76.5 455.3 L79.7 454.6 L83 453.9 L86.2 453.2 L89.4 452.5 L92.7 451.8 L95.9 451.1 L99.1 450.4 L102.4 449.7 L105.6 449 L108.8 448.2 L112.1 447.5 L115.3 446.8 L118.5 446 L121.8 445.3 L125 444.5 L128.2 443.7 L131.5 443 L134.7 442.2 L137.9 441.4 L141.2 440.6 L144.4 439.8 L147.6 439 L150.9 438.2 L154.1 437.4 L157.3 436.6 L160.6 435.8 L163.8 435 L167 434.1 L170.2 433.3 L173.5 432.5 L176.7 431.6 L179.9 430.8 L183.2 429.9 L186.4 429 L189.6 428.2 L192.9 427.3 L196.1 426.4 L199.3 425.5 L202.6 424.6 L205.8 423.7 L209 422.8 L212.3 421.9 L215.5 421 L218.7 420.1 L222 419.2 L225.2 418.2 L228.4 417.3 L231.7 416.4 L234.9 415.4 L238.1 414.5 L241.4 413.5 L244.6 412.6 L247.8 411.6 L251.1 410.6 L254.3 409.7 L257.5 408.7 L260.8 407.7 L264 406.7 L267.2 405.8 L270.5 404.8 L273.7 403.8 L276.9 402.8 L280.2 401.8 L283.4 400.8 L286.6 399.8 L289.9 398.8 L293.1 397.8 L296.3 396.8 L299.6 395.8 L302.8 394.7 L306 393.7 L309.3 392.7 L312.5 391.7 L315.7 390.7 L319 389.6 L322.2 388.6 L325.4 387.6 L328.7 386.5 L331.9 385.5 L335.1 384.4 L338.4 383.4 L341.6 382.4 L344.8 381.3 L348.1 380.3 L351.3 379.2 L354.5 378.2 L357.8 377.1 L361 376.1 L364.2 375 L367.5 374 L370.7 372.9 L373.9 371.9 L377.2 370.8 L380.4 369.7 L383.6 368.7 L386.9 367.6 L390.1 366.6 L393.3 365.5 L396.5 364.4 L399.8 363.4 L403 362.3 L406.2 361.2 L409.5 360.2 L412.7 359.1 L415.9 358 L419.2 357 L422.4 355.9 L425.6 354.8 L428.9 353.7 L432.1 352.7 L435.3 351.6 L438.6 350.5 L441.8 349.4 L445 348.4 L448.3 347.3 L451.5 346.2 L454.7 345.1 L458 344.1 L461.2 343 L464.4 341.9 L467.7 340.8 L470.9 339.8 L474.1 338.7 L477.4 337.6 L480.6 336.5 L483.8 335.4 L487.1 334.4 L490.3 333.3 L493.5 332.2 L496.8 331.1 L500 330" stroke="#ff0000" stroke-width="1.25" fill="none"/>
<path d="M47.4 482.3 L500 330.2" stroke="#000" stroke-width="1.5" fill="none"/>
<g fill="#000">
<rect x="42.6" y="330.5" width="2.5" height="200.5"/>
<rect x="47.4" y="537" width="452.6" height="3.8"/>
<rect x="41.8" y="525.5" width="2" height="1.2"/>
<rect x="41.8" y="520.3" width="2" height="1.2"/>
<rect x="41.8" y="516.6" width="2" height="1.2"/>
<rect x="41.8" y="513.8" width="2" height="1.2"/>
<rect x="41.8" y="511.5" width="2" height="1.2"/>
<rect x="41.8" y="509.5" width="2" height="1.2"/>
<rect x="41.8" y="507.8" width="2" height="1.2"/>
<rect x="41.8" y="506.3" width="2" height="1.2"/>
<rect x="41" y="504" width="2.6" height="3.2"/>
<rect x="41.8" y="496.2" width="2" height="1.2"/>
<rect x="41.8" y="491" width="2" height="1.2"/>
<rect x="41.8" y="487.4" width="2" height="1.2"/>
<rect x="41.8" y="484.5" width="2" height="1.2"/>
<rect x="41.8" y="482.2" width="2" height="1.2"/>
<rect x="41.8" y="480.3" width="2" height="1.2"/>
<rect x="41.8" y="478.6" width="2" height="1.2"/>
<rect x="41.8" y="477.1" width="2" height="1.2"/>
<rect x="41" y="474.7" width="2.6" height="3.2"/>
<rect x="41.8" y="466.9" width="2" height="1.2"/>
<rect x="41.8" y="461.8" width="2" height="1.2"/>
<rect x="41.8" y="458.1" width="2" height="1.2"/>
<rect x="41.8" y="455.3" width="2" height="1.2"/>
<rect x="41.8" y="453" width="2" height="1.2"/>
<rect x="41.8" y="451" width="2" height="1.2"/>
<rect x="41.8" y="449.3" width="2" height="1.2"/>
<rect x="41.8" y="447.8" width="2" height="1.2"/>
<rect x="41" y="445.5" width="2.6" height="3.2"/>
<rect x="41.8" y="437.6" width="2" height="1.2"/>
<rect x="41.8" y="432.5" width="2" height="1.2"/>
<rect x="41.8" y="428.8" width="2" height="1.2"/>
<rect x="41.8" y="426" width="2" height="1.2"/>
<rect x="41.8" y="423.7" width="2" height="1.2"/>
<rect x="41.8" y="421.7" width="2" height="1.2"/>
<rect x="41.8" y="420" width="2" height="1.2"/>
<rect x="41.8" y="418.5" width="2" height="1.2"/>
<rect x="41" y="416.2" width="2.6" height="3.2"/>
<rect x="41.8" y="408.4" width="2" height="1.2"/>
<rect x="41.8" y="403.2" width="2" height="1.2"/>
<rect x="41.8" y="399.6" width="2" height="1.2"/>
<rect x="41.8" y="396.7" width="2" height="1.2"/>
<rect x="41.8" y="394.4" width="2" height="1.2"/>
<rect x="41.8" y="392.5" width="2" height="1.2"/>
<rect x="41.8" y="390.8" width="2" height="1.2"/>
<rect x="41.8" y="389.3" width="2" height="1.2"/>
<rect x="41" y="386.9" width="2.6" height="3.2"/>
<rect x="41.8" y="379.1" width="2" height="1.2"/>
<rect x="41.8" y="374" width="2" height="1.2"/>
<rect x="41.8" y="370.3" width="2" height="1.2"/>
<rect x="41.8" y="367.5" width="2" height="1.2"/>
<rect x="41.8" y="365.1" width="2" height="1.2"/>
<rect x="41.8" y="363.2" width="2" height="1.2"/>
<rect x="41.8" y="361.5" width="2" height="1.2"/>
<rect x="41.8" y="360" width="2" height="1.2"/>
<rect x="41" y="357.6" width="2.6" height="3.2"/>
<rect x="41.8" y="349.8" width="2" height="1.2"/>
<rect x="41.8" y="344.7" width="2" height="1.2"/>
<rect x="41.8" y="341" width="2" height="1.2"/>
<rect x="41.8" y="338.2" width="2" height="1.2"/>
<rect x="41.8" y="335.9" width="2" height="1.2"/>
<rect x="41.8" y="333.9" width="2" height="1.2"/>
<rect x="41.8" y="332.2" width="2" height="1.2"/>
<rect x="41.8" y="330.7" width="2" height="1.2"/>
<rect x="55.9" y="537" width="1.5" height="6.2"/>
<rect x="64.2" y="537" width="1.7" height="9.6"/>
<rect x="90.6" y="537" width="1.5" height="6.2"/>
<rect x="116.8" y="537" width="1.5" height="6.2"/>
<rect x="132.1" y="537" width="1.5" height="6.2"/>
<rect x="143" y="537" width="1.5" height="6.2"/>
<rect x="151.3" y="537" width="1.7" height="9.6"/>
<rect x="177.7" y="537" width="1.5" height="6.2"/>
<rect x="203.9" y="537" width="1.5" height="6.2"/>
<rect x="219.2" y="537" width="1.5" height="6.2"/>
<rect x="230.1" y="537" width="1.5" height="6.2"/>
<rect x="238.4" y="537" width="1.7" height="9.6"/>
<rect x="264.8" y="537" width="1.5" height="6.2"/>
<rect x="291" y="537" width="1.5" height="6.2"/>
<rect x="306.3" y="537" width="1.5" height="6.2"/>
<rect x="317.2" y="537" width="1.5" height="6.2"/>
<rect x="325.5" y="537" width="1.7" height="9.6"/>
<rect x="351.9" y="537" width="1.5" height="6.2"/>
<rect x="378.1" y="537" width="1.5" height="6.2"/>
<rect x="393.4" y="537" width="1.5" height="6.2"/>
<rect x="404.3" y="537" width="1.5" height="6.2"/>
<rect x="412.6" y="537" width="1.7" height="9.6"/>
<rect x="439" y="537" width="1.5" height="6.2"/>
<rect x="465.2" y="537" width="1.5" height="6.2"/>
<rect x="480.5" y="537" width="1.5" height="6.2"/>
<rect x="491.4" y="537" width="1.5" height="6.2"/>
</g>
<g font-family="'Liberation Serif', serif" font-size="22.3" fill="#000" stroke="#000" stroke-width="0.4">
<text transform="translate(39.8 367.1) scale(0.5 1)" text-anchor="end">0.1</text>
<text transform="translate(39.8 396.3) scale(0.5 1)" text-anchor="end">0.01</text>
<text transform="translate(39.8 425.6) scale(0.5 1)" text-anchor="end">0.001</text>
<text transform="translate(39.8 454.9) scale(0.5 1)" text-anchor="end">0.0001</text>
<text transform="translate(39.8 484.1) scale(0.5 1)" text-anchor="end">1e-05</text>
<text transform="translate(39.8 513.4) scale(0.5 1)" text-anchor="end">1e-06</text>
<text transform="translate(65.3 565.7) scale(0.5 1)" text-anchor="middle">1e-05</text>
<text transform="translate(152.4 565.7) scale(0.5 1)" text-anchor="middle">0.0001</text>
<text transform="translate(239.5 565.7) scale(0.5 1)" text-anchor="middle">0.001</text>
<text transform="translate(326.6 565.7) scale(0.5 1)" text-anchor="middle">0.01</text>
<text transform="translate(413.7 565.7) scale(0.5 1)" text-anchor="middle">0.1</text>
</g>
</g>
<g id="plot-d">
<path d="M638.6 406.8a1.38 3.05 0 1 0 .01 0zM653.8 406.8a1.38 3.05 0 1 0 .01 0zM693.5 401.6a1.38 3.05 0 1 0 .01 0zM697.3 401.9a1.38 3.05 0 1 0 .01 0zM757.6 390.9a1.38 3.05 0 1 0 .01 0zM774 390.9a1.38 3.05 0 1 0 .01 0zM791.6 389.3a1.38 3.05 0 1 0 .01 0zM796.3 389.3a1.38 3.05 0 1 0 .01 0zM798.2 389.3a1.38 3.05 0 1 0 .01 0zM824.5 385.6a1.38 3.05 0 1 0 .01 0zM837.4 393.9a1.38 3.05 0 1 0 .01 0zM837.2 395.9a1.38 3.05 0 1 0 .01 0zM788.8 413.9a1.38 3.05 0 1 0 .01 0zM761.8 438.4a1.38 3.05 0 1 0 .01 0zM754.8 444.6a1.38 3.05 0 1 0 .01 0zM737.6 446.8a1.38 3.05 0 1 0 .01 0zM721.7 485.3a1.38 3.05 0 1 0 .01 0zM716.5 477.8a1.38 3.05 0 1 0 .01 0zM712.5 493.8a1.38 3.05 0 1 0 .01 0zM708.3 471.2a1.38 3.05 0 1 0 .01 0zM713 466.1a1.38 3.05 0 1 0 .01 0zM694.2 494.9a1.38 3.05 0 1 0 .01 0zM710.6 502.4a1.38 3.05 0 1 0 .01 0zM968.9 348.8a1.38 3.05 0 1 0 .01 0zM559.9 503.6a1.38 3.05 0 1 0 .01 0zM559.9 494.6a1.38 3.05 0 1 0 .01 0zM559.9 489.3a1.38 3.05 0 1 0 .01 0zM559.9 485.6a1.38 3.05 0 1 0 .01 0zM559.9 485.6a1.38 3.05 0 1 0 .01 0zM559.9 482.7a1.38 3.05 0 1 0 .01 0zM559.9 480.3a1.38 3.05 0 1 0 .01 0zM559.9 478.3a1.38 3.05 0 1 0 .01 0zM559.9 476.6a1.38 3.05 0 1 0 .01 0zM559.9 475.1a1.38 3.05 0 1 0 .01 0zM559.9 472.5a1.38 3.05 0 1 0 .01 0zM559.9 470.3a1.38 3.05 0 1 0 .01 0zM559.9 468.4a1.38 3.05 0 1 0 .01 0zM559.9 466.1a1.38 3.05 0 1 0 .01 0zM559.9 464.1a1.38 3.05 0 1 0 .01 0zM559.9 462.4a1.38 3.05 0 1 0 .01 0zM559.9 459.9a1.38 3.05 0 1 0 .01 0zM559.9 457.8a1.38 3.05 0 1 0 .01 0zM559.9 455.7a1.38 3.05 0 1 0 .01 0zM559.9 453.9a1.38 3.05 0 1 0 .01 0zM559.9 451.6a1.38 3.05 0 1 0 .01 0zM559.9 449.6a1.38 3.05 0 1 0 .01 0zM559.9 447.6a1.38 3.05 0 1 0 .01 0zM559.9 445.4a1.38 3.05 0 1 0 .01 0zM559.9 443.3a1.38 3.05 0 1 0 .01 0zM559.9 441.3a1.38 3.05 0 1 0 .01 0zM559.9 439.1a1.38 3.05 0 1 0 .01 0zM559.9 437a1.38 3.05 0 1 0 .01 0zM559.9 435a1.38 3.05 0 1 0 .01 0zM559.9 432.9a1.38 3.05 0 1 0 .01 0zM559.9 430.8a1.38 3.05 0 1 0 .01 0zM586.1 503.6a1.38 3.05 0 1 0 .01 0zM586.1 494.6a1.38 3.05 0 1 0 .01 0zM586.1 489.3a1.38 3.05 0 1 0 .01 0zM586.1 485.6a1.38 3.05 0 1 0 .01 0zM586.1 485.6a1.38 3.05 0 1 0 .01 0zM586.1 482.7a1.38 3.05 0 1 0 .01 0zM586.1 480.3a1.38 3.05 0 1 0 .01 0zM586.1 478.3a1.38 3.05 0 1 0 .01 0zM586.1 476.6a1.38 3.05 0 1 0 .01 0zM586.1 475.1a1.38 3.05 0 1 0 .01 0zM586.1 472.5a1.38 3.05 0 1 0 .01 0zM586.1 470.3a1.38 3.05 0 1 0 .01 0zM586.1 468.4a1.38 3.05 0 1 0 .01 0zM586.1 466.1a1.38 3.05 0 1 0 .01 0zM586.1 464.1a1.38 3.05 0 1 0 .01 0zM586.1 462.4a1.38 3.05 0 1 0 .01 0zM586.1 459.9a1.38 3.05 0 1 0 .01 0zM586.1 457.8a1.38 3.05 0 1 0 .01 0zM586.1 455.7a1.38 3.05 0 1 0 .01 0zM586.1 453.9a1.38 3.05 0 1 0 .01 0zM586.1 451.6a1.38 3.05 0 1 0 .01 0zM586.1 449.6a1.38 3.05 0 1 0 .01 0zM586.1 447.6a1.38 3.05 0 1 0 .01 0zM586.1 445.4a1.38 3.05 0 1 0 .01 0zM586.1 443.3a1.38 3.05 0 1 0 .01 0zM586.1 441.3a1.38 3.05 0 1 0 .01 0zM586.1 439.1a1.38 3.05 0 1 0 .01 0zM586.1 437a1.38 3.05 0 1 0 .01 0zM586.1 435a1.38 3.05 0 1 0 .01 0zM586.1 432.9a1.38 3.05 0 1 0 .01 0zM586.1 430.8a1.38 3.05 0 1 0 .01 0zM601.4 503.6a1.38 3.05 0 1 0 .01 0zM601.4 494.6a1.38 3.05 0 1 0 .01 0zM601.4 489.3a1.38 3.05 0 1 0 .01 0zM601.4 485.6a1.38 3.05 0 1 0 .01 0zM601.4 485.6a1.38 3.05 0 1 0 .01 0zM601.4 482.7a1.38 3.05 0 1 0 .01 0zM601.4 480.3a1.38 3.05 0 1 0 .01 0zM601.4 478.3a1.38 3.05 0 1 0 .01 0zM601.4 476.6a1.38 3.05 0 1 0 .01 0zM601.4 475.1a1.38 3.05 0 1 0 .01 0zM601.4 472.5a1.38 3.05 0 1 0 .01 0zM601.4 470.3a1.38 3.05 0 1 0 .01 0zM601.4 468.4a1.38 3.05 0 1 0 .01 0zM601.4 466.1a1.38 3.05 0 1 0 .01 0zM601.4 464.1a1.38 3.05 0 1 0 .01 0zM601.4 462.4a1.38 3.05 0 1 0 .01 0zM601.4 459.9a1.38 3.05 0 1 0 .01 0zM601.4 457.8a1.38 3.05 0 1 0 .01 0zM601.4 455.7a1.38 3.05 0 1 0 .01 0zM601.4 453.9a1.38 3.05 0 1 0 .01 0zM601.4 451.6a1.38 3.05 0 1 0 .01 0zM601.4 449.6a1.38 3.05 0 1 0 .01 0zM601.4 447.6a1.38 3.05 0 1 0 .01 0zM601.4 445.4a1.38 3.05 0 1 0 .01 0zM601.4 443.3a1.38 3.05 0 1 0 .01 0zM601.4 441.3a1.38 3.05 0 1 0 .01 0zM601.4 439.1a1.38 3.05 0 1 0 .01 0zM601.4 437a1.38 3.05 0 1 0 .01 0zM601.4 435a1.38 3.05 0 1 0 .01 0zM601.4 432.9a1.38 3.05 0 1 0 .01 0zM601.4 430.8a1.38 3.05 0 1 0 .01 0zM612.3 503.6a1.38 3.05 0 1 0 .01 0zM612.3 494.6a1.38 3.05 0 1 0 .01 0zM612.3 489.3a1.38 3.05 0 1 0 .01 0zM612.3 485.6a1.38 3.05 0 1 0 .01 0zM612.3 485.6a1.38 3.05 0 1 0 .01 0zM612.3 482.7a1.38 3.05 0 1 0 .01 0zM612.3 480.3a1.38 3.05 0 1 0 .01 0zM612.3 478.3a1.38 3.05 0 1 0 .01 0zM612.3 476.6a1.38 3.05 0 1 0 .01 0zM612.3 475.1a1.38 3.05 0 1 0 .01 0zM612.3 472.5a1.38 3.05 0 1 0 .01 0zM612.3 470.3a1.38 3.05 0 1 0 .01 0zM612.3 468.4a1.38 3.05 0 1 0 .01 0zM612.3 466.1a1.38 3.05 0 1 0 .01 0zM612.3 464.1a1.38 3.05 0 1 0 .01 0zM612.3 462.4a1.38 3.05 0 1 0 .01 0zM612.3 459.9a1.38 3.05 0 1 0 .01 0zM612.3 457.8a1.38 3.05 0 1 0 .01 0zM612.3 455.7a1.38 3.05 0 1 0 .01 0zM612.3 453.9a1.38 3.05 0 1 0 .01 0zM612.3 451.6a1.38 3.05 0 1 0 .01 0zM612.3 449.6a1.38 3.05 0 1 0 .01 0zM612.3 447.6a1.38 3.05 0 1 0 .01 0zM612.3 445.4a1.38 3.05 0 1 0 .01 0zM612.3 443.3a1.38 3.05 0 1 0 .01 0zM612.3 441.3a1.38 3.05 0 1 0 .01 0zM612.3 439.1a1.38 3.05 0 1 0 .01 0zM612.3 437a1.38 3.05 0 1 0 .01 0zM612.3 435a1.38 3.05 0 1 0 .01 0zM612.3 432.9a1.38 3.05 0 1 0 .01 0zM620.8 503.6a1.38 3.05 0 1 0 .01 0zM620.8 494.6a1.38 3.05 0 1 0 .01 0zM620.8 489.3a1.38 3.05 0 1 0 .01 0zM620.8 485.6a1.38 3.05 0 1 0 .01 0zM620.8 485.6a1.38 3.05 0 1 0 .01 0zM620.8 482.7a1.38 3.05 0 1 0 .01 0zM620.8 480.3a1.38 3.05 0 1 0 .01 0zM620.8 478.3a1.38 3.05 0 1 0 .01 0zM620.8 476.6a1.38 3.05 0 1 0 .01 0zM620.8 475.1a1.38 3.05 0 1 0 .01 0zM620.8 472.5a1.38 3.05 0 1 0 .01 0zM620.8 470.3a1.38 3.05 0 1 0 .01 0zM620.8 468.4a1.38 3.05 0 1 0 .01 0zM620.8 466.1a1.38 3.05 0 1 0 .01 0zM620.8 464.1a1.38 3.05 0 1 0 .01 0zM620.8 462.4a1.38 3.05 0 1 0 .01 0zM620.8 459.9a1.38 3.05 0 1 0 .01 0zM620.8 457.8a1.38 3.05 0 1 0 .01 0zM620.8 455.7a1.38 3.05 0 1 0 .01 0zM620.8 453.9a1.38 3.05 0 1 0 .01 0zM620.8 451.6a1.38 3.05 0 1 0 .01 0zM620.8 449.6a1.38 3.05 0 1 0 .01 0zM620.8 447.6a1.38 3.05 0 1 0 .01 0zM620.8 445.4a1.38 3.05 0 1 0 .01 0zM620.8 443.3a1.38 3.05 0 1 0 .01 0zM620.8 441.3a1.38 3.05 0 1 0 .01 0zM620.8 439.1a1.38 3.05 0 1 0 .01 0zM620.8 437a1.38 3.05 0 1 0 .01 0zM620.8 435a1.38 3.05 0 1 0 .01 0zM620.8 432.9a1.38 3.05 0 1 0 .01 0zM620.8 430.8a1.38 3.05 0 1 0 .01 0zM627.7 503.6a1.38 3.05 0 1 0 .01 0zM627.7 494.6a1.38 3.05 0 1 0 .01 0zM627.7 489.3a1.38 3.05 0 1 0 .01 0zM627.7 485.6a1.38 3.05 0 1 0 .01 0zM627.7 485.6a1.38 3.05 0 1 0 .01 0zM627.7 482.7a1.38 3.05 0 1 0 .01 0zM627.7 480.3a1.38 3.05 0 1 0 .01 0zM627.7 478.3a1.38 3.05 0 1 0 .01 0zM627.7 476.6a1.38 3.05 0 1 0 .01 0zM627.7 475.1a1.38 3.05 0 1 0 .01 0zM627.7 472.5a1.38 3.05 0 1 0 .01 0zM627.7 470.3a1.38 3.05 0 1 0 .01 0zM627.7 468.4a1.38 3.05 0 1 0 .01 0zM627.7 466.1a1.38 3.05 0 1 0 .01 0zM627.7 464.1a1.38 3.05 0 1 0 .01 0zM627.7 462.4a1.38 3.05 0 1 0 .01 0zM627.7 459.9a1.38 3.05 0 1 0 .01 0zM627.7 457.8a1.38 3.05 0 1 0 .01 0zM627.7 455.7a1.38 3.05 0 1 0 .01 0zM627.7 453.9a1.38 3.05 0 1 0 .01 0zM627.7 451.6a1.38 3.05 0 1 0 .01 0zM627.7 449.6a1.38 3.05 0 1 0 .01 0zM627.7 447.6a1.38 3.05 0 1 0 .01 0zM627.7 445.4a1.38 3.05 0 1 0 .01 0zM627.7 443.3a1.38 3.05 0 1 0 .01 0zM627.7 441.3a1.38 3.05 0 1 0 .01 0zM627.7 439.1a1.38 3.05 0 1 0 .01 0zM627.7 437a1.38 3.05 0 1 0 .01 0zM627.7 435a1.38 3.05 0 1 0 .01 0zM627.7 432.9a1.38 3.05 0 1 0 .01 0zM627.7 430.8a1.38 3.05 0 1 0 .01 0zM633.5 503.6a1.38 3.05 0 1 0 .01 0zM633.5 494.6a1.38 3.05 0 1 0 .01 0zM633.5 489.3a1.38 3.05 0 1 0 .01 0zM633.5 485.6a1.38 3.05 0 1 0 .01 0zM633.5 485.6a1.38 3.05 0 1 0 .01 0zM633.5 482.7a1.38 3.05 0 1 0 .01 0zM633.5 480.3a1.38 3.05 0 1 0 .01 0zM633.5 478.3a1.38 3.05 0 1 0 .01 0zM633.5 476.6a1.38 3.05 0 1 0 .01 0zM633.5 475.1a1.38 3.05 0 1 0 .01 0zM633.5 472.5a1.38 3.05 0 1 0 .01 0zM633.5 470.3a1.38 3.05 0 1 0 .01 0zM633.5 468.4a1.38 3.05 0 1 0 .01 0zM633.5 466.1a1.38 3.05 0 1 0 .01 0zM633.5 464.1a1.38 3.05 0 1 0 .01 0zM633.5 462.4a1.38 3.05 0 1 0 .01 0zM633.5 459.9a1.38 3.05 0 1 0 .01 0zM633.5 457.8a1.38 3.05 0 1 0 .01 0zM633.5 455.7a1.38 3.05 0 1 0 .01 0zM633.5 453.9a1.38 3.05 0 1 0 .01 0zM633.5 451.6a1.38 3.05 0 1 0 .01 0zM633.5 449.6a1.38 3.05 0 1 0 .01 0zM633.5 447.6a1.38 3.05 0 1 0 .01 0zM633.5 445.4a1.38 3.05 0 1 0 .01 0zM633.5 443.3a1.38 3.05 0 1 0 .01 0zM633.5 441.3a1.38 3.05 0 1 0 .01 0zM633.5 439.1a1.38 3.05 0 1 0 .01 0zM633.5 437a1.38 3.05 0 1 0 .01 0zM633.5 435a1.38 3.05 0 1 0 .01 0zM633.5 432.9a1.38 3.05 0 1 0 .01 0zM633.5 430.8a1.38 3.05 0 1 0 .01 0zM633.5 428.7a1.38 3.05 0 1 0 .01 0zM633.5 424.6a1.38 3.05 0 1 0 .01 0zM638.5 503.6a1.38 3.05 0 1 0 .01 0zM638.5 494.6a1.38 3.05 0 1 0 .01 0zM638.5 489.3a1.38 3.05 0 1 0 .01 0zM638.5 485.6a1.38 3.05 0 1 0 .01 0zM638.5 485.6a1.38 3.05 0 1 0 .01 0zM638.5 482.7a1.38 3.05 0 1 0 .01 0zM638.5 480.3a1.38 3.05 0 1 0 .01 0zM638.5 478.3a1.38 3.05 0 1 0 .01 0zM638.5 476.6a1.38 3.05 0 1 0 .01 0zM638.5 475.1a1.38 3.05 0 1 0 .01 0zM638.5 472.5a1.38 3.05 0 1 0 .01 0zM638.5 470.3a1.38 3.05 0 1 0 .01 0zM638.5 468.4a1.38 3.05 0 1 0 .01 0zM638.5 466.1a1.38 3.05 0 1 0 .01 0zM638.5 464.1a1.38 3.05 0 1 0 .01 0zM638.5 462.4a1.38 3.05 0 1 0 .01 0zM638.5 459.9a1.38 3.05 0 1 0 .01 0zM638.5 457.8a1.38 3.05 0 1 0 .01 0zM638.5 455.7a1.38 3.05 0 1 0 .01 0zM638.5 453.9a1.38 3.05 0 1 0 .01 0zM638.5 451.6a1.38 3.05 0 1 0 .01 0zM638.5 449.6a1.38 3.05 0 1 0 .01 0zM638.5 447.6a1.38 3.05 0 1 0 .01 0zM638.5 445.4a1.38 3.05 0 1 0 .01 0zM638.5 443.3a1.38 3.05 0 1 0 .01 0zM638.5 441.3a1.38 3.05 0 1 0 .01 0zM638.5 439.1a1.38 3.05 0 1 0 .01 0zM638.5 437a1.38 3.05 0 1 0 .01 0zM638.5 435a1.38 3.05 0 1 0 .01 0zM638.5 432.9a1.38 3.05 0 1 0 .01 0zM638.5 430.8a1.38 3.05 0 1 0 .01 0zM638.5 428.7a1.38 3.05 0 1 0 .01 0zM638.5 426.6a1.38 3.05 0 1 0 .01 0zM638.5 422.5a1.38 3.05 0 1 0 .01 0zM638.5 408.7a1.38 3.05 0 1 0 .01 0zM643 503.6a1.38 3.05 0 1 0 .01 0zM643 494.6a1.38 3.05 0 1 0 .01 0zM643 485.6a1.38 3.05 0 1 0 .01 0zM643 482.7a1.38 3.05 0 1 0 .01 0zM643 480.3a1.38 3.05 0 1 0 .01 0zM643 480.3a1.38 3.05 0 1 0 .01 0zM643 476.6a1.38 3.05 0 1 0 .01 0zM643 475.1a1.38 3.05 0 1 0 .01 0zM643 472.5a1.38 3.05 0 1 0 .01 0zM643 471.3a1.38 3.05 0 1 0 .01 0zM643 468.4a1.38 3.05 0 1 0 .01 0zM643 466.8a1.38 3.05 0 1 0 .01 0zM643 464.7a1.38 3.05 0 1 0 .01 0zM643 462.4a1.38 3.05 0 1 0 .01 0zM643 460.4a1.38 3.05 0 1 0 .01 0zM643 458.2a1.38 3.05 0 1 0 .01 0zM643 456.4a1.38 3.05 0 1 0 .01 0zM643 454.2a1.38 3.05 0 1 0 .01 0zM643 452.1a1.38 3.05 0 1 0 .01 0zM643 450a1.38 3.05 0 1 0 .01 0zM643 447.9a1.38 3.05 0 1 0 .01 0zM643 445.8a1.38 3.05 0 1 0 .01 0zM643 443.9a1.38 3.05 0 1 0 .01 0zM643 441.7a1.38 3.05 0 1 0 .01 0zM643 439.6a1.38 3.05 0 1 0 .01 0zM643 437.5a1.38 3.05 0 1 0 .01 0zM643 435.5a1.38 3.05 0 1 0 .01 0zM643 433.3a1.38 3.05 0 1 0 .01 0zM643 431.3a1.38 3.05 0 1 0 .01 0zM643 429.2a1.38 3.05 0 1 0 .01 0zM647 503.6a1.38 3.05 0 1 0 .01 0zM647 494.6a1.38 3.05 0 1 0 .01 0zM647 489.3a1.38 3.05 0 1 0 .01 0zM647 485.6a1.38 3.05 0 1 0 .01 0zM647 485.6a1.38 3.05 0 1 0 .01 0zM647 482.7a1.38 3.05 0 1 0 .01 0zM647 480.3a1.38 3.05 0 1 0 .01 0zM647 478.3a1.38 3.05 0 1 0 .01 0zM647 476.6a1.38 3.05 0 1 0 .01 0zM647 475.1a1.38 3.05 0 1 0 .01 0zM647 472.5a1.38 3.05 0 1 0 .01 0zM647 470.3a1.38 3.05 0 1 0 .01 0zM647 468.4a1.38 3.05 0 1 0 .01 0zM647 466.1a1.38 3.05 0 1 0 .01 0zM647 464.1a1.38 3.05 0 1 0 .01 0zM647 462.4a1.38 3.05 0 1 0 .01 0zM647 459.9a1.38 3.05 0 1 0 .01 0zM647 457.8a1.38 3.05 0 1 0 .01 0zM647 455.7a1.38 3.05 0 1 0 .01 0zM647 453.9a1.38 3.05 0 1 0 .01 0zM647 451.6a1.38 3.05 0 1 0 .01 0zM647 449.6a1.38 3.05 0 1 0 .01 0zM647 447.6a1.38 3.05 0 1 0 .01 0zM647 445.4a1.38 3.05 0 1 0 .01 0zM647 443.3a1.38 3.05 0 1 0 .01 0zM647 441.3a1.38 3.05 0 1 0 .01 0zM647 439.1a1.38 3.05 0 1 0 .01 0zM647 437a1.38 3.05 0 1 0 .01 0zM647 435a1.38 3.05 0 1 0 .01 0zM647 432.9a1.38 3.05 0 1 0 .01 0zM647 430.8a1.38 3.05 0 1 0 .01 0zM650.6 503.6a1.38 3.05 0 1 0 .01 0zM650.6 482.7a1.38 3.05 0 1 0 .01 0zM650.6 480.3a1.38 3.05 0 1 0 .01 0zM650.6 478.3a1.38 3.05 0 1 0 .01 0zM650.6 476.6a1.38 3.05 0 1 0 .01 0zM650.6 473.7a1.38 3.05 0 1 0 .01 0zM650.6 472.5a1.38 3.05 0 1 0 .01 0zM650.6 470.3a1.38 3.05 0 1 0 .01 0zM650.6 468.4a1.38 3.05 0 1 0 .01 0zM650.6 466.1a1.38 3.05 0 1 0 .01 0zM650.6 464.1a1.38 3.05 0 1 0 .01 0zM650.6 461.8a1.38 3.05 0 1 0 .01 0zM650.6 459.9a1.38 3.05 0 1 0 .01 0zM650.6 457.5a1.38 3.05 0 1 0 .01 0zM650.6 455.4a1.38 3.05 0 1 0 .01 0zM650.6 453.4a1.38 3.05 0 1 0 .01 0zM650.6 451.4a1.38 3.05 0 1 0 .01 0zM650.6 449.2a1.38 3.05 0 1 0 .01 0zM650.6 447.2a1.38 3.05 0 1 0 .01 0zM650.6 445.1a1.38 3.05 0 1 0 .01 0zM650.6 443a1.38 3.05 0 1 0 .01 0zM650.6 440.9a1.38 3.05 0 1 0 .01 0zM650.6 438.8a1.38 3.05 0 1 0 .01 0zM650.6 436.7a1.38 3.05 0 1 0 .01 0zM650.6 434.6a1.38 3.05 0 1 0 .01 0zM650.6 432.6a1.38 3.05 0 1 0 .01 0zM650.6 425.2a1.38 3.05 0 1 0 .01 0zM650.6 408.7a1.38 3.05 0 1 0 .01 0zM653.9 503.6a1.38 3.05 0 1 0 .01 0zM653.9 494.6a1.38 3.05 0 1 0 .01 0zM653.9 485.6a1.38 3.05 0 1 0 .01 0zM653.9 482.7a1.38 3.05 0 1 0 .01 0zM653.9 480.3a1.38 3.05 0 1 0 .01 0zM653.9 476.6a1.38 3.05 0 1 0 .01 0zM653.9 475.1a1.38 3.05 0 1 0 .01 0zM653.9 472.5a1.38 3.05 0 1 0 .01 0zM653.9 471.3a1.38 3.05 0 1 0 .01 0zM653.9 468.4a1.38 3.05 0 1 0 .01 0zM653.9 466.8a1.38 3.05 0 1 0 .01 0zM653.9 464.7a1.38 3.05 0 1 0 .01 0zM653.9 462.4a1.38 3.05 0 1 0 .01 0zM653.9 460.4a1.38 3.05 0 1 0 .01 0zM653.9 456.4a1.38 3.05 0 1 0 .01 0zM653.9 454.2a1.38 3.05 0 1 0 .01 0zM653.9 452.1a1.38 3.05 0 1 0 .01 0zM653.9 450a1.38 3.05 0 1 0 .01 0zM653.9 447.9a1.38 3.05 0 1 0 .01 0zM653.9 445.8a1.38 3.05 0 1 0 .01 0zM653.9 443.9a1.38 3.05 0 1 0 .01 0zM653.9 441.7a1.38 3.05 0 1 0 .01 0zM653.9 439.6a1.38 3.05 0 1 0 .01 0zM653.9 437.5a1.38 3.05 0 1 0 .01 0zM653.9 435.5a1.38 3.05 0 1 0 .01 0zM653.9 433.3a1.38 3.05 0 1 0 .01 0zM653.9 431.3a1.38 3.05 0 1 0 .01 0zM656.9 494.6a1.38 3.05 0 1 0 .01 0zM656.9 480.3a1.38 3.05 0 1 0 .01 0zM656.9 478.3a1.38 3.05 0 1 0 .01 0zM656.9 476.6a1.38 3.05 0 1 0 .01 0zM656.9 473.7a1.38 3.05 0 1 0 .01 0zM656.9 472.5a1.38 3.05 0 1 0 .01 0zM656.9 470.3a1.38 3.05 0 1 0 .01 0zM656.9 468.4a1.38 3.05 0 1 0 .01 0zM656.9 466.1a1.38 3.05 0 1 0 .01 0zM656.9 464.1a1.38 3.05 0 1 0 .01 0zM656.9 461.8a1.38 3.05 0 1 0 .01 0zM656.9 459.9a1.38 3.05 0 1 0 .01 0zM656.9 457.5a1.38 3.05 0 1 0 .01 0zM656.9 455.4a1.38 3.05 0 1 0 .01 0zM656.9 453.4a1.38 3.05 0 1 0 .01 0zM656.9 451.4a1.38 3.05 0 1 0 .01 0zM656.9 449.2a1.38 3.05 0 1 0 .01 0zM656.9 445.1a1.38 3.05 0 1 0 .01 0zM656.9 443a1.38 3.05 0 1 0 .01 0zM656.9 440.9a1.38 3.05 0 1 0 .01 0zM656.9 438.8a1.38 3.05 0 1 0 .01 0zM656.9 436.7a1.38 3.05 0 1 0 .01 0zM656.9 434.6a1.38 3.05 0 1 0 .01 0zM656.9 432.6a1.38 3.05 0 1 0 .01 0zM656.9 430.5a1.38 3.05 0 1 0 .01 0zM659.7 494.6a1.38 3.05 0 1 0 .01 0zM659.7 476.6a1.38 3.05 0 1 0 .01 0zM659.7 473.7a1.38 3.05 0 1 0 .01 0zM659.7 472.5a1.38 3.05 0 1 0 .01 0zM659.7 470.3a1.38 3.05 0 1 0 .01 0zM659.7 467.6a1.38 3.05 0 1 0 .01 0zM659.7 465.4a1.38 3.05 0 1 0 .01 0zM659.7 463.5a1.38 3.05 0 1 0 .01 0zM659.7 461.3a1.38 3.05 0 1 0 .01 0zM659.7 459.5a1.38 3.05 0 1 0 .01 0zM659.7 455.1a1.38 3.05 0 1 0 .01 0zM659.7 453.1a1.38 3.05 0 1 0 .01 0zM659.7 451.1a1.38 3.05 0 1 0 .01 0zM659.7 449a1.38 3.05 0 1 0 .01 0zM659.7 446.9a1.38 3.05 0 1 0 .01 0zM659.7 444.8a1.38 3.05 0 1 0 .01 0zM659.7 442.7a1.38 3.05 0 1 0 .01 0zM659.7 440.6a1.38 3.05 0 1 0 .01 0zM659.7 438.5a1.38 3.05 0 1 0 .01 0zM659.7 436.4a1.38 3.05 0 1 0 .01 0zM659.7 434.4a1.38 3.05 0 1 0 .01 0zM659.7 432.3a1.38 3.05 0 1 0 .01 0zM659.7 430.2a1.38 3.05 0 1 0 .01 0zM662.3 494.6a1.38 3.05 0 1 0 .01 0zM662.3 482.7a1.38 3.05 0 1 0 .01 0zM662.3 480.3a1.38 3.05 0 1 0 .01 0zM662.3 478.3a1.38 3.05 0 1 0 .01 0zM662.3 476.6a1.38 3.05 0 1 0 .01 0zM662.3 473.7a1.38 3.05 0 1 0 .01 0zM662.3 472.5a1.38 3.05 0 1 0 .01 0zM662.3 470.3a1.38 3.05 0 1 0 .01 0zM662.3 468.4a1.38 3.05 0 1 0 .01 0zM662.3 466.1a1.38 3.05 0 1 0 .01 0zM662.3 464.1a1.38 3.05 0 1 0 .01 0zM662.3 459.9a1.38 3.05 0 1 0 .01 0zM662.3 457.5a1.38 3.05 0 1 0 .01 0zM662.3 455.4a1.38 3.05 0 1 0 .01 0zM662.3 453.4a1.38 3.05 0 1 0 .01 0zM662.3 451.4a1.38 3.05 0 1 0 .01 0zM662.3 449.2a1.38 3.05 0 1 0 .01 0zM662.3 447.2a1.38 3.05 0 1 0 .01 0zM662.3 445.1a1.38 3.05 0 1 0 .01 0zM662.3 443a1.38 3.05 0 1 0 .01 0zM662.3 440.9a1.38 3.05 0 1 0 .01 0zM662.3 438.8a1.38 3.05 0 1 0 .01 0zM662.3 436.7a1.38 3.05 0 1 0 .01 0zM662.3 432.6a1.38 3.05 0 1 0 .01 0zM662.3 430.5a1.38 3.05 0 1 0 .01 0zM664.7 503.6a1.38 3.05 0 1 0 .01 0zM664.7 478.3a1.38 3.05 0 1 0 .01 0zM664.7 476.6a1.38 3.05 0 1 0 .01 0zM664.7 467.6a1.38 3.05 0 1 0 .01 0zM664.7 466.1a1.38 3.05 0 1 0 .01 0zM664.7 463.5a1.38 3.05 0 1 0 .01 0zM664.7 459.5a1.38 3.05 0 1 0 .01 0zM664.7 457.5a1.38 3.05 0 1 0 .01 0zM664.7 455.4a1.38 3.05 0 1 0 .01 0zM664.7 453.4a1.38 3.05 0 1 0 .01 0zM664.7 451.1a1.38 3.05 0 1 0 .01 0zM664.7 449a1.38 3.05 0 1 0 .01 0zM664.7 446.9a1.38 3.05 0 1 0 .01 0zM664.7 440.8a1.38 3.05 0 1 0 .01 0zM664.7 438.6a1.38 3.05 0 1 0 .01 0zM664.7 436.5a1.38 3.05 0 1 0 .01 0zM664.7 434.4a1.38 3.05 0 1 0 .01 0zM664.7 432.3a1.38 3.05 0 1 0 .01 0zM664.7 430.3a1.38 3.05 0 1 0 .01 0zM667 465.4a1.38 3.05 0 1 0 .01 0zM667 435.7a1.38 3.05 0 1 0 .01 0zM667 430.8a1.38 3.05 0 1 0 .01 0zM667 503.6a1.38 3.05 0 1 0 .01 0zM667 459.9a1.38 3.05 0 1 0 .01 0zM667 457.5a1.38 3.05 0 1 0 .01 0zM667 489.3a1.38 3.05 0 1 0 .01 0zM667 444.5a1.38 3.05 0 1 0 .01 0zM667 460.4a1.38 3.05 0 1 0 .01 0zM667 489.3a1.38 3.05 0 1 0 .01 0zM667 458.6a1.38 3.05 0 1 0 .01 0zM667 428.9a1.38 3.05 0 1 0 .01 0zM667 428.5a1.38 3.05 0 1 0 .01 0zM669.2 424.6a1.38 3.05 0 1 0 .01 0zM669.2 451.1a1.38 3.05 0 1 0 .01 0zM669.2 435.9a1.38 3.05 0 1 0 .01 0zM669.2 457.5a1.38 3.05 0 1 0 .01 0zM669.2 448.5a1.38 3.05 0 1 0 .01 0zM669.2 453.6a1.38 3.05 0 1 0 .01 0zM669.2 457.1a1.38 3.05 0 1 0 .01 0zM669.2 431.6a1.38 3.05 0 1 0 .01 0zM669.2 443a1.38 3.05 0 1 0 .01 0zM669.2 478.3a1.38 3.05 0 1 0 .01 0zM669.2 435.5a1.38 3.05 0 1 0 .01 0zM669.2 420.7a1.38 3.05 0 1 0 .01 0zM669.2 473.7a1.38 3.05 0 1 0 .01 0zM671.2 472.5a1.38 3.05 0 1 0 .01 0zM671.2 439.5a1.38 3.05 0 1 0 .01 0zM671.2 438.5a1.38 3.05 0 1 0 .01 0zM671.2 454.2a1.38 3.05 0 1 0 .01 0zM671.2 424.5a1.38 3.05 0 1 0 .01 0zM671.2 450.7a1.38 3.05 0 1 0 .01 0zM671.2 457.1a1.38 3.05 0 1 0 .01 0zM671.2 435.7a1.38 3.05 0 1 0 .01 0zM671.2 430.6a1.38 3.05 0 1 0 .01 0zM671.2 445.1a1.38 3.05 0 1 0 .01 0zM671.2 464.1a1.38 3.05 0 1 0 .01 0zM671.2 452.6a1.38 3.05 0 1 0 .01 0zM671.2 468.4a1.38 3.05 0 1 0 .01 0zM673.2 423.8a1.38 3.05 0 1 0 .01 0zM673.2 462.9a1.38 3.05 0 1 0 .01 0zM673.2 442.7a1.38 3.05 0 1 0 .01 0zM673.2 431.9a1.38 3.05 0 1 0 .01 0zM673.2 430.1a1.38 3.05 0 1 0 .01 0zM673.2 451.4a1.38 3.05 0 1 0 .01 0zM673.2 414.7a1.38 3.05 0 1 0 .01 0zM673.2 427.8a1.38 3.05 0 1 0 .01 0zM673.2 444.4a1.38 3.05 0 1 0 .01 0zM673.2 449.6a1.38 3.05 0 1 0 .01 0zM673.2 466.1a1.38 3.05 0 1 0 .01 0zM673.2 431.5a1.38 3.05 0 1 0 .01 0zM673.2 420a1.38 3.05 0 1 0 .01 0zM675 416.5a1.38 3.05 0 1 0 .01 0zM675 471.3a1.38 3.05 0 1 0 .01 0zM675 434.5a1.38 3.05 0 1 0 .01 0zM675 456.4a1.38 3.05 0 1 0 .01 0zM675 438.3a1.38 3.05 0 1 0 .01 0zM675 450a1.38 3.05 0 1 0 .01 0zM675 451.4a1.38 3.05 0 1 0 .01 0zM675 443a1.38 3.05 0 1 0 .01 0zM675 455.1a1.38 3.05 0 1 0 .01 0zM675 438a1.38 3.05 0 1 0 .01 0zM675 456.1a1.38 3.05 0 1 0 .01 0zM675 432.1a1.38 3.05 0 1 0 .01 0zM675 433a1.38 3.05 0 1 0 .01 0zM676.8 473.7a1.38 3.05 0 1 0 .01 0zM676.8 424.4a1.38 3.05 0 1 0 .01 0zM676.8 451.1a1.38 3.05 0 1 0 .01 0zM676.8 433.2a1.38 3.05 0 1 0 .01 0zM676.8 447.2a1.38 3.05 0 1 0 .01 0zM676.8 437.4a1.38 3.05 0 1 0 .01 0zM676.8 427.2a1.38 3.05 0 1 0 .01 0zM676.8 466.8a1.38 3.05 0 1 0 .01 0zM676.8 434.4a1.38 3.05 0 1 0 .01 0zM676.8 446.6a1.38 3.05 0 1 0 .01 0zM676.8 425.7a1.38 3.05 0 1 0 .01 0zM676.8 454.8a1.38 3.05 0 1 0 .01 0zM676.8 428.5a1.38 3.05 0 1 0 .01 0zM678.5 425.1a1.38 3.05 0 1 0 .01 0zM678.5 432.9a1.38 3.05 0 1 0 .01 0zM678.5 468.4a1.38 3.05 0 1 0 .01 0zM678.5 468.4a1.38 3.05 0 1 0 .01 0zM678.5 450.7a1.38 3.05 0 1 0 .01 0zM678.5 449.2a1.38 3.05 0 1 0 .01 0zM678.5 434.1a1.38 3.05 0 1 0 .01 0zM678.5 435.4a1.38 3.05 0 1 0 .01 0zM678.5 423.2a1.38 3.05 0 1 0 .01 0zM678.5 441.7a1.38 3.05 0 1 0 .01 0zM678.5 426.6a1.38 3.05 0 1 0 .01 0zM678.5 444.1a1.38 3.05 0 1 0 .01 0zM678.5 437.3a1.38 3.05 0 1 0 .01 0zM680.1 420.1a1.38 3.05 0 1 0 .01 0zM680.1 417.6a1.38 3.05 0 1 0 .01 0zM680.1 442.5a1.38 3.05 0 1 0 .01 0zM680.1 441.4a1.38 3.05 0 1 0 .01 0zM680.1 453.1a1.38 3.05 0 1 0 .01 0zM680.1 447.9a1.38 3.05 0 1 0 .01 0zM680.1 448.8a1.38 3.05 0 1 0 .01 0zM680.1 446.1a1.38 3.05 0 1 0 .01 0zM680.1 435.7a1.38 3.05 0 1 0 .01 0zM680.1 437.7a1.38 3.05 0 1 0 .01 0zM680.1 424.1a1.38 3.05 0 1 0 .01 0zM680.1 439.7a1.38 3.05 0 1 0 .01 0zM680.1 434.4a1.38 3.05 0 1 0 .01 0zM681.6 454.5a1.38 3.05 0 1 0 .01 0zM681.6 453.9a1.38 3.05 0 1 0 .01 0zM681.6 450.5a1.38 3.05 0 1 0 .01 0zM681.6 452.6a1.38 3.05 0 1 0 .01 0zM681.6 460.4a1.38 3.05 0 1 0 .01 0zM681.6 443.7a1.38 3.05 0 1 0 .01 0zM681.6 426.2a1.38 3.05 0 1 0 .01 0zM681.6 450.3a1.38 3.05 0 1 0 .01 0zM681.6 445.2a1.38 3.05 0 1 0 .01 0zM681.6 428.2a1.38 3.05 0 1 0 .01 0zM681.6 430.5a1.38 3.05 0 1 0 .01 0zM681.6 453.4a1.38 3.05 0 1 0 .01 0zM681.6 447.8a1.38 3.05 0 1 0 .01 0zM683.1 454.2a1.38 3.05 0 1 0 .01 0zM683.1 437a1.38 3.05 0 1 0 .01 0zM683.1 437a1.38 3.05 0 1 0 .01 0zM683.1 424.2a1.38 3.05 0 1 0 .01 0zM683.1 465.4a1.38 3.05 0 1 0 .01 0zM683.1 478.3a1.38 3.05 0 1 0 .01 0zM683.1 441.2a1.38 3.05 0 1 0 .01 0zM683.1 420.1a1.38 3.05 0 1 0 .01 0zM683.1 423.2a1.38 3.05 0 1 0 .01 0zM683.1 432.4a1.38 3.05 0 1 0 .01 0zM683.1 441.7a1.38 3.05 0 1 0 .01 0zM683.1 456.4a1.38 3.05 0 1 0 .01 0zM683.1 423.7a1.38 3.05 0 1 0 .01 0zM684.5 449.2a1.38 3.05 0 1 0 .01 0zM684.5 456.1a1.38 3.05 0 1 0 .01 0zM684.5 418.1a1.38 3.05 0 1 0 .01 0zM684.5 447.6a1.38 3.05 0 1 0 .01 0zM684.5 443.7a1.38 3.05 0 1 0 .01 0zM684.5 427.6a1.38 3.05 0 1 0 .01 0zM684.5 436.5a1.38 3.05 0 1 0 .01 0zM684.5 445.1a1.38 3.05 0 1 0 .01 0zM684.5 441.3a1.38 3.05 0 1 0 .01 0zM684.5 452.6a1.38 3.05 0 1 0 .01 0zM684.5 457.8a1.38 3.05 0 1 0 .01 0zM684.5 424.2a1.38 3.05 0 1 0 .01 0zM684.5 438.8a1.38 3.05 0 1 0 .01 0zM685.9 451.8a1.38 3.05 0 1 0 .01 0zM685.9 450.5a1.38 3.05 0 1 0 .01 0zM685.9 435.4a1.38 3.05 0 1 0 .01 0zM685.9 431.9a1.38 3.05 0 1 0 .01 0zM685.9 436.8a1.38 3.05 0 1 0 .01 0zM685.9 445.8a1.38 3.05 0 1 0 .01 0zM685.9 446.9a1.38 3.05 0 1 0 .01 0zM685.9 452.1a1.38 3.05 0 1 0 .01 0zM685.9 458.2a1.38 3.05 0 1 0 .01 0zM685.9 424.6a1.38 3.05 0 1 0 .01 0zM685.9 436.4a1.38 3.05 0 1 0 .01 0zM685.9 430.6a1.38 3.05 0 1 0 .01 0zM685.9 427.2a1.38 3.05 0 1 0 .01 0zM687.2 432.8a1.38 3.05 0 1 0 .01 0zM687.2 424.5a1.38 3.05 0 1 0 .01 0zM687.2 457.8a1.38 3.05 0 1 0 .01 0zM687.2 473.7a1.38 3.05 0 1 0 .01 0zM687.2 434.9a1.38 3.05 0 1 0 .01 0zM687.2 419.8a1.38 3.05 0 1 0 .01 0zM687.2 421.5a1.38 3.05 0 1 0 .01 0zM687.2 436.3a1.38 3.05 0 1 0 .01 0zM687.2 443.7a1.38 3.05 0 1 0 .01 0zM687.2 457.5a1.38 3.05 0 1 0 .01 0zM687.2 443.1a1.38 3.05 0 1 0 .01 0zM687.2 444a1.38 3.05 0 1 0 .01 0zM687.2 438.8a1.38 3.05 0 1 0 .01 0zM688.5 461.3a1.38 3.05 0 1 0 .01 0zM688.5 451.1a1.38 3.05 0 1 0 .01 0zM688.5 434.2a1.38 3.05 0 1 0 .01 0zM688.5 460.4a1.38 3.05 0 1 0 .01 0zM688.5 426.8a1.38 3.05 0 1 0 .01 0zM689.7 453.4a1.38 3.05 0 1 0 .01 0zM689.7 436.2a1.38 3.05 0 1 0 .01 0zM689.7 433.6a1.38 3.05 0 1 0 .01 0zM689.7 410.8a1.38 3.05 0 1 0 .01 0zM689.7 439.3a1.38 3.05 0 1 0 .01 0zM690.9 424.4a1.38 3.05 0 1 0 .01 0zM690.9 424.9a1.38 3.05 0 1 0 .01 0zM690.9 455.4a1.38 3.05 0 1 0 .01 0zM690.9 452.6a1.38 3.05 0 1 0 .01 0zM690.9 432.6a1.38 3.05 0 1 0 .01 0zM692.1 411.4a1.38 3.05 0 1 0 .01 0zM692.1 431.9a1.38 3.05 0 1 0 .01 0zM692.1 449a1.38 3.05 0 1 0 .01 0zM692.1 461.3a1.38 3.05 0 1 0 .01 0zM692.1 436.1a1.38 3.05 0 1 0 .01 0zM693.2 475.1a1.38 3.05 0 1 0 .01 0zM693.2 450.5a1.38 3.05 0 1 0 .01 0zM693.2 431.4a1.38 3.05 0 1 0 .01 0zM693.2 441.4a1.38 3.05 0 1 0 .01 0zM693.2 419.7a1.38 3.05 0 1 0 .01 0zM694.3 424.7a1.38 3.05 0 1 0 .01 0zM694.3 439.1a1.38 3.05 0 1 0 .01 0zM694.3 419.5a1.38 3.05 0 1 0 .01 0zM694.3 473.7a1.38 3.05 0 1 0 .01 0zM694.3 443.6a1.38 3.05 0 1 0 .01 0zM695.4 456.4a1.38 3.05 0 1 0 .01 0zM695.4 423a1.38 3.05 0 1 0 .01 0zM695.4 452.8a1.38 3.05 0 1 0 .01 0zM695.4 473.7a1.38 3.05 0 1 0 .01 0zM695.4 456.1a1.38 3.05 0 1 0 .01 0zM696.4 433.1a1.38 3.05 0 1 0 .01 0zM696.4 443.7a1.38 3.05 0 1 0 .01 0zM696.4 443.5a1.38 3.05 0 1 0 .01 0zM696.4 464.7a1.38 3.05 0 1 0 .01 0zM696.4 425.4a1.38 3.05 0 1 0 .01 0zM697.4 429.8a1.38 3.05 0 1 0 .01 0zM697.4 443.7a1.38 3.05 0 1 0 .01 0zM697.4 436.7a1.38 3.05 0 1 0 .01 0zM697.4 451.6a1.38 3.05 0 1 0 .01 0zM697.4 430.7a1.38 3.05 0 1 0 .01 0zM698.4 445.7a1.38 3.05 0 1 0 .01 0zM698.4 439.5a1.38 3.05 0 1 0 .01 0zM698.4 433.2a1.38 3.05 0 1 0 .01 0zM698.4 430.3a1.38 3.05 0 1 0 .01 0zM698.4 443.1a1.38 3.05 0 1 0 .01 0zM699.4 449.8a1.38 3.05 0 1 0 .01 0zM699.4 434.2a1.38 3.05 0 1 0 .01 0zM699.4 424.6a1.38 3.05 0 1 0 .01 0zM699.4 435.9a1.38 3.05 0 1 0 .01 0zM699.4 447.2a1.38 3.05 0 1 0 .01 0zM700.3 416.8a1.38 3.05 0 1 0 .01 0zM700.3 422.9a1.38 3.05 0 1 0 .01 0zM700.3 441.2a1.38 3.05 0 1 0 .01 0zM700.3 443.9a1.38 3.05 0 1 0 .01 0zM700.3 430.9a1.38 3.05 0 1 0 .01 0zM701.2 450.9a1.38 3.05 0 1 0 .01 0zM701.2 448.7a1.38 3.05 0 1 0 .01 0zM701.2 443.1a1.38 3.05 0 1 0 .01 0zM701.2 419.7a1.38 3.05 0 1 0 .01 0zM701.2 436.8a1.38 3.05 0 1 0 .01 0zM702.1 426.8a1.38 3.05 0 1 0 .01 0zM702.1 443a1.38 3.05 0 1 0 .01 0zM702.1 437.3a1.38 3.05 0 1 0 .01 0zM702.1 421.6a1.38 3.05 0 1 0 .01 0zM702.1 441.3a1.38 3.05 0 1 0 .01 0zM703 419.3a1.38 3.05 0 1 0 .01 0zM703 446.6a1.38 3.05 0 1 0 .01 0zM703.8 426.1a1.38 3.05 0 1 0 .01 0zM703.8 440.3a1.38 3.05 0 1 0 .01 0zM704.7 455.4a1.38 3.05 0 1 0 .01 0zM704.7 431.5a1.38 3.05 0 1 0 .01 0zM705.5 443.9a1.38 3.05 0 1 0 .01 0zM705.5 455.7a1.38 3.05 0 1 0 .01 0zM706.3 435.3a1.38 3.05 0 1 0 .01 0zM706.3 424.6a1.38 3.05 0 1 0 .01 0zM707 391.1a1.38 3.05 0 1 0 .01 0zM707 433.7a1.38 3.05 0 1 0 .01 0zM707.8 424.7a1.38 3.05 0 1 0 .01 0zM707.8 420.8a1.38 3.05 0 1 0 .01 0zM708.6 440.8a1.38 3.05 0 1 0 .01 0zM708.6 430.7a1.38 3.05 0 1 0 .01 0zM709.3 444.4a1.38 3.05 0 1 0 .01 0zM709.3 450.5a1.38 3.05 0 1 0 .01 0zM710 439.8a1.38 3.05 0 1 0 .01 0zM710 443.7a1.38 3.05 0 1 0 .01 0zM710.7 430.4a1.38 3.05 0 1 0 .01 0zM710.7 438.1a1.38 3.05 0 1 0 .01 0zM711.4 432.2a1.38 3.05 0 1 0 .01 0zM711.4 417.6a1.38 3.05 0 1 0 .01 0zM712.1 418.6a1.38 3.05 0 1 0 .01 0zM712.1 416.6a1.38 3.05 0 1 0 .01 0zM712.8 418.5a1.38 3.05 0 1 0 .01 0zM712.8 419.6a1.38 3.05 0 1 0 .01 0zM713.4 427.2a1.38 3.05 0 1 0 .01 0zM713.4 421.4a1.38 3.05 0 1 0 .01 0zM714.1 434.1a1.38 3.05 0 1 0 .01 0zM714.1 423.4a1.38 3.05 0 1 0 .01 0zM714.7 441a1.38 3.05 0 1 0 .01 0zM714.7 443.2a1.38 3.05 0 1 0 .01 0zM715.3 452.3a1.38 3.05 0 1 0 .01 0zM715.3 423.6a1.38 3.05 0 1 0 .01 0zM715.9 454.2a1.38 3.05 0 1 0 .01 0zM715.9 415.9a1.38 3.05 0 1 0 .01 0zM716.5 422.9a1.38 3.05 0 1 0 .01 0zM716.5 409.6a1.38 3.05 0 1 0 .01 0zM717.1 425.7a1.38 3.05 0 1 0 .01 0zM717.1 419.5a1.38 3.05 0 1 0 .01 0zM717.7 452.8a1.38 3.05 0 1 0 .01 0zM717.7 417.1a1.38 3.05 0 1 0 .01 0zM718.3 423.3a1.38 3.05 0 1 0 .01 0zM718.3 461.8a1.38 3.05 0 1 0 .01 0zM718.9 410.8a1.38 3.05 0 1 0 .01 0zM718.9 417.9a1.38 3.05 0 1 0 .01 0zM719.4 441.2a1.38 3.05 0 1 0 .01 0zM719.4 430.5a1.38 3.05 0 1 0 .01 0zM720 433.9a1.38 3.05 0 1 0 .01 0zM720 418.5a1.38 3.05 0 1 0 .01 0zM720.5 424.1a1.38 3.05 0 1 0 .01 0zM720.5 428.8a1.38 3.05 0 1 0 .01 0zM721.1 436.2a1.38 3.05 0 1 0 .01 0zM721.1 413.9a1.38 3.05 0 1 0 .01 0zM721.6 419.3a1.38 3.05 0 1 0 .01 0zM721.6 444.5a1.38 3.05 0 1 0 .01 0zM722.1 415.7a1.38 3.05 0 1 0 .01 0zM722.1 426.9a1.38 3.05 0 1 0 .01 0zM722.6 420.3a1.38 3.05 0 1 0 .01 0zM722.6 419.5a1.38 3.05 0 1 0 .01 0zM723.1 430.5a1.38 3.05 0 1 0 .01 0zM723.1 447.2a1.38 3.05 0 1 0 .01 0zM723.6 448.3a1.38 3.05 0 1 0 .01 0zM723.6 448.5a1.38 3.05 0 1 0 .01 0zM724.1 439.2a1.38 3.05 0 1 0 .01 0zM724.1 430.2a1.38 3.05 0 1 0 .01 0zM724.6 412.6a1.38 3.05 0 1 0 .01 0zM724.6 460.4a1.38 3.05 0 1 0 .01 0zM725.1 443.5a1.38 3.05 0 1 0 .01 0zM725.1 452.8a1.38 3.05 0 1 0 .01 0zM734.4 426.7a1.38 3.05 0 1 0 .01 0zM742.1 434.9a1.38 3.05 0 1 0 .01 0zM737.3 421.2a1.38 3.05 0 1 0 .01 0zM735.1 406.9a1.38 3.05 0 1 0 .01 0zM736.9 421a1.38 3.05 0 1 0 .01 0zM735.5 426a1.38 3.05 0 1 0 .01 0zM734 416.2a1.38 3.05 0 1 0 .01 0zM735.5 417.2a1.38 3.05 0 1 0 .01 0zM740.3 434.5a1.38 3.05 0 1 0 .01 0zM729.2 427.1a1.38 3.05 0 1 0 .01 0zM735.5 449.2a1.38 3.05 0 1 0 .01 0zM742.7 420.6a1.38 3.05 0 1 0 .01 0zM735.1 430.1a1.38 3.05 0 1 0 .01 0zM746.2 413.5a1.38 3.05 0 1 0 .01 0zM733.2 410.8a1.38 3.05 0 1 0 .01 0zM737.6 410.4a1.38 3.05 0 1 0 .01 0zM737.6 410a1.38 3.05 0 1 0 .01 0zM734.4 452.6a1.38 3.05 0 1 0 .01 0zM738.6 417a1.38 3.05 0 1 0 .01 0zM749.1 419.8a1.38 3.05 0 1 0 .01 0zM749.8 413.3a1.38 3.05 0 1 0 .01 0zM728.7 427.9a1.38 3.05 0 1 0 .01 0zM746.7 422.1a1.38 3.05 0 1 0 .01 0zM742.1 431.2a1.38 3.05 0 1 0 .01 0zM738.6 418.3a1.38 3.05 0 1 0 .01 0zM730.9 425.4a1.38 3.05 0 1 0 .01 0zM732.5 426.2a1.38 3.05 0 1 0 .01 0zM737.3 429.1a1.38 3.05 0 1 0 .01 0zM729.2 411.4a1.38 3.05 0 1 0 .01 0zM748.6 412.9a1.38 3.05 0 1 0 .01 0zM748.8 407.5a1.38 3.05 0 1 0 .01 0zM751.1 428.3a1.38 3.05 0 1 0 .01 0zM727.4 455.7a1.38 3.05 0 1 0 .01 0zM729.6 433.6a1.38 3.05 0 1 0 .01 0zM750.8 416.4a1.38 3.05 0 1 0 .01 0zM740.6 414.8a1.38 3.05 0 1 0 .01 0zM732.5 439.1a1.38 3.05 0 1 0 .01 0zM744.5 429.5a1.38 3.05 0 1 0 .01 0zM741.2 404.1a1.38 3.05 0 1 0 .01 0zM744.5 416.9a1.38 3.05 0 1 0 .01 0zM748.6 431.1a1.38 3.05 0 1 0 .01 0zM731.7 423.7a1.38 3.05 0 1 0 .01 0zM758.3 410.2a1.38 3.05 0 1 0 .01 0zM757.3 419a1.38 3.05 0 1 0 .01 0zM777.4 402.5a1.38 3.05 0 1 0 .01 0zM767.9 409.7a1.38 3.05 0 1 0 .01 0zM774.7 413.7a1.38 3.05 0 1 0 .01 0zM776.9 406.3a1.38 3.05 0 1 0 .01 0zM774.3 414a1.38 3.05 0 1 0 .01 0zM771 409.1a1.38 3.05 0 1 0 .01 0zM761.2 397.9a1.38 3.05 0 1 0 .01 0zM760.2 412.2a1.38 3.05 0 1 0 .01 0zM762.6 399.4a1.38 3.05 0 1 0 .01 0zM774 404.8a1.38 3.05 0 1 0 .01 0zM759.6 408.6a1.38 3.05 0 1 0 .01 0zM765.2 416.2a1.38 3.05 0 1 0 .01 0zM772.4 409.5a1.38 3.05 0 1 0 .01 0zM754.1 415.6a1.38 3.05 0 1 0 .01 0zM769 405.2a1.38 3.05 0 1 0 .01 0zM778.7 415.8a1.38 3.05 0 1 0 .01 0zM800.9 401.3a1.38 3.05 0 1 0 .01 0zM812.2 398.2a1.38 3.05 0 1 0 .01 0zM811.7 393a1.38 3.05 0 1 0 .01 0zM810.8 398.3a1.38 3.05 0 1 0 .01 0zM792.7 394.8a1.38 3.05 0 1 0 .01 0zM791.1 405.1a1.38 3.05 0 1 0 .01 0zM797.2 392.4a1.38 3.05 0 1 0 .01 0zM794.2 401.6a1.38 3.05 0 1 0 .01 0zM839.9 382.4a1.38 3.05 0 1 0 .01 0zM824 392.5a1.38 3.05 0 1 0 .01 0z" fill="#008000"/>
<path d="M668.6 533 L668.6 533 L668.6 532.2 L668.6 531.4 L668.6 530.6 L668.6 529.8 L668.6 529.1 L668.7 528.3 L668.7 527.5 L668.7 526.7 L668.7 525.9 L668.7 525.1 L668.7 524.3 L668.7 523.5 L668.7 522.8 L668.7 522 L668.7 521.2 L668.8 520.4 L668.8 519.6 L668.8 518.8 L668.8 518 L668.8 517.2 L668.8 516.5 L668.9 515.7 L668.9 514.9 L668.9 514.1 L668.9 513.3 L669 512.5 L669 511.7 L669 510.9 L669 510.1 L669.1 509.4 L669.1 508.6 L669.1 507.8 L669.2 507 L669.2 506.2 L669.3 505.4 L669.3 504.6 L669.4 503.8 L669.4 503.1 L669.5 502.3 L669.5 501.5 L669.6 500.7 L669.6 499.9 L669.7 499.1 L669.8 498.3 L669.9 497.5 L669.9 496.7 L670 496 L670.1 495.2 L670.2 494.4 L670.3 493.6 L670.4 492.8 L670.5 492 L670.7 491.2 L670.8 490.4 L670.9 489.7 L671.1 488.9 L671.2 488.1 L671.4 487.3 L671.5 486.5 L671.7 485.7 L671.9 484.9 L672.1 484.1 L672.3 483.4 L672.5 482.6 L672.8 481.8 L673 481 L673.3 480.2 L673.5 479.4 L673.8 478.6 L674.1 477.8 L674.4 477 L674.8 476.3 L675.1 475.5 L675.5 474.7 L675.9 473.9 L676.3 473.1 L676.7 472.3 L677.1 471.5 L677.6 470.7 L678 470 L678.5 469.2 L679.1 468.4 L679.6 467.6 L680.2 466.8 L680.7 466 L681.3 465.2 L682 464.4 L682.6 463.6 L683.3 462.9 L684 462.1 L684.8 461.3 L685.5 460.5 L686.3 459.7 L687.1 458.9 L687.9 458.1 L688.8 457.3 L689.7 456.6 L690.6 455.8 L691.5 455 L692.5 454.2 L693.5 453.4 L694.5 452.6 L695.6 451.8 L696.7 451 L697.8 450.3 L698.9 449.5 L700.1 448.7 L701.2 447.9 L702.4 447.1 L703.7 446.3 L704.9 445.5 L706.2 444.7 L707.5 443.9 L708.9 443.2 L710.2 442.4 L711.6 441.6 L713 440.8 L714.4 440 L715.9 439.2 L717.3 438.4 L718.8 437.6 L720.3 436.9 L721.9 436.1 L723.4 435.3 L725 434.5 L726.6 433.7 L728.2 432.9 L729.9 432.1 L731.5 431.3 L733.2 430.6 L734.9 429.8 L736.6 429 L738.3 428.2 L740 427.4 L741.8 426.6 L743.5 425.8 L745.3 425 L747.1 424.2 L748.9 423.5 L750.8 422.7 L752.6 421.9 L754.4 421.1 L756.3 420.3 L758.2 419.5 L760.1 418.7 L762 417.9 L763.9 417.2 L765.8 416.4 L767.8 415.6 L769.7 414.8 L771.7 414 L773.6 413.2 L775.6 412.4 L777.6 411.6 L779.6 410.8 L781.6 410.1 L783.6 409.3 L785.6 408.5 L787.6 407.7 L789.7 406.9 L791.7 406.1 L793.8 405.3 L795.8 404.5 L797.9 403.8 L800 403 L802.1 402.2 L804.1 401.4 L806.2 400.6 L808.3 399.8 L810.4 399 L812.6 398.2 L814.7 397.5 L816.8 396.7 L818.9 395.9 L821 395.1 L823.2 394.3 L825.3 393.5 L827.5 392.7 L829.6 391.9 L831.8 391.1 L833.9 390.4 L836.1 389.6 L838.3 388.8 L840.4 388 L842.6 387.2 L844.8 386.4 L847 385.6 L849.2 384.8 L851.4 384.1 L853.5 383.3 L855.7 382.5 L857.9 381.7 L860.1 380.9 L862.3 380.1 L864.6 379.3 L866.8 378.5 L869 377.7 L871.2 377 L873.4 376.2 L875.6 375.4 L877.9 374.6 L880.1 373.8 L882.3 373 L884.5 372.2 L886.8 371.4 L889 370.7 L891.2 369.9 L893.5 369.1 L895.7 368.3 L898 367.5 L900.2 366.7 L902.4 365.9 L904.7 365.1 L906.9 364.4 L909.2 363.6 L911.4 362.8 L913.7 362 L915.9 361.2 L918.2 360.4 L920.4 359.6 L922.7 358.8 L925 358 L927.2 357.3 L929.5 356.5 L931.7 355.7 L934 354.9 L936.3 354.1 L938.5 353.3 L940.8 352.5 L943.1 351.7 L945.3 351 L947.6 350.2 L949.9 349.4 L952.1 348.6 L954.4 347.8 L956.7 347 L959 346.2 L961.2 345.4 L963.5 344.6 L965.8 343.9 L968.1 343.1 L970.3 342.3 L972.6 341.5 L974.9 340.7 L977.2 339.9 L979.4 339.1 L981.7 338.3 L984 337.6 L986.3 336.8 L988.6 336 L990.9 335.2 L993.1 334.4 L995.4 333.6 L997.7 332.8 L1000 332 L1002.3 331.3 L1004.6 330.5 L1006.8 329.7 L1009.1 328.9 L1011 328.2" stroke="#2020ff" stroke-width="1.3" fill="none"/>
<path d="M560.2 461.3 L563.4 460.7 L566.6 460 L569.9 459.3 L573.1 458.7 L576.3 458 L579.5 457.3 L582.7 456.6 L586 455.9 L589.2 455.2 L592.4 454.6 L595.6 453.8 L598.8 453.1 L602.1 452.4 L605.3 451.7 L608.5 451 L611.7 450.3 L614.9 449.5 L618.2 448.8 L621.4 448.1 L624.6 447.3 L627.8 446.6 L631 445.8 L634.3 445 L637.5 444.3 L640.7 443.5 L643.9 442.7 L647.1 441.9 L650.4 441.1 L653.6 440.3 L656.8 439.5 L660 438.7 L663.2 437.9 L666.5 437.1 L669.7 436.3 L672.9 435.4 L676.1 434.6 L679.3 433.7 L682.6 432.9 L685.8 432 L689 431.2 L692.2 430.3 L695.4 429.4 L698.7 428.5 L701.9 427.7 L705.1 426.8 L708.3 425.9 L711.5 425 L714.8 424.1 L718 423.2 L721.2 422.2 L724.4 421.3 L727.6 420.4 L730.9 419.4 L734.1 418.5 L737.3 417.6 L740.5 416.6 L743.7 415.7 L747 414.7 L750.2 413.7 L753.4 412.8 L756.6 411.8 L759.8 410.8 L763.1 409.9 L766.3 408.9 L769.5 407.9 L772.7 406.9 L775.9 405.9 L779.2 404.9 L782.4 403.9 L785.6 402.9 L788.8 401.9 L792 400.9 L795.3 399.9 L798.5 398.8 L801.7 397.8 L804.9 396.8 L808.1 395.8 L811.4 394.7 L814.6 393.7 L817.8 392.7 L821 391.6 L824.2 390.6 L827.5 389.5 L830.7 388.5 L833.9 387.4 L837.1 386.4 L840.3 385.3 L843.6 384.3 L846.8 383.2 L850 382.2 L853.2 381.1 L856.4 380.1 L859.7 379 L862.9 377.9 L866.1 376.9 L869.3 375.8 L872.5 374.7 L875.8 373.7 L879 372.6 L882.2 371.5 L885.4 370.4 L888.6 369.4 L891.9 368.3 L895.1 367.2 L898.3 366.1 L901.5 365.1 L904.7 364 L908 362.9 L911.2 361.8 L914.4 360.7 L917.6 359.6 L920.8 358.6 L924.1 357.5 L927.3 356.4 L930.5 355.3 L933.7 354.2 L936.9 353.1 L940.2 352 L943.4 350.9 L946.6 349.9 L949.8 348.8 L953 347.7 L956.3 346.6 L959.5 345.5 L962.7 344.4 L965.9 343.3 L969.1 342.2 L972.4 341.1 L975.6 340 L978.8 338.9 L982 337.8 L985.2 336.7 L988.5 335.6 L991.7 334.5 L994.9 333.4 L998.1 332.4 L1001.3 331.3 L1004.6 330.2 L1007.8 329.1 L1011 328" stroke="#ff0000" stroke-width="1.5" fill="none"/>
<path d="M560.2 482.7 L1011 328.1" stroke="#000" stroke-width="1.5" fill="none"/>
<g fill="#000">
<rect x="555.5" y="327.8" width="2.5" height="205.2"/>
<rect x="560.2" y="539.3" width="450.8" height="3.8"/>
<rect x="554.7" y="526.9" width="2" height="1.2"/>
<rect x="554.7" y="521.6" width="2" height="1.2"/>
<rect x="554.7" y="517.9" width="2" height="1.2"/>
<rect x="554.7" y="515" width="2" height="1.2"/>
<rect x="554.7" y="512.6" width="2" height="1.2"/>
<rect x="554.7" y="510.6" width="2" height="1.2"/>
<rect x="554.7" y="508.9" width="2" height="1.2"/>
<rect x="554.7" y="507.4" width="2" height="1.2"/>
<rect x="553.9" y="505" width="2.6" height="3.2"/>
<rect x="554.7" y="497" width="2" height="1.2"/>
<rect x="554.7" y="491.8" width="2" height="1.2"/>
<rect x="554.7" y="488" width="2" height="1.2"/>
<rect x="554.7" y="485.1" width="2" height="1.2"/>
<rect x="554.7" y="482.8" width="2" height="1.2"/>
<rect x="554.7" y="480.8" width="2" height="1.2"/>
<rect x="554.7" y="479" width="2" height="1.2"/>
<rect x="554.7" y="477.5" width="2" height="1.2"/>
<rect x="553.9" y="475.1" width="2.6" height="3.2"/>
<rect x="554.7" y="467.2" width="2" height="1.2"/>
<rect x="554.7" y="461.9" width="2" height="1.2"/>
<rect x="554.7" y="458.2" width="2" height="1.2"/>
<rect x="554.7" y="455.3" width="2" height="1.2"/>
<rect x="554.7" y="452.9" width="2" height="1.2"/>
<rect x="554.7" y="450.9" width="2" height="1.2"/>
<rect x="554.7" y="449.2" width="2" height="1.2"/>
<rect x="554.7" y="447.7" width="2" height="1.2"/>
<rect x="553.9" y="445.3" width="2.6" height="3.2"/>
<rect x="554.7" y="437.3" width="2" height="1.2"/>
<rect x="554.7" y="432.1" width="2" height="1.2"/>
<rect x="554.7" y="428.3" width="2" height="1.2"/>
<rect x="554.7" y="425.4" width="2" height="1.2"/>
<rect x="554.7" y="423.1" width="2" height="1.2"/>
<rect x="554.7" y="421.1" width="2" height="1.2"/>
<rect x="554.7" y="419.3" width="2" height="1.2"/>
<rect x="554.7" y="417.8" width="2" height="1.2"/>
<rect x="553.9" y="415.4" width="2.6" height="3.2"/>
<rect x="554.7" y="407.5" width="2" height="1.2"/>
<rect x="554.7" y="402.2" width="2" height="1.2"/>
<rect x="554.7" y="398.5" width="2" height="1.2"/>
<rect x="554.7" y="395.6" width="2" height="1.2"/>
<rect x="554.7" y="393.2" width="2" height="1.2"/>
<rect x="554.7" y="391.2" width="2" height="1.2"/>
<rect x="554.7" y="389.5" width="2" height="1.2"/>
<rect x="554.7" y="388" width="2" height="1.2"/>
<rect x="553.9" y="385.6" width="2.6" height="3.2"/>
<rect x="554.7" y="377.6" width="2" height="1.2"/>
<rect x="554.7" y="372.4" width="2" height="1.2"/>
<rect x="554.7" y="368.6" width="2" height="1.2"/>
<rect x="554.7" y="365.7" width="2" height="1.2"/>
<rect x="554.7" y="363.4" width="2" height="1.2"/>
<rect x="554.7" y="361.4" width="2" height="1.2"/>
<rect x="554.7" y="359.6" width="2" height="1.2"/>
<rect x="554.7" y="358.1" width="2" height="1.2"/>
<rect x="553.9" y="355.8" width="2.6" height="3.2"/>
<rect x="554.7" y="347.8" width="2" height="1.2"/>
<rect x="554.7" y="342.5" width="2" height="1.2"/>
<rect x="554.7" y="338.8" width="2" height="1.2"/>
<rect x="554.7" y="335.9" width="2" height="1.2"/>
<rect x="554.7" y="333.5" width="2" height="1.2"/>
<rect x="554.7" y="331.5" width="2" height="1.2"/>
<rect x="554.7" y="329.8" width="2" height="1.2"/>
<rect x="554.7" y="328.3" width="2" height="1.2"/>
<rect x="568.3" y="539.3" width="1.5" height="6.2"/>
<rect x="576.6" y="539.3" width="1.7" height="9.6"/>
<rect x="603" y="539.3" width="1.5" height="6.2"/>
<rect x="629.2" y="539.3" width="1.5" height="6.2"/>
<rect x="644.5" y="539.3" width="1.5" height="6.2"/>
<rect x="655.4" y="539.3" width="1.5" height="6.2"/>
<rect x="663.7" y="539.3" width="1.7" height="9.6"/>
<rect x="690" y="539.3" width="1.5" height="6.2"/>
<rect x="716.2" y="539.3" width="1.5" height="6.2"/>
<rect x="731.5" y="539.3" width="1.5" height="6.2"/>
<rect x="742.4" y="539.3" width="1.5" height="6.2"/>
<rect x="750.8" y="539.3" width="1.7" height="9.6"/>
<rect x="777.1" y="539.3" width="1.5" height="6.2"/>
<rect x="803.3" y="539.3" width="1.5" height="6.2"/>
<rect x="818.6" y="539.3" width="1.5" height="6.2"/>
<rect x="829.5" y="539.3" width="1.5" height="6.2"/>
<rect x="837.8" y="539.3" width="1.7" height="9.6"/>
<rect x="864.1" y="539.3" width="1.5" height="6.2"/>
<rect x="890.3" y="539.3" width="1.5" height="6.2"/>
<rect x="905.6" y="539.3" width="1.5" height="6.2"/>
<rect x="916.5" y="539.3" width="1.5" height="6.2"/>
<rect x="924.9" y="539.3" width="1.7" height="9.6"/>
<rect x="951.2" y="539.3" width="1.5" height="6.2"/>
<rect x="977.4" y="539.3" width="1.5" height="6.2"/>
<rect x="992.7" y="539.3" width="1.5" height="6.2"/>
<rect x="1003.6" y="539.3" width="1.5" height="6.2"/>
</g>
<g font-family="'Liberation Serif', serif" font-size="22.3" fill="#000" stroke="#000" stroke-width="0.4">
<text transform="translate(552.3 365) scale(0.5 1)" text-anchor="end">0.1</text>
<text transform="translate(552.3 394.8) scale(0.5 1)" text-anchor="end">0.01</text>
<text transform="translate(552.3 424.7) scale(0.5 1)" text-anchor="end">0.001</text>
<text transform="translate(552.3 454.5) scale(0.5 1)" text-anchor="end">0.0001</text>
<text transform="translate(552.3 484.4) scale(0.5 1)" text-anchor="end">1e-05</text>
<text transform="translate(552.3 514.2) scale(0.5 1)" text-anchor="end">1e-06</text>
<text transform="translate(577.7 568.3) scale(0.5 1)" text-anchor="middle">1e-05</text>
<text transform="translate(664.8 568.3) scale(0.5 1)" text-anchor="middle">0.0001</text>
<text transform="translate(751.8 568.3) scale(0.5 1)" text-anchor="middle">0.001</text>
<text transform="translate(838.9 568.3) scale(0.5 1)" text-anchor="middle">0.01</text>
<text transform="translate(925.9 568.3) scale(0.5 1)" text-anchor="middle">0.1</text>
</g>
</g>
<g font-family="'Liberation Serif', serif" font-size="22" fill="#000" stroke="#000" stroke-width="0.2">
<text x="148.8" y="294.1">(a)</text>
<text x="182.1" y="294.1">Monomial averages.</text>
</g>
<g font-family="'Liberation Serif', serif" font-size="22" fill="#000" stroke="#000" stroke-width="0.2">
<text x="661.2" y="294.1">(b)</text>
<text x="695.1" y="294.1">Patterns of Range 1.</text>
</g>
<g font-family="'Liberation Serif', serif" font-size="22" fill="#000" stroke="#000" stroke-width="0.2">
<text x="149" y="611.5">(c)</text>
<text x="182.2" y="611.5">Patterns of Range 2.</text>
</g>
<g font-family="'Liberation Serif', serif" font-size="22" fill="#000" stroke="#000" stroke-width="0.2">
<text x="661" y="611.5">(d)</text>
<text x="696.1" y="611.5">Patterns of Range 3.</text>
</g>
</svg>
</body></html>
